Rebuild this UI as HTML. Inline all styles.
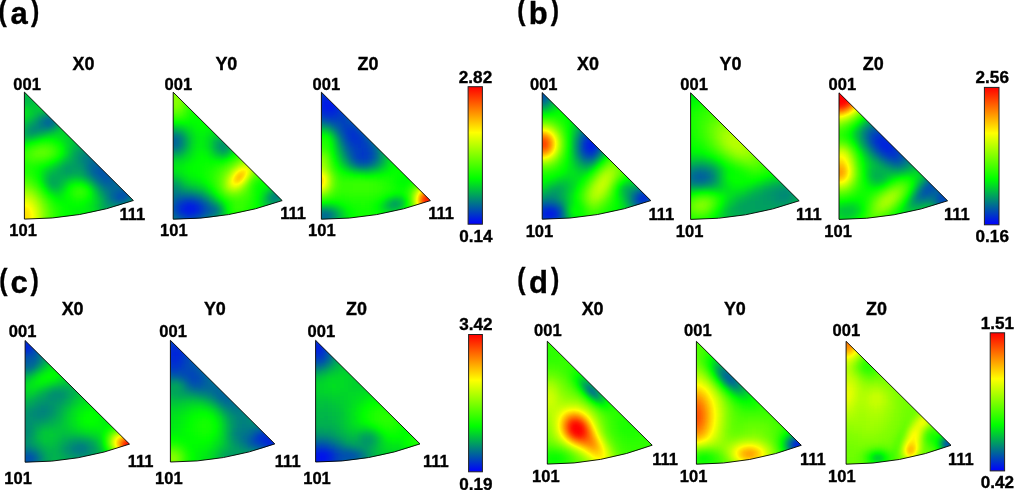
<!DOCTYPE html><html><head><meta charset="utf-8"><title>IPF</title><style>html,body{margin:0;padding:0;background:#fff;width:1015px;height:490px;overflow:hidden}svg{display:block}text{font-family:"Liberation Sans",Arial,sans-serif;font-weight:bold;fill:#000;stroke:#000;stroke-width:0.35px}</style></head><body>
<svg width="1015" height="490" viewBox="0 0 1015 490" shape-rendering="crispEdges">
<defs>
<linearGradient id="cb" x1="0" y1="1" x2="0" y2="0"><stop offset="0" stop-color="#0000ff"/><stop offset="0.3333" stop-color="#00ff00"/><stop offset="0.6667" stop-color="#ffff00"/><stop offset="1" stop-color="#ff0000"/></linearGradient>
<filter id="fm" x="-15%" y="-15%" width="130%" height="130%" color-interpolation-filters="sRGB"><feGaussianBlur stdDeviation="2.2"/><feComponentTransfer><feFuncR type="table" tableValues="0 0 1 1"/><feFuncG type="table" tableValues="0 1 1 0"/><feFuncB type="table" tableValues="1 0 0 0"/></feComponentTransfer></filter>
<clipPath id="caX"><path d="M24.40,92.10 L133.40,200.50 A325,325 0 0 1 24.40,219.10 Z"/></clipPath>
<clipPath id="caY"><path d="M173.20,92.20 L282.20,200.60 A325,325 0 0 1 173.20,219.20 Z"/></clipPath>
<clipPath id="caZ"><path d="M321.40,92.20 L430.40,200.60 A325,325 0 0 1 321.40,219.20 Z"/></clipPath>
<clipPath id="cbX"><path d="M542.20,92.60 L650.80,200.60 A325,325 0 0 1 542.20,219.20 Z"/></clipPath>
<clipPath id="cbY"><path d="M690.60,92.80 L799.20,200.80 A325,325 0 0 1 690.60,219.40 Z"/></clipPath>
<clipPath id="cbZ"><path d="M839.00,92.80 L947.60,200.80 A325,325 0 0 1 839.00,219.40 Z"/></clipPath>
<clipPath id="ccX"><path d="M25.10,340.50 L129.50,444.10 A305,305 0 0 1 25.10,462.20 Z"/></clipPath>
<clipPath id="ccY"><path d="M170.40,340.30 L274.80,443.90 A305,305 0 0 1 170.40,462.00 Z"/></clipPath>
<clipPath id="ccZ"><path d="M315.60,340.30 L420.00,443.90 A305,305 0 0 1 315.60,462.00 Z"/></clipPath>
<clipPath id="cdX"><path d="M547.30,341.20 L652.20,445.20 A300,300 0 0 1 547.30,464.10 Z"/></clipPath>
<clipPath id="cdY"><path d="M696.40,341.30 L801.30,445.30 A300,300 0 0 1 696.40,464.20 Z"/></clipPath>
<clipPath id="cdZ"><path d="M846.10,341.30 L951.00,445.30 A300,300 0 0 1 846.10,464.20 Z"/></clipPath>
</defs>
<g clip-path="url(#caX)"><g filter="url(#fm)">
<path fill="#1b1b1b" d="M120.4 192.1h4v4h-4zM120.4 196.1h4v4h-4z"/>
<path fill="#1c1c1c" d="M100.4 172.1h4v4h-4zM124.4 192.1h4v4h-4zM116.4 196.1h4v4h-4z"/>
<path fill="#1d1d1d" d="M96.4 168.1h4v4h-4zM100.4 168.1h4v4h-4zM104.4 172.1h4v4h-4zM104.4 176.1h4v4h-4zM116.4 192.1h4v4h-4z"/>
<path fill="#1e1e1e" d="M96.4 172.1h4v4h-4zM100.4 176.1h4v4h-4zM124.4 196.1h4v4h-4z"/>
<path fill="#1f1f1f" d="M96.4 164.1h4v4h-4zM108.4 176.1h4v4h-4zM104.4 180.1h4v4h-4zM108.4 180.1h4v4h-4z"/>
<path fill="#202020" d="M92.4 168.1h4v4h-4zM104.4 168.1h4v4h-4zM120.4 188.1h4v4h-4z"/>
<path fill="#212121" d="M48.4 120.1h4v4h-4zM92.4 164.1h4v4h-4zM100.4 164.1h4v4h-4zM108.4 172.1h4v4h-4zM116.4 188.1h4v4h-4zM124.4 188.1h4v4h-4zM112.4 192.1h4v4h-4zM112.4 196.1h4v4h-4z"/>
<path fill="#222222" d="M92.4 172.1h4v4h-4zM96.4 176.1h4v4h-4zM100.4 180.1h4v4h-4zM112.4 180.1h4v4h-4zM108.4 184.1h4v4h-4zM112.4 184.1h4v4h-4zM112.4 188.1h4v4h-4zM128.4 192.1h4v4h-4z"/>
<path fill="#232323" d="M44.4 120.1h4v4h-4zM92.4 160.1h4v4h-4zM112.4 176.1h4v4h-4z"/>
<path fill="#242424" d="M96.4 160.1h4v4h-4zM88.4 164.1h4v4h-4zM104.4 184.1h4v4h-4zM116.4 184.1h4v4h-4zM116.4 200.1h4v4h-4zM120.4 200.1h4v4h-4z"/>
<path fill="#252525" d="M88.4 160.1h4v4h-4zM104.4 164.1h4v4h-4zM88.4 168.1h4v4h-4zM108.4 168.1h4v4h-4zM108.4 188.1h4v4h-4zM128.4 196.1h4v4h-4z"/>
<path fill="#262626" d="M44.4 124.1h4v4h-4zM48.4 124.1h4v4h-4zM116.4 180.1h4v4h-4zM120.4 184.1h4v4h-4zM128.4 188.1h4v4h-4zM108.4 192.1h4v4h-4z"/>
<path fill="#272727" d="M48.4 116.1h4v4h-4zM52.4 120.1h4v4h-4zM88.4 156.1h4v4h-4zM92.4 156.1h4v4h-4zM100.4 160.1h4v4h-4zM112.4 172.1h4v4h-4zM112.4 200.1h4v4h-4z"/>
<path fill="#282828" d="M44.4 116.1h4v4h-4zM40.4 120.1h4v4h-4zM92.4 176.1h4v4h-4zM96.4 180.1h4v4h-4zM108.4 196.1h4v4h-4zM124.4 200.1h4v4h-4z"/>
<path fill="#292929" d="M40.4 124.1h4v4h-4zM96.4 156.1h4v4h-4zM84.4 160.1h4v4h-4zM88.4 172.1h4v4h-4zM116.4 176.1h4v4h-4zM100.4 184.1h4v4h-4zM104.4 188.1h4v4h-4z"/>
<path fill="#2a2a2a" d="M84.4 156.1h4v4h-4zM84.4 164.1h4v4h-4zM124.4 184.1h4v4h-4z"/>
<path fill="#2b2b2b" d="M108.4 164.1h4v4h-4zM120.4 180.1h4v4h-4zM132.4 192.1h4v4h-4z"/>
<path fill="#2c2c2c" d="M36.4 124.1h4v4h-4zM84.4 152.1h4v4h-4zM88.4 152.1h4v4h-4zM104.4 160.1h4v4h-4zM84.4 168.1h4v4h-4zM112.4 168.1h4v4h-4zM108.4 200.1h4v4h-4z"/>
<path fill="#2d2d2d" d="M52.4 116.1h4v4h-4zM52.4 124.1h4v4h-4zM92.4 152.1h4v4h-4zM80.4 156.1h4v4h-4zM100.4 156.1h4v4h-4zM116.4 172.1h4v4h-4zM104.4 192.1h4v4h-4z"/>
<path fill="#2e2e2e" d="M40.4 116.1h4v4h-4zM32.4 128.1h4v4h-4zM36.4 128.1h4v4h-4zM80.4 160.1h4v4h-4zM132.4 188.1h4v4h-4z"/>
<path fill="#2f2f2f" d="M36.4 120.1h4v4h-4zM40.4 128.1h4v4h-4zM80.4 152.1h4v4h-4zM128.4 184.1h4v4h-4zM100.4 188.1h4v4h-4zM132.4 196.1h4v4h-4zM128.4 200.1h4v4h-4z"/>
<path fill="#303030" d="M32.4 124.1h4v4h-4zM44.4 128.1h4v4h-4zM96.4 152.1h4v4h-4zM80.4 164.1h4v4h-4zM84.4 172.1h4v4h-4zM88.4 176.1h4v4h-4zM120.4 176.1h4v4h-4zM104.4 196.1h4v4h-4zM112.4 204.1h4v4h-4zM116.4 204.1h4v4h-4z"/>
<path fill="#313131" d="M28.4 128.1h4v4h-4zM84.4 148.1h4v4h-4zM92.4 180.1h4v4h-4zM124.4 180.1h4v4h-4zM96.4 184.1h4v4h-4zM108.4 204.1h4v4h-4zM120.4 204.1h4v4h-4z"/>
<path fill="#323232" d="M88.4 148.1h4v4h-4zM76.4 156.1h4v4h-4zM76.4 160.1h4v4h-4zM80.4 168.1h4v4h-4z"/>
<path fill="#333333" d="M48.4 128.1h4v4h-4zM80.4 148.1h4v4h-4zM76.4 152.1h4v4h-4zM76.4 164.1h4v4h-4zM104.4 200.1h4v4h-4z"/>
<path fill="#343434" d="M48.4 112.1h4v4h-4zM56.4 120.1h4v4h-4zM28.4 132.1h4v4h-4zM32.4 132.1h4v4h-4zM92.4 148.1h4v4h-4zM72.4 164.1h4v4h-4zM64.4 168.1h4v4h-4zM68.4 168.1h4v4h-4zM104.4 204.1h4v4h-4zM124.4 204.1h4v4h-4z"/>
<path fill="#353535" d="M44.4 112.1h4v4h-4zM36.4 116.1h4v4h-4zM32.4 120.1h4v4h-4zM28.4 124.1h4v4h-4zM68.4 164.1h4v4h-4zM72.4 168.1h4v4h-4zM76.4 168.1h4v4h-4zM100.4 192.1h4v4h-4z"/>
<path fill="#363636" d="M76.4 148.1h4v4h-4zM72.4 160.1h4v4h-4zM64.4 172.1h4v4h-4zM80.4 172.1h4v4h-4zM136.4 192.1h4v4h-4zM132.4 200.1h4v4h-4z"/>
<path fill="#373737" d="M56.4 116.1h4v4h-4zM56.4 124.1h4v4h-4zM24.4 128.1h4v4h-4zM24.4 132.1h4v4h-4zM36.4 132.1h4v4h-4zM84.4 144.1h4v4h-4zM72.4 156.1h4v4h-4zM64.4 164.1h4v4h-4zM68.4 172.1h4v4h-4zM52.4 180.1h4v4h-4z"/>
<path fill="#383838" d="M80.4 144.1h4v4h-4zM88.4 144.1h4v4h-4zM60.4 168.1h4v4h-4zM60.4 172.1h4v4h-4zM72.4 172.1h4v4h-4zM52.4 176.1h4v4h-4zM84.4 176.1h4v4h-4zM128.4 204.1h4v4h-4z"/>
<path fill="#393939" d="M40.4 112.1h4v4h-4zM52.4 112.1h4v4h-4zM52.4 128.1h4v4h-4zM72.4 152.1h4v4h-4zM68.4 160.1h4v4h-4zM56.4 172.1h4v4h-4zM76.4 172.1h4v4h-4zM56.4 176.1h4v4h-4zM56.4 180.1h4v4h-4zM96.4 188.1h4v4h-4zM100.4 196.1h4v4h-4zM136.4 196.1h4v4h-4z"/>
<path fill="#3a3a3a" d="M76.4 144.1h4v4h-4zM60.4 176.1h4v4h-4zM48.4 180.1h4v4h-4zM52.4 184.1h4v4h-4zM100.4 204.1h4v4h-4z"/>
<path fill="#3b3b3b" d="M28.4 120.1h4v4h-4zM24.4 124.1h4v4h-4zM40.4 132.1h4v4h-4zM52.4 172.1h4v4h-4zM48.4 176.1h4v4h-4zM100.4 200.1h4v4h-4zM104.4 208.1h4v4h-4zM108.4 208.1h4v4h-4z"/>
<path fill="#3c3c3c" d="M32.4 116.1h4v4h-4zM20.4 132.1h4v4h-4zM72.4 148.1h4v4h-4zM60.4 164.1h4v4h-4zM56.4 168.1h4v4h-4zM64.4 176.1h4v4h-4zM88.4 180.1h4v4h-4zM56.4 184.1h4v4h-4zM92.4 184.1h4v4h-4zM132.4 204.1h4v4h-4zM112.4 208.1h4v4h-4zM116.4 208.1h4v4h-4zM120.4 208.1h4v4h-4z"/>
<path fill="#3d3d3d" d="M24.4 96.1h4v4h-4zM36.4 112.1h4v4h-4zM20.4 128.1h4v4h-4zM80.4 140.1h4v4h-4zM84.4 140.1h4v4h-4zM68.4 156.1h4v4h-4zM64.4 160.1h4v4h-4zM60.4 180.1h4v4h-4zM136.4 200.1h4v4h-4zM124.4 208.1h4v4h-4z"/>
<path fill="#3e3e3e" d="M28.4 96.1h4v4h-4zM24.4 100.1h4v4h-4zM28.4 100.1h4v4h-4zM24.4 136.1h4v4h-4zM76.4 140.1h4v4h-4zM72.4 144.1h4v4h-4zM48.4 172.1h4v4h-4zM80.4 176.1h4v4h-4zM96.4 192.1h4v4h-4zM100.4 208.1h4v4h-4zM128.4 208.1h4v4h-4z"/>
<path fill="#3f3f3f" d="M24.4 92.1h4v4h-4zM28.4 92.1h4v4h-4zM20.4 96.1h4v4h-4zM60.4 120.1h4v4h-4zM56.4 128.1h4v4h-4zM44.4 132.1h4v4h-4zM28.4 136.1h4v4h-4zM68.4 176.1h4v4h-4zM48.4 184.1h4v4h-4z"/>
<path fill="#404040" d="M20.4 92.1h4v4h-4zM32.4 96.1h4v4h-4zM20.4 100.1h4v4h-4zM32.4 100.1h4v4h-4zM56.4 112.1h4v4h-4zM20.4 136.1h4v4h-4zM72.4 140.1h4v4h-4zM52.4 168.1h4v4h-4zM136.4 204.1h4v4h-4z"/>
<path fill="#414141" d="M32.4 104.1h4v4h-4zM44.4 108.1h4v4h-4zM32.4 112.1h4v4h-4zM24.4 120.1h4v4h-4zM60.4 124.1h4v4h-4zM76.4 136.1h4v4h-4zM80.4 136.1h4v4h-4zM68.4 152.1h4v4h-4zM72.4 176.1h4v4h-4zM76.4 176.1h4v4h-4zM140.4 196.1h4v4h-4z"/>
<path fill="#424242" d="M24.4 88.1h4v4h-4zM28.4 88.1h4v4h-4zM32.4 92.1h4v4h-4zM16.4 96.1h4v4h-4zM16.4 100.1h4v4h-4zM28.4 104.1h4v4h-4zM32.4 108.1h4v4h-4zM36.4 108.1h4v4h-4zM40.4 108.1h4v4h-4zM48.4 108.1h4v4h-4zM28.4 116.1h4v4h-4zM60.4 116.1h4v4h-4zM20.4 124.1h4v4h-4zM16.4 132.1h4v4h-4zM48.4 132.1h4v4h-4zM32.4 136.1h4v4h-4zM72.4 136.1h4v4h-4zM56.4 164.1h4v4h-4zM44.4 176.1h4v4h-4zM60.4 184.1h4v4h-4zM52.4 188.1h4v4h-4zM56.4 188.1h4v4h-4zM96.4 196.1h4v4h-4zM140.4 200.1h4v4h-4zM96.4 204.1h4v4h-4z"/>
<path fill="#434343" d="M20.4 88.1h4v4h-4zM16.4 92.1h4v4h-4zM20.4 104.1h4v4h-4zM24.4 104.1h4v4h-4zM16.4 136.1h4v4h-4zM68.4 148.1h4v4h-4zM44.4 180.1h4v4h-4zM64.4 180.1h4v4h-4zM96.4 200.1h4v4h-4zM140.4 204.1h4v4h-4zM96.4 208.1h4v4h-4z"/>
<path fill="#444444" d="M32.4 88.1h4v4h-4zM36.4 96.1h4v4h-4zM36.4 100.1h4v4h-4zM16.4 104.1h4v4h-4zM36.4 104.1h4v4h-4zM52.4 108.1h4v4h-4zM16.4 128.1h4v4h-4zM60.4 128.1h4v4h-4zM68.4 140.1h4v4h-4zM68.4 144.1h4v4h-4zM64.4 156.1h4v4h-4zM60.4 160.1h4v4h-4zM48.4 168.1h4v4h-4zM116.4 212.1h4v4h-4z"/>
<path fill="#454545" d="M24.4 84.1h4v4h-4zM36.4 92.1h4v4h-4zM20.4 120.1h4v4h-4zM52.4 132.1h4v4h-4zM68.4 132.1h4v4h-4zM72.4 132.1h4v4h-4zM76.4 132.1h4v4h-4zM68.4 136.1h4v4h-4zM44.4 172.1h4v4h-4zM84.4 180.1h4v4h-4zM92.4 188.1h4v4h-4z"/>
<path fill="#464646" d="M20.4 84.1h4v4h-4zM28.4 84.1h4v4h-4zM16.4 88.1h4v4h-4zM40.4 104.1h4v4h-4zM16.4 108.1h4v4h-4zM28.4 108.1h4v4h-4zM28.4 112.1h4v4h-4zM64.4 124.1h4v4h-4zM64.4 128.1h4v4h-4zM64.4 132.1h4v4h-4zM36.4 136.1h4v4h-4zM108.4 212.1h4v4h-4zM112.4 212.1h4v4h-4z"/>
<path fill="#474747" d="M40.4 100.1h4v4h-4zM24.4 116.1h4v4h-4zM64.4 120.1h4v4h-4zM16.4 124.1h4v4h-4zM68.4 128.1h4v4h-4zM72.4 128.1h4v4h-4zM56.4 132.1h4v4h-4zM60.4 132.1h4v4h-4zM64.4 136.1h4v4h-4zM52.4 164.1h4v4h-4zM48.4 188.1h4v4h-4zM104.4 212.1h4v4h-4z"/>
<path fill="#484848" d="M16.4 84.1h4v4h-4zM40.4 96.1h4v4h-4zM44.4 104.1h4v4h-4zM20.4 108.1h4v4h-4zM16.4 112.1h4v4h-4zM20.4 116.1h4v4h-4zM68.4 124.1h4v4h-4zM20.4 140.1h4v4h-4zM60.4 188.1h4v4h-4zM100.4 212.1h4v4h-4z"/>
<path fill="#494949" d="M48.4 104.1h4v4h-4zM16.4 116.1h4v4h-4zM16.4 120.1h4v4h-4zM16.4 140.1h4v4h-4zM64.4 140.1h4v4h-4zM68.4 180.1h4v4h-4zM44.4 184.1h4v4h-4zM88.4 184.1h4v4h-4zM92.4 204.1h4v4h-4z"/>
<path fill="#4a4a4a" d="M44.4 100.1h4v4h-4zM24.4 108.1h4v4h-4zM20.4 112.1h4v4h-4zM60.4 136.1h4v4h-4zM24.4 140.1h4v4h-4zM64.4 152.1h4v4h-4zM44.4 168.1h4v4h-4zM64.4 184.1h4v4h-4zM56.4 192.1h4v4h-4zM92.4 192.1h4v4h-4zM92.4 196.1h4v4h-4zM92.4 200.1h4v4h-4zM92.4 208.1h4v4h-4zM96.4 212.1h4v4h-4z"/>
<path fill="#4b4b4b" d="M40.4 136.1h4v4h-4zM64.4 144.1h4v4h-4zM56.4 160.1h4v4h-4z"/>
<path fill="#4c4c4c" d="M24.4 112.1h4v4h-4zM64.4 148.1h4v4h-4zM80.4 180.1h4v4h-4zM52.4 192.1h4v4h-4z"/>
<path fill="#4d4d4d" d="M56.4 136.1h4v4h-4zM60.4 156.1h4v4h-4zM48.4 164.1h4v4h-4zM40.4 172.1h4v4h-4zM40.4 176.1h4v4h-4zM72.4 180.1h4v4h-4zM92.4 212.1h4v4h-4z"/>
<path fill="#4e4e4e" d="M44.4 136.1h4v4h-4zM28.4 140.1h4v4h-4zM76.4 180.1h4v4h-4zM60.4 192.1h4v4h-4zM88.4 204.1h4v4h-4zM88.4 208.1h4v4h-4zM100.4 216.1h4v4h-4z"/>
<path fill="#4f4f4f" d="M48.4 136.1h4v4h-4zM52.4 136.1h4v4h-4zM60.4 140.1h4v4h-4zM88.4 212.1h4v4h-4zM96.4 216.1h4v4h-4z"/>
<path fill="#505050" d="M16.4 144.1h4v4h-4zM40.4 168.1h4v4h-4zM40.4 180.1h4v4h-4zM64.4 188.1h4v4h-4zM88.4 200.1h4v4h-4zM84.4 208.1h4v4h-4zM92.4 216.1h4v4h-4z"/>
<path fill="#515151" d="M56.4 196.1h4v4h-4zM60.4 196.1h4v4h-4zM84.4 204.1h4v4h-4zM80.4 212.1h4v4h-4zM84.4 212.1h4v4h-4zM80.4 216.1h4v4h-4zM84.4 216.1h4v4h-4zM88.4 216.1h4v4h-4zM84.4 220.1h4v4h-4z"/>
<path fill="#525252" d="M52.4 160.1h4v4h-4zM44.4 164.1h4v4h-4zM68.4 184.1h4v4h-4zM44.4 188.1h4v4h-4zM48.4 192.1h4v4h-4zM76.4 208.1h4v4h-4zM80.4 208.1h4v4h-4zM76.4 212.1h4v4h-4zM72.4 216.1h4v4h-4zM76.4 216.1h4v4h-4zM72.4 220.1h4v4h-4zM76.4 220.1h4v4h-4zM80.4 220.1h4v4h-4z"/>
<path fill="#535353" d="M32.4 140.1h4v4h-4zM20.4 144.1h4v4h-4zM60.4 144.1h4v4h-4zM88.4 188.1h4v4h-4zM88.4 196.1h4v4h-4zM80.4 204.1h4v4h-4zM72.4 208.1h4v4h-4zM72.4 212.1h4v4h-4zM68.4 216.1h4v4h-4zM68.4 220.1h4v4h-4z"/>
<path fill="#545454" d="M56.4 140.1h4v4h-4zM60.4 152.1h4v4h-4zM84.4 184.1h4v4h-4zM64.4 192.1h4v4h-4zM52.4 196.1h4v4h-4zM64.4 196.1h4v4h-4zM60.4 200.1h4v4h-4zM64.4 200.1h4v4h-4zM84.4 200.1h4v4h-4zM68.4 204.1h4v4h-4zM72.4 204.1h4v4h-4zM76.4 204.1h4v4h-4zM68.4 208.1h4v4h-4zM68.4 212.1h4v4h-4z"/>
<path fill="#555555" d="M36.4 172.1h4v4h-4zM88.4 192.1h4v4h-4zM64.4 204.1h4v4h-4zM64.4 216.1h4v4h-4zM64.4 220.1h4v4h-4z"/>
<path fill="#565656" d="M60.4 148.1h4v4h-4zM56.4 156.1h4v4h-4zM56.4 200.1h4v4h-4zM68.4 200.1h4v4h-4zM64.4 208.1h4v4h-4zM64.4 212.1h4v4h-4z"/>
<path fill="#575757" d="M36.4 140.1h4v4h-4zM24.4 144.1h4v4h-4zM40.4 164.1h4v4h-4zM36.4 168.1h4v4h-4zM36.4 176.1h4v4h-4zM40.4 184.1h4v4h-4zM72.4 200.1h4v4h-4zM80.4 200.1h4v4h-4zM60.4 204.1h4v4h-4z"/>
<path fill="#585858" d="M52.4 140.1h4v4h-4zM16.4 148.1h4v4h-4zM48.4 160.1h4v4h-4zM68.4 196.1h4v4h-4zM76.4 200.1h4v4h-4zM60.4 216.1h4v4h-4zM60.4 220.1h4v4h-4z"/>
<path fill="#595959" d="M72.4 184.1h4v4h-4zM68.4 188.1h4v4h-4zM60.4 208.1h4v4h-4zM60.4 212.1h4v4h-4z"/>
<path fill="#5a5a5a" d="M68.4 192.1h4v4h-4zM84.4 196.1h4v4h-4z"/>
<path fill="#5b5b5b" d="M40.4 140.1h4v4h-4zM48.4 140.1h4v4h-4zM56.4 144.1h4v4h-4zM36.4 164.1h4v4h-4zM32.4 168.1h4v4h-4zM80.4 184.1h4v4h-4zM52.4 200.1h4v4h-4zM56.4 204.1h4v4h-4zM56.4 224.1h4v4h-4z"/>
<path fill="#5c5c5c" d="M44.4 140.1h4v4h-4zM20.4 148.1h4v4h-4zM32.4 172.1h4v4h-4zM36.4 180.1h4v4h-4zM76.4 184.1h4v4h-4zM48.4 196.1h4v4h-4zM72.4 196.1h4v4h-4zM56.4 220.1h4v4h-4z"/>
<path fill="#5d5d5d" d="M28.4 144.1h4v4h-4zM16.4 152.1h4v4h-4zM16.4 164.1h4v4h-4zM44.4 192.1h4v4h-4zM56.4 216.1h4v4h-4z"/>
<path fill="#5e5e5e" d="M56.4 152.1h4v4h-4zM16.4 156.1h4v4h-4zM52.4 156.1h4v4h-4zM16.4 160.1h4v4h-4zM44.4 160.1h4v4h-4zM20.4 164.1h4v4h-4zM32.4 164.1h4v4h-4zM16.4 168.1h4v4h-4zM28.4 168.1h4v4h-4zM84.4 188.1h4v4h-4zM80.4 196.1h4v4h-4zM56.4 208.1h4v4h-4zM56.4 212.1h4v4h-4z"/>
<path fill="#5f5f5f" d="M56.4 148.1h4v4h-4zM24.4 164.1h4v4h-4zM28.4 164.1h4v4h-4zM20.4 168.1h4v4h-4zM24.4 168.1h4v4h-4zM32.4 176.1h4v4h-4zM84.4 192.1h4v4h-4zM76.4 196.1h4v4h-4z"/>
<path fill="#606060" d="M20.4 160.1h4v4h-4zM28.4 172.1h4v4h-4zM40.4 188.1h4v4h-4zM72.4 188.1h4v4h-4z"/>
<path fill="#616161" d="M20.4 152.1h4v4h-4zM40.4 160.1h4v4h-4zM72.4 192.1h4v4h-4zM52.4 204.1h4v4h-4zM52.4 224.1h4v4h-4z"/>
<path fill="#626262" d="M32.4 144.1h4v4h-4zM52.4 144.1h4v4h-4zM24.4 148.1h4v4h-4zM20.4 156.1h4v4h-4zM16.4 172.1h4v4h-4zM20.4 172.1h4v4h-4zM24.4 172.1h4v4h-4z"/>
<path fill="#636363" d="M24.4 160.1h4v4h-4zM52.4 220.1h4v4h-4z"/>
<path fill="#646464" d="M28.4 160.1h4v4h-4zM36.4 160.1h4v4h-4zM36.4 184.1h4v4h-4zM76.4 188.1h4v4h-4zM80.4 188.1h4v4h-4zM80.4 192.1h4v4h-4zM48.4 200.1h4v4h-4zM52.4 208.1h4v4h-4zM52.4 216.1h4v4h-4z"/>
<path fill="#656565" d="M48.4 156.1h4v4h-4zM32.4 160.1h4v4h-4zM28.4 176.1h4v4h-4zM76.4 192.1h4v4h-4zM52.4 212.1h4v4h-4z"/>
<path fill="#666666" d="M36.4 144.1h4v4h-4zM24.4 156.1h4v4h-4zM32.4 180.1h4v4h-4z"/>
<path fill="#676767" d="M48.4 144.1h4v4h-4zM28.4 148.1h4v4h-4zM24.4 152.1h4v4h-4zM52.4 152.1h4v4h-4zM16.4 176.1h4v4h-4zM44.4 196.1h4v4h-4z"/>
<path fill="#686868" d="M52.4 148.1h4v4h-4zM20.4 176.1h4v4h-4zM24.4 176.1h4v4h-4z"/>
<path fill="#696969" d="M40.4 144.1h4v4h-4zM44.4 144.1h4v4h-4zM48.4 204.1h4v4h-4z"/>
<path fill="#6a6a6a" d="M28.4 156.1h4v4h-4zM44.4 156.1h4v4h-4zM40.4 192.1h4v4h-4zM48.4 224.1h4v4h-4z"/>
<path fill="#6c6c6c" d="M28.4 152.1h4v4h-4zM32.4 156.1h4v4h-4zM28.4 180.1h4v4h-4zM48.4 220.1h4v4h-4z"/>
<path fill="#6d6d6d" d="M32.4 148.1h4v4h-4zM40.4 156.1h4v4h-4zM36.4 188.1h4v4h-4zM48.4 208.1h4v4h-4zM48.4 216.1h4v4h-4z"/>
<path fill="#6e6e6e" d="M48.4 148.1h4v4h-4zM48.4 152.1h4v4h-4zM36.4 156.1h4v4h-4zM16.4 180.1h4v4h-4zM32.4 184.1h4v4h-4zM48.4 212.1h4v4h-4z"/>
<path fill="#6f6f6f" d="M24.4 180.1h4v4h-4zM44.4 200.1h4v4h-4z"/>
<path fill="#707070" d="M32.4 152.1h4v4h-4zM20.4 180.1h4v4h-4z"/>
<path fill="#717171" d="M36.4 148.1h4v4h-4z"/>
<path fill="#727272" d="M40.4 148.1h4v4h-4zM44.4 148.1h4v4h-4zM44.4 152.1h4v4h-4z"/>
<path fill="#737373" d="M36.4 152.1h4v4h-4z"/>
<path fill="#747474" d="M40.4 152.1h4v4h-4zM40.4 196.1h4v4h-4z"/>
<path fill="#757575" d="M28.4 184.1h4v4h-4zM44.4 204.1h4v4h-4zM44.4 224.1h4v4h-4z"/>
<path fill="#777777" d="M16.4 184.1h4v4h-4zM36.4 192.1h4v4h-4z"/>
<path fill="#787878" d="M32.4 188.1h4v4h-4zM44.4 220.1h4v4h-4z"/>
<path fill="#797979" d="M20.4 184.1h4v4h-4zM24.4 184.1h4v4h-4zM44.4 208.1h4v4h-4zM44.4 216.1h4v4h-4z"/>
<path fill="#7a7a7a" d="M44.4 212.1h4v4h-4z"/>
<path fill="#7c7c7c" d="M40.4 200.1h4v4h-4z"/>
<path fill="#808080" d="M28.4 188.1h4v4h-4z"/>
<path fill="#818181" d="M16.4 188.1h4v4h-4zM36.4 196.1h4v4h-4z"/>
<path fill="#828282" d="M40.4 204.1h4v4h-4zM40.4 224.1h4v4h-4z"/>
<path fill="#838383" d="M24.4 188.1h4v4h-4zM32.4 192.1h4v4h-4z"/>
<path fill="#848484" d="M20.4 188.1h4v4h-4z"/>
<path fill="#868686" d="M40.4 208.1h4v4h-4zM40.4 220.1h4v4h-4z"/>
<path fill="#888888" d="M40.4 212.1h4v4h-4zM40.4 216.1h4v4h-4z"/>
<path fill="#898989" d="M36.4 200.1h4v4h-4z"/>
<path fill="#8b8b8b" d="M16.4 192.1h4v4h-4zM28.4 192.1h4v4h-4z"/>
<path fill="#8d8d8d" d="M32.4 196.1h4v4h-4z"/>
<path fill="#8f8f8f" d="M20.4 192.1h4v4h-4zM24.4 192.1h4v4h-4z"/>
<path fill="#909090" d="M36.4 204.1h4v4h-4zM36.4 224.1h4v4h-4z"/>
<path fill="#959595" d="M28.4 196.1h4v4h-4zM36.4 208.1h4v4h-4zM36.4 220.1h4v4h-4z"/>
<path fill="#969696" d="M16.4 196.1h4v4h-4zM32.4 200.1h4v4h-4z"/>
<path fill="#979797" d="M36.4 212.1h4v4h-4zM36.4 216.1h4v4h-4z"/>
<path fill="#9a9a9a" d="M20.4 196.1h4v4h-4zM24.4 196.1h4v4h-4z"/>
<path fill="#9d9d9d" d="M32.4 204.1h4v4h-4zM32.4 224.1h4v4h-4z"/>
<path fill="#9f9f9f" d="M16.4 200.1h4v4h-4zM28.4 200.1h4v4h-4z"/>
<path fill="#a2a2a2" d="M32.4 208.1h4v4h-4zM32.4 220.1h4v4h-4z"/>
<path fill="#a4a4a4" d="M20.4 200.1h4v4h-4zM24.4 200.1h4v4h-4z"/>
<path fill="#a5a5a5" d="M32.4 212.1h4v4h-4zM32.4 216.1h4v4h-4z"/>
<path fill="#a7a7a7" d="M16.4 204.1h4v4h-4zM28.4 204.1h4v4h-4zM16.4 224.1h4v4h-4zM28.4 224.1h4v4h-4z"/>
<path fill="#adadad" d="M20.4 204.1h4v4h-4zM24.4 204.1h4v4h-4zM16.4 208.1h4v4h-4zM28.4 208.1h4v4h-4zM16.4 220.1h4v4h-4zM28.4 220.1h4v4h-4zM20.4 224.1h4v4h-4zM24.4 224.1h4v4h-4z"/>
<path fill="#b0b0b0" d="M16.4 212.1h4v4h-4zM28.4 212.1h4v4h-4zM16.4 216.1h4v4h-4zM28.4 216.1h4v4h-4z"/>
<path fill="#b3b3b3" d="M20.4 208.1h4v4h-4zM24.4 208.1h4v4h-4zM20.4 220.1h4v4h-4zM24.4 220.1h4v4h-4z"/>
<path fill="#b6b6b6" d="M20.4 212.1h4v4h-4zM24.4 212.1h4v4h-4zM20.4 216.1h4v4h-4zM24.4 216.1h4v4h-4z"/>
</g></g>
<path d="M24.40,92.10 L133.40,200.50 A325,325 0 0 1 24.40,219.10 Z" fill="none" stroke="#000" stroke-width="0.9" shape-rendering="geometricPrecision"/>
<g clip-path="url(#caY)"><g filter="url(#fm)">
<path fill="#080808" d="M189.2 208.2h4v4h-4z"/>
<path fill="#090909" d="M185.2 208.2h4v4h-4z"/>
<path fill="#0a0a0a" d="M185.2 204.2h4v4h-4zM189.2 204.2h4v4h-4zM193.2 208.2h4v4h-4z"/>
<path fill="#0c0c0c" d="M193.2 204.2h4v4h-4zM181.2 208.2h4v4h-4z"/>
<path fill="#0d0d0d" d="M185.2 212.2h4v4h-4zM189.2 212.2h4v4h-4z"/>
<path fill="#0e0e0e" d="M181.2 204.2h4v4h-4z"/>
<path fill="#0f0f0f" d="M197.2 208.2h4v4h-4zM193.2 212.2h4v4h-4z"/>
<path fill="#111111" d="M189.2 200.2h4v4h-4zM197.2 204.2h4v4h-4zM181.2 212.2h4v4h-4z"/>
<path fill="#121212" d="M185.2 200.2h4v4h-4zM177.2 208.2h4v4h-4z"/>
<path fill="#131313" d="M193.2 200.2h4v4h-4zM177.2 204.2h4v4h-4zM197.2 212.2h4v4h-4z"/>
<path fill="#141414" d="M181.2 200.2h4v4h-4z"/>
<path fill="#151515" d="M201.2 208.2h4v4h-4z"/>
<path fill="#161616" d="M177.2 212.2h4v4h-4z"/>
<path fill="#171717" d="M201.2 204.2h4v4h-4zM185.2 216.2h4v4h-4zM189.2 216.2h4v4h-4z"/>
<path fill="#181818" d="M177.2 200.2h4v4h-4zM197.2 200.2h4v4h-4zM193.2 216.2h4v4h-4z"/>
<path fill="#191919" d="M173.2 208.2h4v4h-4zM201.2 212.2h4v4h-4z"/>
<path fill="#1a1a1a" d="M173.2 204.2h4v4h-4zM181.2 216.2h4v4h-4z"/>
<path fill="#1c1c1c" d="M205.2 208.2h4v4h-4zM197.2 216.2h4v4h-4z"/>
<path fill="#1d1d1d" d="M185.2 196.2h4v4h-4zM189.2 196.2h4v4h-4zM173.2 212.2h4v4h-4z"/>
<path fill="#1e1e1e" d="M181.2 196.2h4v4h-4zM173.2 200.2h4v4h-4zM205.2 204.2h4v4h-4z"/>
<path fill="#1f1f1f" d="M193.2 196.2h4v4h-4zM201.2 200.2h4v4h-4zM205.2 212.2h4v4h-4zM177.2 216.2h4v4h-4z"/>
<path fill="#202020" d="M177.2 196.2h4v4h-4zM209.2 208.2h4v4h-4z"/>
<path fill="#212121" d="M173.2 140.2h4v4h-4z"/>
<path fill="#222222" d="M169.2 204.2h4v4h-4zM169.2 208.2h4v4h-4zM201.2 216.2h4v4h-4z"/>
<path fill="#232323" d="M173.2 196.2h4v4h-4zM197.2 196.2h4v4h-4zM209.2 212.2h4v4h-4z"/>
<path fill="#242424" d="M173.2 136.2h4v4h-4zM173.2 144.2h4v4h-4zM213.2 208.2h4v4h-4zM185.2 220.2h4v4h-4zM189.2 220.2h4v4h-4z"/>
<path fill="#252525" d="M169.2 140.2h4v4h-4zM177.2 140.2h4v4h-4zM169.2 200.2h4v4h-4zM209.2 204.2h4v4h-4zM169.2 212.2h4v4h-4zM173.2 216.2h4v4h-4zM193.2 220.2h4v4h-4z"/>
<path fill="#262626" d="M205.2 200.2h4v4h-4zM181.2 220.2h4v4h-4z"/>
<path fill="#272727" d="M169.2 144.2h4v4h-4zM177.2 144.2h4v4h-4zM177.2 192.2h4v4h-4zM205.2 216.2h4v4h-4z"/>
<path fill="#282828" d="M169.2 136.2h4v4h-4zM177.2 136.2h4v4h-4zM173.2 192.2h4v4h-4zM181.2 192.2h4v4h-4zM213.2 212.2h4v4h-4zM197.2 220.2h4v4h-4z"/>
<path fill="#292929" d="M185.2 192.2h4v4h-4zM169.2 196.2h4v4h-4zM273.2 196.2h4v4h-4z"/>
<path fill="#2a2a2a" d="M189.2 192.2h4v4h-4zM201.2 196.2h4v4h-4zM177.2 220.2h4v4h-4z"/>
<path fill="#2b2b2b" d="M165.2 204.2h4v4h-4zM213.2 204.2h4v4h-4zM165.2 208.2h4v4h-4z"/>
<path fill="#2c2c2c" d="M173.2 148.2h4v4h-4zM173.2 188.2h4v4h-4zM277.2 196.2h4v4h-4zM169.2 216.2h4v4h-4z"/>
<path fill="#2d2d2d" d="M173.2 132.2h4v4h-4zM169.2 192.2h4v4h-4zM193.2 192.2h4v4h-4zM273.2 192.2h4v4h-4zM277.2 192.2h4v4h-4zM209.2 216.2h4v4h-4zM201.2 220.2h4v4h-4z"/>
<path fill="#2e2e2e" d="M165.2 140.2h4v4h-4zM181.2 140.2h4v4h-4zM177.2 188.2h4v4h-4zM165.2 200.2h4v4h-4zM217.2 208.2h4v4h-4zM165.2 212.2h4v4h-4z"/>
<path fill="#2f2f2f" d="M169.2 148.2h4v4h-4zM177.2 148.2h4v4h-4zM269.2 196.2h4v4h-4zM209.2 200.2h4v4h-4zM173.2 220.2h4v4h-4z"/>
<path fill="#303030" d="M169.2 132.2h4v4h-4zM177.2 132.2h4v4h-4zM165.2 136.2h4v4h-4zM181.2 136.2h4v4h-4zM165.2 144.2h4v4h-4zM181.2 144.2h4v4h-4zM221.2 144.2h4v4h-4zM169.2 188.2h4v4h-4zM197.2 192.2h4v4h-4z"/>
<path fill="#313131" d="M173.2 184.2h4v4h-4zM165.2 196.2h4v4h-4zM273.2 200.2h4v4h-4zM217.2 212.2h4v4h-4zM185.2 224.2h4v4h-4zM189.2 224.2h4v4h-4z"/>
<path fill="#323232" d="M221.2 148.2h4v4h-4zM181.2 188.2h4v4h-4zM205.2 196.2h4v4h-4zM205.2 220.2h4v4h-4zM193.2 224.2h4v4h-4z"/>
<path fill="#333333" d="M217.2 144.2h4v4h-4zM225.2 144.2h4v4h-4zM165.2 216.2h4v4h-4zM213.2 216.2h4v4h-4zM181.2 224.2h4v4h-4z"/>
<path fill="#343434" d="M221.2 140.2h4v4h-4zM169.2 184.2h4v4h-4zM177.2 184.2h4v4h-4zM269.2 200.2h4v4h-4z"/>
<path fill="#353535" d="M185.2 188.2h4v4h-4zM165.2 192.2h4v4h-4zM269.2 192.2h4v4h-4zM281.2 192.2h4v4h-4zM169.2 220.2h4v4h-4zM197.2 224.2h4v4h-4z"/>
<path fill="#363636" d="M217.2 140.2h4v4h-4zM165.2 148.2h4v4h-4zM181.2 148.2h4v4h-4zM217.2 148.2h4v4h-4zM225.2 148.2h4v4h-4zM173.2 152.2h4v4h-4zM201.2 192.2h4v4h-4zM281.2 196.2h4v4h-4zM277.2 200.2h4v4h-4zM217.2 204.2h4v4h-4zM177.2 224.2h4v4h-4z"/>
<path fill="#373737" d="M165.2 132.2h4v4h-4zM181.2 132.2h4v4h-4zM189.2 188.2h4v4h-4zM209.2 220.2h4v4h-4z"/>
<path fill="#383838" d="M225.2 140.2h4v4h-4zM169.2 152.2h4v4h-4zM177.2 152.2h4v4h-4zM173.2 180.2h4v4h-4zM277.2 188.2h4v4h-4zM213.2 200.2h4v4h-4zM201.2 224.2h4v4h-4z"/>
<path fill="#393939" d="M173.2 128.2h4v4h-4zM185.2 140.2h4v4h-4zM165.2 188.2h4v4h-4zM173.2 224.2h4v4h-4z"/>
<path fill="#3a3a3a" d="M169.2 180.2h4v4h-4zM181.2 184.2h4v4h-4zM193.2 188.2h4v4h-4zM165.2 220.2h4v4h-4z"/>
<path fill="#3b3b3b" d="M169.2 128.2h4v4h-4zM185.2 136.2h4v4h-4zM185.2 144.2h4v4h-4zM213.2 144.2h4v4h-4zM177.2 180.2h4v4h-4zM273.2 188.2h4v4h-4zM209.2 196.2h4v4h-4zM265.2 196.2h4v4h-4zM217.2 216.2h4v4h-4z"/>
<path fill="#3c3c3c" d="M177.2 128.2h4v4h-4zM213.2 140.2h4v4h-4zM221.2 152.2h4v4h-4zM281.2 188.2h4v4h-4zM265.2 200.2h4v4h-4zM205.2 224.2h4v4h-4z"/>
<path fill="#3d3d3d" d="M221.2 136.2h4v4h-4zM229.2 144.2h4v4h-4zM165.2 184.2h4v4h-4zM197.2 188.2h4v4h-4zM213.2 220.2h4v4h-4z"/>
<path fill="#3e3e3e" d="M217.2 136.2h4v4h-4zM213.2 148.2h4v4h-4zM165.2 152.2h4v4h-4zM181.2 152.2h4v4h-4zM205.2 192.2h4v4h-4zM221.2 208.2h4v4h-4zM169.2 224.2h4v4h-4z"/>
<path fill="#3f3f3f" d="M185.2 148.2h4v4h-4zM229.2 148.2h4v4h-4zM217.2 152.2h4v4h-4zM225.2 152.2h4v4h-4zM185.2 184.2h4v4h-4zM221.2 212.2h4v4h-4z"/>
<path fill="#404040" d="M165.2 128.2h4v4h-4zM185.2 132.2h4v4h-4zM173.2 176.2h4v4h-4zM285.2 192.2h4v4h-4zM281.2 200.2h4v4h-4zM269.2 204.2h4v4h-4zM273.2 204.2h4v4h-4z"/>
<path fill="#414141" d="M181.2 128.2h4v4h-4zM225.2 136.2h4v4h-4zM229.2 140.2h4v4h-4zM173.2 156.2h4v4h-4zM265.2 192.2h4v4h-4z"/>
<path fill="#424242" d="M213.2 136.2h4v4h-4zM169.2 156.2h4v4h-4zM177.2 156.2h4v4h-4zM169.2 176.2h4v4h-4zM165.2 180.2h4v4h-4zM181.2 180.2h4v4h-4zM189.2 184.2h4v4h-4zM201.2 188.2h4v4h-4zM269.2 188.2h4v4h-4zM165.2 224.2h4v4h-4z"/>
<path fill="#434343" d="M177.2 176.2h4v4h-4zM285.2 196.2h4v4h-4zM217.2 200.2h4v4h-4zM217.2 220.2h4v4h-4z"/>
<path fill="#444444" d="M189.2 140.2h4v4h-4zM209.2 144.2h4v4h-4zM193.2 184.2h4v4h-4zM265.2 204.2h4v4h-4zM277.2 204.2h4v4h-4z"/>
<path fill="#454545" d="M189.2 136.2h4v4h-4zM209.2 140.2h4v4h-4zM189.2 144.2h4v4h-4zM185.2 152.2h4v4h-4zM213.2 152.2h4v4h-4zM213.2 196.2h4v4h-4zM221.2 204.2h4v4h-4zM221.2 216.2h4v4h-4z"/>
<path fill="#464646" d="M217.2 132.2h4v4h-4zM165.2 156.2h4v4h-4zM181.2 156.2h4v4h-4zM277.2 184.2h4v4h-4z"/>
<path fill="#474747" d="M185.2 128.2h4v4h-4zM221.2 132.2h4v4h-4zM229.2 136.2h4v4h-4zM209.2 148.2h4v4h-4zM185.2 180.2h4v4h-4zM197.2 184.2h4v4h-4zM209.2 192.2h4v4h-4zM261.2 200.2h4v4h-4z"/>
<path fill="#484848" d="M169.2 124.2h4v4h-4zM173.2 124.2h4v4h-4zM189.2 132.2h4v4h-4zM213.2 132.2h4v4h-4zM209.2 136.2h4v4h-4zM189.2 148.2h4v4h-4zM229.2 152.2h4v4h-4zM173.2 172.2h4v4h-4zM165.2 176.2h4v4h-4zM205.2 188.2h4v4h-4zM261.2 196.2h4v4h-4z"/>
<path fill="#494949" d="M177.2 124.2h4v4h-4zM233.2 144.2h4v4h-4zM173.2 160.2h4v4h-4zM169.2 172.2h4v4h-4zM181.2 176.2h4v4h-4zM273.2 184.2h4v4h-4zM285.2 200.2h4v4h-4zM221.2 220.2h4v4h-4z"/>
<path fill="#4a4a4a" d="M225.2 132.2h4v4h-4zM233.2 140.2h4v4h-4zM185.2 156.2h4v4h-4zM217.2 156.2h4v4h-4zM221.2 156.2h4v4h-4zM169.2 160.2h4v4h-4zM177.2 160.2h4v4h-4zM177.2 172.2h4v4h-4zM189.2 180.2h4v4h-4zM265.2 188.2h4v4h-4zM281.2 204.2h4v4h-4z"/>
<path fill="#4b4b4b" d="M165.2 124.2h4v4h-4zM189.2 152.2h4v4h-4zM201.2 184.2h4v4h-4zM261.2 204.2h4v4h-4zM269.2 208.2h4v4h-4z"/>
<path fill="#4c4c4c" d="M181.2 124.2h4v4h-4zM209.2 132.2h4v4h-4zM193.2 140.2h4v4h-4zM205.2 140.2h4v4h-4zM205.2 144.2h4v4h-4zM233.2 148.2h4v4h-4zM209.2 152.2h4v4h-4zM165.2 160.2h4v4h-4zM181.2 160.2h4v4h-4zM193.2 180.2h4v4h-4zM261.2 192.2h4v4h-4zM289.2 196.2h4v4h-4zM273.2 208.2h4v4h-4z"/>
<path fill="#4d4d4d" d="M189.2 128.2h4v4h-4zM193.2 136.2h4v4h-4zM205.2 136.2h4v4h-4zM193.2 144.2h4v4h-4zM173.2 164.2h4v4h-4zM169.2 168.2h4v4h-4zM173.2 168.2h4v4h-4zM165.2 172.2h4v4h-4zM185.2 176.2h4v4h-4zM265.2 208.2h4v4h-4z"/>
<path fill="#4e4e4e" d="M213.2 128.2h4v4h-4zM217.2 128.2h4v4h-4zM221.2 128.2h4v4h-4zM193.2 132.2h4v4h-4zM193.2 148.2h4v4h-4zM205.2 148.2h4v4h-4zM213.2 156.2h4v4h-4zM225.2 156.2h4v4h-4zM169.2 164.2h4v4h-4zM177.2 164.2h4v4h-4zM177.2 168.2h4v4h-4zM181.2 172.2h4v4h-4zM269.2 184.2h4v4h-4zM225.2 212.2h4v4h-4zM225.2 216.2h4v4h-4z"/>
<path fill="#4f4f4f" d="M185.2 124.2h4v4h-4zM205.2 132.2h4v4h-4zM189.2 156.2h4v4h-4zM185.2 160.2h4v4h-4zM165.2 164.2h4v4h-4zM197.2 180.2h4v4h-4zM221.2 200.2h4v4h-4zM277.2 208.2h4v4h-4zM225.2 220.2h4v4h-4z"/>
<path fill="#505050" d="M209.2 128.2h4v4h-4zM197.2 136.2h4v4h-4zM201.2 136.2h4v4h-4zM197.2 140.2h4v4h-4zM201.2 140.2h4v4h-4zM197.2 144.2h4v4h-4zM201.2 144.2h4v4h-4zM193.2 152.2h4v4h-4zM181.2 164.2h4v4h-4zM165.2 168.2h4v4h-4zM181.2 168.2h4v4h-4zM189.2 176.2h4v4h-4zM289.2 200.2h4v4h-4zM285.2 204.2h4v4h-4zM225.2 208.2h4v4h-4zM261.2 208.2h4v4h-4z"/>
<path fill="#515151" d="M189.2 124.2h4v4h-4zM193.2 128.2h4v4h-4zM197.2 132.2h4v4h-4zM197.2 148.2h4v4h-4zM201.2 148.2h4v4h-4zM205.2 152.2h4v4h-4zM209.2 156.2h4v4h-4zM185.2 172.2h4v4h-4zM193.2 176.2h4v4h-4zM205.2 184.2h4v4h-4zM209.2 188.2h4v4h-4zM261.2 188.2h4v4h-4zM213.2 192.2h4v4h-4zM217.2 196.2h4v4h-4zM257.2 200.2h4v4h-4z"/>
<path fill="#525252" d="M217.2 124.2h4v4h-4zM205.2 128.2h4v4h-4zM201.2 132.2h4v4h-4zM193.2 156.2h4v4h-4zM189.2 160.2h4v4h-4zM185.2 164.2h4v4h-4zM185.2 168.2h4v4h-4zM201.2 180.2h4v4h-4zM265.2 184.2h4v4h-4zM257.2 196.2h4v4h-4zM257.2 204.2h4v4h-4zM229.2 220.2h4v4h-4z"/>
<path fill="#535353" d="M193.2 124.2h4v4h-4zM209.2 124.2h4v4h-4zM213.2 124.2h4v4h-4zM197.2 128.2h4v4h-4zM201.2 128.2h4v4h-4zM237.2 144.2h4v4h-4zM197.2 152.2h4v4h-4zM201.2 152.2h4v4h-4zM189.2 172.2h4v4h-4zM197.2 176.2h4v4h-4zM265.2 212.2h4v4h-4z"/>
<path fill="#545454" d="M197.2 124.2h4v4h-4zM205.2 124.2h4v4h-4zM233.2 152.2h4v4h-4zM197.2 156.2h4v4h-4zM205.2 156.2h4v4h-4zM193.2 160.2h4v4h-4zM189.2 164.2h4v4h-4zM189.2 168.2h4v4h-4zM193.2 172.2h4v4h-4zM273.2 180.2h4v4h-4zM261.2 184.2h4v4h-4zM257.2 192.2h4v4h-4zM225.2 204.2h4v4h-4zM289.2 204.2h4v4h-4zM257.2 208.2h4v4h-4zM261.2 212.2h4v4h-4zM229.2 216.2h4v4h-4z"/>
<path fill="#555555" d="M165.2 120.2h4v4h-4zM189.2 120.2h4v4h-4zM193.2 120.2h4v4h-4zM205.2 120.2h4v4h-4zM209.2 120.2h4v4h-4zM213.2 120.2h4v4h-4zM201.2 124.2h4v4h-4zM201.2 156.2h4v4h-4zM193.2 164.2h4v4h-4zM193.2 168.2h4v4h-4zM257.2 188.2h4v4h-4zM233.2 220.2h4v4h-4z"/>
<path fill="#565656" d="M197.2 116.2h4v4h-4zM201.2 116.2h4v4h-4zM205.2 116.2h4v4h-4zM209.2 116.2h4v4h-4zM169.2 120.2h4v4h-4zM185.2 120.2h4v4h-4zM197.2 120.2h4v4h-4zM201.2 120.2h4v4h-4zM197.2 160.2h4v4h-4zM201.2 160.2h4v4h-4zM209.2 160.2h4v4h-4zM213.2 160.2h4v4h-4zM217.2 160.2h4v4h-4zM197.2 164.2h4v4h-4zM197.2 168.2h4v4h-4zM197.2 172.2h4v4h-4zM201.2 176.2h4v4h-4zM257.2 184.2h4v4h-4zM257.2 212.2h4v4h-4z"/>
<path fill="#575757" d="M197.2 108.2h4v4h-4zM201.2 108.2h4v4h-4zM197.2 112.2h4v4h-4zM201.2 112.2h4v4h-4zM205.2 112.2h4v4h-4zM193.2 116.2h4v4h-4zM173.2 120.2h4v4h-4zM177.2 120.2h4v4h-4zM181.2 120.2h4v4h-4zM237.2 148.2h4v4h-4zM229.2 156.2h4v4h-4zM205.2 160.2h4v4h-4zM205.2 180.2h4v4h-4zM269.2 180.2h4v4h-4z"/>
<path fill="#585858" d="M197.2 104.2h4v4h-4zM193.2 112.2h4v4h-4zM221.2 160.2h4v4h-4zM201.2 164.2h4v4h-4zM201.2 168.2h4v4h-4zM201.2 172.2h4v4h-4zM265.2 180.2h4v4h-4zM209.2 184.2h4v4h-4zM253.2 204.2h4v4h-4zM253.2 208.2h4v4h-4zM253.2 212.2h4v4h-4zM233.2 216.2h4v4h-4zM249.2 216.2h4v4h-4z"/>
<path fill="#595959" d="M193.2 108.2h4v4h-4zM189.2 116.2h4v4h-4zM205.2 164.2h4v4h-4zM261.2 180.2h4v4h-4zM253.2 200.2h4v4h-4zM229.2 212.2h4v4h-4zM237.2 216.2h4v4h-4zM241.2 216.2h4v4h-4zM245.2 216.2h4v4h-4z"/>
<path fill="#5a5a5a" d="M193.2 100.2h4v4h-4zM193.2 104.2h4v4h-4zM209.2 164.2h4v4h-4zM205.2 168.2h4v4h-4zM205.2 176.2h4v4h-4zM213.2 188.2h4v4h-4zM253.2 196.2h4v4h-4zM225.2 200.2h4v4h-4zM249.2 212.2h4v4h-4z"/>
<path fill="#5b5b5b" d="M205.2 172.2h4v4h-4zM257.2 180.2h4v4h-4zM253.2 188.2h4v4h-4zM253.2 192.2h4v4h-4z"/>
<path fill="#5c5c5c" d="M189.2 112.2h4v4h-4zM185.2 116.2h4v4h-4zM213.2 164.2h4v4h-4zM269.2 176.2h4v4h-4zM253.2 184.2h4v4h-4zM217.2 192.2h4v4h-4zM221.2 196.2h4v4h-4zM249.2 208.2h4v4h-4zM245.2 212.2h4v4h-4z"/>
<path fill="#5d5d5d" d="M165.2 116.2h4v4h-4zM209.2 168.2h4v4h-4zM209.2 180.2h4v4h-4zM229.2 208.2h4v4h-4z"/>
<path fill="#5e5e5e" d="M189.2 108.2h4v4h-4zM225.2 160.2h4v4h-4zM265.2 176.2h4v4h-4zM229.2 204.2h4v4h-4zM249.2 204.2h4v4h-4zM233.2 212.2h4v4h-4z"/>
<path fill="#5f5f5f" d="M189.2 104.2h4v4h-4zM237.2 152.2h4v4h-4zM209.2 172.2h4v4h-4zM209.2 176.2h4v4h-4zM261.2 176.2h4v4h-4zM249.2 200.2h4v4h-4zM241.2 212.2h4v4h-4z"/>
<path fill="#606060" d="M189.2 96.2h4v4h-4zM189.2 100.2h4v4h-4zM241.2 148.2h4v4h-4zM217.2 164.2h4v4h-4zM245.2 208.2h4v4h-4zM237.2 212.2h4v4h-4z"/>
<path fill="#616161" d="M181.2 116.2h4v4h-4zM233.2 156.2h4v4h-4zM213.2 168.2h4v4h-4zM213.2 184.2h4v4h-4zM249.2 196.2h4v4h-4zM229.2 200.2h4v4h-4z"/>
<path fill="#626262" d="M185.2 112.2h4v4h-4zM169.2 116.2h4v4h-4zM265.2 172.2h4v4h-4zM253.2 180.2h4v4h-4zM245.2 204.2h4v4h-4z"/>
<path fill="#636363" d="M257.2 176.2h4v4h-4zM249.2 192.2h4v4h-4z"/>
<path fill="#646464" d="M173.2 116.2h4v4h-4zM177.2 116.2h4v4h-4zM221.2 164.2h4v4h-4zM213.2 172.2h4v4h-4zM245.2 200.2h4v4h-4zM233.2 208.2h4v4h-4zM241.2 208.2h4v4h-4z"/>
<path fill="#656565" d="M165.2 112.2h4v4h-4zM213.2 180.2h4v4h-4zM249.2 188.2h4v4h-4zM225.2 196.2h4v4h-4zM233.2 204.2h4v4h-4z"/>
<path fill="#666666" d="M185.2 108.2h4v4h-4zM229.2 160.2h4v4h-4zM261.2 172.2h4v4h-4zM213.2 176.2h4v4h-4zM217.2 188.2h4v4h-4zM233.2 200.2h4v4h-4zM241.2 204.2h4v4h-4zM237.2 208.2h4v4h-4z"/>
<path fill="#676767" d="M217.2 168.2h4v4h-4zM245.2 196.2h4v4h-4zM241.2 200.2h4v4h-4zM237.2 204.2h4v4h-4z"/>
<path fill="#686868" d="M165.2 84.2h4v4h-4zM185.2 104.2h4v4h-4zM241.2 152.2h4v4h-4zM249.2 184.2h4v4h-4zM221.2 192.2h4v4h-4zM237.2 200.2h4v4h-4z"/>
<path fill="#696969" d="M185.2 92.2h4v4h-4zM181.2 112.2h4v4h-4z"/>
<path fill="#6a6a6a" d="M185.2 96.2h4v4h-4zM185.2 100.2h4v4h-4zM165.2 108.2h4v4h-4z"/>
<path fill="#6b6b6b" d="M237.2 156.2h4v4h-4zM225.2 164.2h4v4h-4zM261.2 168.2h4v4h-4zM217.2 172.2h4v4h-4zM245.2 192.2h4v4h-4zM229.2 196.2h4v4h-4zM241.2 196.2h4v4h-4z"/>
<path fill="#6c6c6c" d="M165.2 88.2h4v4h-4zM169.2 112.2h4v4h-4zM253.2 176.2h4v4h-4zM217.2 184.2h4v4h-4z"/>
<path fill="#6d6d6d" d="M245.2 152.2h4v4h-4zM221.2 168.2h4v4h-4zM257.2 172.2h4v4h-4zM233.2 196.2h4v4h-4zM237.2 196.2h4v4h-4z"/>
<path fill="#6e6e6e" d="M165.2 104.2h4v4h-4zM217.2 176.2h4v4h-4zM217.2 180.2h4v4h-4z"/>
<path fill="#6f6f6f" d="M165.2 92.2h4v4h-4zM177.2 112.2h4v4h-4z"/>
<path fill="#707070" d="M165.2 96.2h4v4h-4zM165.2 100.2h4v4h-4zM181.2 108.2h4v4h-4zM173.2 112.2h4v4h-4zM233.2 160.2h4v4h-4zM249.2 180.2h4v4h-4zM245.2 188.2h4v4h-4z"/>
<path fill="#717171" d="M169.2 84.2h4v4h-4zM181.2 88.2h4v4h-4z"/>
<path fill="#727272" d="M241.2 192.2h4v4h-4z"/>
<path fill="#737373" d="M241.2 156.2h4v4h-4zM221.2 188.2h4v4h-4zM225.2 192.2h4v4h-4z"/>
<path fill="#747474" d="M177.2 84.2h4v4h-4zM181.2 104.2h4v4h-4zM169.2 108.2h4v4h-4zM257.2 168.2h4v4h-4zM221.2 172.2h4v4h-4z"/>
<path fill="#757575" d="M181.2 92.2h4v4h-4zM229.2 164.2h4v4h-4z"/>
<path fill="#767676" d="M173.2 84.2h4v4h-4zM169.2 88.2h4v4h-4zM225.2 168.2h4v4h-4z"/>
<path fill="#777777" d="M181.2 96.2h4v4h-4zM181.2 100.2h4v4h-4zM257.2 164.2h4v4h-4z"/>
<path fill="#787878" d="M177.2 108.2h4v4h-4zM245.2 156.2h4v4h-4zM237.2 192.2h4v4h-4z"/>
<path fill="#797979" d="M253.2 172.2h4v4h-4zM221.2 176.2h4v4h-4zM245.2 184.2h4v4h-4z"/>
<path fill="#7a7a7a" d="M177.2 88.2h4v4h-4zM169.2 104.2h4v4h-4zM173.2 108.2h4v4h-4zM249.2 156.2h4v4h-4zM237.2 160.2h4v4h-4zM221.2 184.2h4v4h-4zM229.2 192.2h4v4h-4z"/>
<path fill="#7b7b7b" d="M169.2 92.2h4v4h-4zM221.2 180.2h4v4h-4zM233.2 192.2h4v4h-4z"/>
<path fill="#7c7c7c" d="M173.2 88.2h4v4h-4z"/>
<path fill="#7d7d7d" d="M169.2 96.2h4v4h-4zM169.2 100.2h4v4h-4zM241.2 188.2h4v4h-4z"/>
<path fill="#7e7e7e" d="M177.2 104.2h4v4h-4zM249.2 176.2h4v4h-4z"/>
<path fill="#7f7f7f" d="M177.2 92.2h4v4h-4zM253.2 160.2h4v4h-4z"/>
<path fill="#808080" d="M173.2 104.2h4v4h-4zM233.2 164.2h4v4h-4zM225.2 172.2h4v4h-4z"/>
<path fill="#818181" d="M173.2 92.2h4v4h-4zM177.2 96.2h4v4h-4zM177.2 100.2h4v4h-4z"/>
<path fill="#828282" d="M253.2 168.2h4v4h-4zM225.2 188.2h4v4h-4z"/>
<path fill="#838383" d="M229.2 168.2h4v4h-4z"/>
<path fill="#848484" d="M173.2 96.2h4v4h-4zM173.2 100.2h4v4h-4zM241.2 160.2h4v4h-4z"/>
<path fill="#858585" d="M253.2 164.2h4v4h-4z"/>
<path fill="#878787" d="M249.2 160.2h4v4h-4zM245.2 180.2h4v4h-4z"/>
<path fill="#888888" d="M225.2 176.2h4v4h-4zM237.2 188.2h4v4h-4z"/>
<path fill="#898989" d="M245.2 160.2h4v4h-4z"/>
<path fill="#8c8c8c" d="M225.2 184.2h4v4h-4zM241.2 184.2h4v4h-4z"/>
<path fill="#8d8d8d" d="M229.2 188.2h4v4h-4z"/>
<path fill="#8e8e8e" d="M237.2 164.2h4v4h-4zM249.2 172.2h4v4h-4zM225.2 180.2h4v4h-4z"/>
<path fill="#8f8f8f" d="M233.2 188.2h4v4h-4z"/>
<path fill="#919191" d="M229.2 172.2h4v4h-4z"/>
<path fill="#949494" d="M249.2 164.2h4v4h-4zM233.2 168.2h4v4h-4z"/>
<path fill="#979797" d="M249.2 168.2h4v4h-4z"/>
<path fill="#9a9a9a" d="M241.2 164.2h4v4h-4zM245.2 176.2h4v4h-4z"/>
<path fill="#9d9d9d" d="M245.2 164.2h4v4h-4z"/>
<path fill="#9e9e9e" d="M229.2 184.2h4v4h-4zM237.2 184.2h4v4h-4z"/>
<path fill="#9f9f9f" d="M229.2 176.2h4v4h-4z"/>
<path fill="#a2a2a2" d="M241.2 180.2h4v4h-4z"/>
<path fill="#a5a5a5" d="M229.2 180.2h4v4h-4z"/>
<path fill="#a6a6a6" d="M233.2 184.2h4v4h-4z"/>
<path fill="#a7a7a7" d="M237.2 168.2h4v4h-4z"/>
<path fill="#a9a9a9" d="M233.2 172.2h4v4h-4z"/>
<path fill="#aaaaaa" d="M245.2 172.2h4v4h-4z"/>
<path fill="#ababab" d="M245.2 168.2h4v4h-4z"/>
<path fill="#b2b2b2" d="M241.2 168.2h4v4h-4z"/>
<path fill="#b6b6b6" d="M237.2 180.2h4v4h-4z"/>
<path fill="#b7b7b7" d="M241.2 176.2h4v4h-4zM233.2 180.2h4v4h-4z"/>
<path fill="#b8b8b8" d="M233.2 176.2h4v4h-4z"/>
<path fill="#bdbdbd" d="M237.2 172.2h4v4h-4z"/>
<path fill="#bebebe" d="M241.2 172.2h4v4h-4z"/>
<path fill="#c3c3c3" d="M237.2 176.2h4v4h-4z"/>
</g></g>
<path d="M173.20,92.20 L282.20,200.60 A325,325 0 0 1 173.20,219.20 Z" fill="none" stroke="#000" stroke-width="0.9" shape-rendering="geometricPrecision"/>
<g clip-path="url(#caZ)"><g filter="url(#fm)">
<path fill="#080808" d="M325.4 100.2h4v4h-4zM325.4 104.2h4v4h-4zM329.4 104.2h4v4h-4z"/>
<path fill="#090909" d="M329.4 100.2h4v4h-4z"/>
<path fill="#0a0a0a" d="M321.4 104.2h4v4h-4zM325.4 108.2h4v4h-4zM329.4 108.2h4v4h-4z"/>
<path fill="#0b0b0b" d="M321.4 100.2h4v4h-4zM333.4 100.2h4v4h-4zM333.4 104.2h4v4h-4z"/>
<path fill="#0c0c0c" d="M325.4 96.2h4v4h-4zM329.4 96.2h4v4h-4zM321.4 108.2h4v4h-4zM333.4 108.2h4v4h-4z"/>
<path fill="#0e0e0e" d="M321.4 96.2h4v4h-4zM333.4 96.2h4v4h-4zM325.4 112.2h4v4h-4zM329.4 112.2h4v4h-4z"/>
<path fill="#0f0f0f" d="M317.4 104.2h4v4h-4zM337.4 104.2h4v4h-4zM333.4 112.2h4v4h-4z"/>
<path fill="#101010" d="M317.4 100.2h4v4h-4zM337.4 100.2h4v4h-4zM337.4 108.2h4v4h-4zM321.4 112.2h4v4h-4zM353.4 136.2h4v4h-4z"/>
<path fill="#111111" d="M325.4 92.2h4v4h-4zM329.4 92.2h4v4h-4zM317.4 108.2h4v4h-4zM349.4 132.2h4v4h-4zM353.4 132.2h4v4h-4z"/>
<path fill="#121212" d="M337.4 112.2h4v4h-4zM349.4 128.2h4v4h-4zM349.4 136.2h4v4h-4zM357.4 136.2h4v4h-4zM353.4 140.2h4v4h-4zM357.4 140.2h4v4h-4z"/>
<path fill="#131313" d="M337.4 96.2h4v4h-4zM329.4 116.2h4v4h-4zM333.4 116.2h4v4h-4zM357.4 144.2h4v4h-4zM361.4 148.2h4v4h-4zM361.4 152.2h4v4h-4z"/>
<path fill="#141414" d="M321.4 92.2h4v4h-4zM333.4 92.2h4v4h-4zM317.4 96.2h4v4h-4zM317.4 112.2h4v4h-4zM325.4 116.2h4v4h-4zM337.4 116.2h4v4h-4zM345.4 128.2h4v4h-4zM353.4 128.2h4v4h-4zM345.4 132.2h4v4h-4zM357.4 132.2h4v4h-4zM349.4 140.2h4v4h-4zM361.4 140.2h4v4h-4zM353.4 144.2h4v4h-4zM361.4 144.2h4v4h-4zM357.4 148.2h4v4h-4zM357.4 152.2h4v4h-4zM365.4 152.2h4v4h-4zM361.4 156.2h4v4h-4z"/>
<path fill="#151515" d="M341.4 104.2h4v4h-4zM341.4 108.2h4v4h-4zM345.4 124.2h4v4h-4zM365.4 148.2h4v4h-4zM357.4 156.2h4v4h-4zM365.4 156.2h4v4h-4z"/>
<path fill="#161616" d="M341.4 112.2h4v4h-4zM341.4 116.2h4v4h-4zM341.4 120.2h4v4h-4zM349.4 124.2h4v4h-4zM361.4 136.2h4v4h-4zM365.4 144.2h4v4h-4zM353.4 148.2h4v4h-4z"/>
<path fill="#171717" d="M341.4 100.2h4v4h-4zM313.4 104.2h4v4h-4zM321.4 116.2h4v4h-4zM337.4 120.2h4v4h-4zM345.4 120.2h4v4h-4zM341.4 124.2h4v4h-4zM345.4 136.2h4v4h-4zM353.4 152.2h4v4h-4z"/>
<path fill="#181818" d="M313.4 100.2h4v4h-4zM313.4 108.2h4v4h-4zM341.4 128.2h4v4h-4zM365.4 140.2h4v4h-4zM349.4 144.2h4v4h-4zM369.4 152.2h4v4h-4z"/>
<path fill="#191919" d="M325.4 88.2h4v4h-4zM329.4 88.2h4v4h-4zM317.4 92.2h4v4h-4zM345.4 116.2h4v4h-4zM333.4 120.2h4v4h-4zM357.4 128.2h4v4h-4zM369.4 148.2h4v4h-4zM369.4 156.2h4v4h-4zM361.4 160.2h4v4h-4z"/>
<path fill="#1a1a1a" d="M345.4 112.2h4v4h-4zM349.4 120.2h4v4h-4zM353.4 124.2h4v4h-4zM345.4 140.2h4v4h-4zM353.4 156.2h4v4h-4zM365.4 160.2h4v4h-4z"/>
<path fill="#1b1b1b" d="M321.4 88.2h4v4h-4zM313.4 96.2h4v4h-4zM317.4 116.2h4v4h-4zM329.4 120.2h4v4h-4zM337.4 124.2h4v4h-4zM341.4 132.2h4v4h-4zM361.4 132.2h4v4h-4zM369.4 144.2h4v4h-4zM349.4 148.2h4v4h-4zM357.4 160.2h4v4h-4z"/>
<path fill="#1c1c1c" d="M345.4 108.2h4v4h-4zM313.4 112.2h4v4h-4z"/>
<path fill="#1d1d1d" d="M345.4 104.2h4v4h-4zM365.4 136.2h4v4h-4z"/>
<path fill="#1e1e1e" d="M349.4 116.2h4v4h-4zM349.4 152.2h4v4h-4z"/>
<path fill="#1f1f1f" d="M325.4 120.2h4v4h-4zM353.4 120.2h4v4h-4zM369.4 140.2h4v4h-4zM345.4 144.2h4v4h-4zM373.4 152.2h4v4h-4zM369.4 160.2h4v4h-4z"/>
<path fill="#202020" d="M317.4 88.2h4v4h-4zM313.4 92.2h4v4h-4zM333.4 124.2h4v4h-4zM357.4 124.2h4v4h-4zM337.4 128.2h4v4h-4zM341.4 136.2h4v4h-4zM373.4 148.2h4v4h-4zM353.4 160.2h4v4h-4z"/>
<path fill="#212121" d="M349.4 112.2h4v4h-4zM313.4 116.2h4v4h-4zM361.4 128.2h4v4h-4zM373.4 156.2h4v4h-4z"/>
<path fill="#222222" d="M325.4 84.2h4v4h-4zM321.4 120.2h4v4h-4zM349.4 156.2h4v4h-4z"/>
<path fill="#232323" d="M349.4 108.2h4v4h-4zM365.4 132.2h4v4h-4zM345.4 148.2h4v4h-4z"/>
<path fill="#242424" d="M321.4 84.2h4v4h-4zM373.4 144.2h4v4h-4zM321.4 212.2h4v4h-4zM325.4 212.2h4v4h-4zM321.4 216.2h4v4h-4zM325.4 216.2h4v4h-4z"/>
<path fill="#252525" d="M353.4 116.2h4v4h-4zM317.4 120.2h4v4h-4zM341.4 140.2h4v4h-4zM361.4 164.2h4v4h-4z"/>
<path fill="#262626" d="M337.4 132.2h4v4h-4zM369.4 136.2h4v4h-4zM373.4 160.2h4v4h-4zM365.4 164.2h4v4h-4z"/>
<path fill="#272727" d="M313.4 88.2h4v4h-4zM357.4 120.2h4v4h-4zM329.4 124.2h4v4h-4zM345.4 152.2h4v4h-4zM357.4 164.2h4v4h-4z"/>
<path fill="#282828" d="M317.4 84.2h4v4h-4z"/>
<path fill="#292929" d="M353.4 112.2h4v4h-4zM313.4 120.2h4v4h-4zM361.4 124.2h4v4h-4zM373.4 140.2h4v4h-4zM349.4 160.2h4v4h-4zM317.4 212.2h4v4h-4zM329.4 212.2h4v4h-4zM317.4 216.2h4v4h-4zM329.4 216.2h4v4h-4z"/>
<path fill="#2a2a2a" d="M333.4 128.2h4v4h-4zM341.4 144.2h4v4h-4zM377.4 152.2h4v4h-4zM369.4 164.2h4v4h-4z"/>
<path fill="#2b2b2b" d="M365.4 128.2h4v4h-4zM377.4 148.2h4v4h-4zM377.4 156.2h4v4h-4z"/>
<path fill="#2d2d2d" d="M357.4 116.2h4v4h-4zM325.4 124.2h4v4h-4zM369.4 132.2h4v4h-4zM337.4 136.2h4v4h-4zM345.4 156.2h4v4h-4zM353.4 164.2h4v4h-4z"/>
<path fill="#2e2e2e" d="M313.4 84.2h4v4h-4z"/>
<path fill="#2f2f2f" d="M377.4 144.2h4v4h-4zM341.4 148.2h4v4h-4z"/>
<path fill="#303030" d="M361.4 120.2h4v4h-4zM373.4 136.2h4v4h-4zM377.4 160.2h4v4h-4zM373.4 164.2h4v4h-4zM321.4 208.2h4v4h-4zM325.4 208.2h4v4h-4zM321.4 220.2h4v4h-4zM325.4 220.2h4v4h-4z"/>
<path fill="#313131" d="M321.4 124.2h4v4h-4z"/>
<path fill="#323232" d="M317.4 124.2h4v4h-4zM313.4 212.2h4v4h-4zM333.4 212.2h4v4h-4zM313.4 216.2h4v4h-4zM333.4 216.2h4v4h-4z"/>
<path fill="#333333" d="M365.4 124.2h4v4h-4zM337.4 140.2h4v4h-4z"/>
<path fill="#343434" d="M313.4 124.2h4v4h-4zM333.4 132.2h4v4h-4zM341.4 152.2h4v4h-4zM345.4 160.2h4v4h-4zM329.4 208.2h4v4h-4zM317.4 220.2h4v4h-4zM329.4 220.2h4v4h-4z"/>
<path fill="#353535" d="M329.4 128.2h4v4h-4zM369.4 128.2h4v4h-4zM377.4 140.2h4v4h-4zM349.4 164.2h4v4h-4zM317.4 208.2h4v4h-4z"/>
<path fill="#363636" d="M381.4 152.2h4v4h-4zM393.4 204.2h4v4h-4z"/>
<path fill="#373737" d="M381.4 156.2h4v4h-4zM393.4 200.2h4v4h-4z"/>
<path fill="#383838" d="M373.4 132.2h4v4h-4zM337.4 144.2h4v4h-4zM381.4 148.2h4v4h-4zM377.4 164.2h4v4h-4zM361.4 168.2h4v4h-4zM365.4 168.2h4v4h-4zM389.4 204.2h4v4h-4z"/>
<path fill="#393939" d="M341.4 156.2h4v4h-4zM397.4 200.2h4v4h-4z"/>
<path fill="#3a3a3a" d="M381.4 160.2h4v4h-4zM357.4 168.2h4v4h-4zM397.4 204.2h4v4h-4z"/>
<path fill="#3b3b3b" d="M369.4 168.2h4v4h-4zM313.4 208.2h4v4h-4zM333.4 208.2h4v4h-4zM313.4 220.2h4v4h-4zM333.4 220.2h4v4h-4z"/>
<path fill="#3c3c3c" d="M377.4 136.2h4v4h-4zM381.4 144.2h4v4h-4zM337.4 148.2h4v4h-4zM389.4 200.2h4v4h-4zM337.4 212.2h4v4h-4zM337.4 216.2h4v4h-4z"/>
<path fill="#3e3e3e" d="M325.4 128.2h4v4h-4zM333.4 136.2h4v4h-4zM345.4 164.2h4v4h-4zM353.4 168.2h4v4h-4z"/>
<path fill="#3f3f3f" d="M313.4 128.2h4v4h-4zM373.4 168.2h4v4h-4zM385.4 204.2h4v4h-4z"/>
<path fill="#404040" d="M341.4 160.2h4v4h-4z"/>
<path fill="#414141" d="M317.4 128.2h4v4h-4zM381.4 140.2h4v4h-4zM337.4 152.2h4v4h-4zM381.4 164.2h4v4h-4zM321.4 224.2h4v4h-4zM325.4 224.2h4v4h-4z"/>
<path fill="#424242" d="M321.4 128.2h4v4h-4zM385.4 152.2h4v4h-4zM385.4 156.2h4v4h-4zM401.4 200.2h4v4h-4zM389.4 208.2h4v4h-4zM393.4 208.2h4v4h-4z"/>
<path fill="#434343" d="M329.4 132.2h4v4h-4zM325.4 204.2h4v4h-4zM337.4 208.2h4v4h-4zM337.4 220.2h4v4h-4z"/>
<path fill="#444444" d="M333.4 140.2h4v4h-4zM385.4 148.2h4v4h-4zM349.4 168.2h4v4h-4zM377.4 168.2h4v4h-4zM321.4 204.2h4v4h-4zM317.4 224.2h4v4h-4zM329.4 224.2h4v4h-4z"/>
<path fill="#454545" d="M337.4 156.2h4v4h-4zM385.4 160.2h4v4h-4zM385.4 200.2h4v4h-4zM329.4 204.2h4v4h-4zM401.4 204.2h4v4h-4z"/>
<path fill="#464646" d="M393.4 196.2h4v4h-4zM397.4 196.2h4v4h-4zM317.4 204.2h4v4h-4zM385.4 208.2h4v4h-4zM341.4 212.2h4v4h-4zM341.4 216.2h4v4h-4z"/>
<path fill="#474747" d="M385.4 144.2h4v4h-4zM397.4 208.2h4v4h-4z"/>
<path fill="#484848" d="M333.4 144.2h4v4h-4zM341.4 164.2h4v4h-4zM313.4 224.2h4v4h-4zM333.4 224.2h4v4h-4z"/>
<path fill="#494949" d="M385.4 164.2h4v4h-4zM333.4 204.2h4v4h-4zM381.4 204.2h4v4h-4z"/>
<path fill="#4a4a4a" d="M313.4 132.2h4v4h-4zM345.4 168.2h4v4h-4zM381.4 168.2h4v4h-4zM389.4 196.2h4v4h-4zM313.4 204.2h4v4h-4z"/>
<path fill="#4b4b4b" d="M333.4 148.2h4v4h-4zM337.4 160.2h4v4h-4zM341.4 208.2h4v4h-4zM341.4 220.2h4v4h-4z"/>
<path fill="#4c4c4c" d="M389.4 152.2h4v4h-4zM389.4 156.2h4v4h-4zM365.4 172.2h4v4h-4zM401.4 196.2h4v4h-4zM381.4 208.2h4v4h-4z"/>
<path fill="#4d4d4d" d="M389.4 148.2h4v4h-4zM389.4 160.2h4v4h-4zM361.4 172.2h4v4h-4zM369.4 172.2h4v4h-4zM337.4 224.2h4v4h-4z"/>
<path fill="#4e4e4e" d="M317.4 132.2h4v4h-4zM325.4 132.2h4v4h-4zM329.4 136.2h4v4h-4zM333.4 152.2h4v4h-4zM357.4 172.2h4v4h-4zM381.4 200.2h4v4h-4zM337.4 204.2h4v4h-4zM345.4 212.2h4v4h-4zM345.4 216.2h4v4h-4z"/>
<path fill="#4f4f4f" d="M385.4 168.2h4v4h-4zM373.4 172.2h4v4h-4zM401.4 208.2h4v4h-4z"/>
<path fill="#505050" d="M389.4 164.2h4v4h-4zM353.4 172.2h4v4h-4zM385.4 212.2h4v4h-4zM389.4 212.2h4v4h-4z"/>
<path fill="#515151" d="M321.4 132.2h4v4h-4zM313.4 136.2h4v4h-4zM337.4 164.2h4v4h-4zM341.4 168.2h4v4h-4zM377.4 172.2h4v4h-4zM385.4 196.2h4v4h-4zM377.4 204.2h4v4h-4zM393.4 212.2h4v4h-4zM345.4 220.2h4v4h-4z"/>
<path fill="#525252" d="M333.4 156.2h4v4h-4zM345.4 208.2h4v4h-4zM377.4 208.2h4v4h-4zM341.4 224.2h4v4h-4z"/>
<path fill="#535353" d="M393.4 152.2h4v4h-4zM393.4 156.2h4v4h-4zM393.4 160.2h4v4h-4zM389.4 168.2h4v4h-4zM349.4 172.2h4v4h-4zM381.4 172.2h4v4h-4zM401.4 180.2h4v4h-4zM397.4 192.2h4v4h-4zM341.4 204.2h4v4h-4zM381.4 212.2h4v4h-4zM397.4 212.2h4v4h-4z"/>
<path fill="#545454" d="M329.4 140.2h4v4h-4zM393.4 164.2h4v4h-4zM401.4 176.2h4v4h-4zM405.4 176.2h4v4h-4zM405.4 180.2h4v4h-4zM393.4 192.2h4v4h-4zM349.4 212.2h4v4h-4zM349.4 216.2h4v4h-4z"/>
<path fill="#555555" d="M385.4 172.2h4v4h-4zM397.4 176.2h4v4h-4zM397.4 180.2h4v4h-4zM401.4 184.2h4v4h-4zM329.4 200.2h4v4h-4zM405.4 200.2h4v4h-4zM345.4 224.2h4v4h-4z"/>
<path fill="#565656" d="M329.4 144.2h4v4h-4zM393.4 168.2h4v4h-4zM345.4 172.2h4v4h-4zM397.4 172.2h4v4h-4zM401.4 172.2h4v4h-4zM405.4 172.2h4v4h-4zM409.4 176.2h4v4h-4zM397.4 184.2h4v4h-4zM401.4 192.2h4v4h-4zM325.4 200.2h4v4h-4zM333.4 200.2h4v4h-4zM377.4 200.2h4v4h-4zM405.4 204.2h4v4h-4zM349.4 208.2h4v4h-4zM377.4 212.2h4v4h-4zM349.4 220.2h4v4h-4z"/>
<path fill="#575757" d="M313.4 140.2h4v4h-4zM397.4 156.2h4v4h-4zM333.4 160.2h4v4h-4zM397.4 160.2h4v4h-4zM397.4 164.2h4v4h-4zM397.4 168.2h4v4h-4zM389.4 172.2h4v4h-4zM393.4 172.2h4v4h-4zM409.4 172.2h4v4h-4zM389.4 192.2h4v4h-4zM381.4 196.2h4v4h-4zM337.4 200.2h4v4h-4zM345.4 204.2h4v4h-4zM373.4 204.2h4v4h-4zM373.4 208.2h4v4h-4z"/>
<path fill="#585858" d="M317.4 136.2h4v4h-4zM401.4 168.2h4v4h-4zM405.4 168.2h4v4h-4zM393.4 176.2h4v4h-4zM393.4 180.2h4v4h-4zM405.4 184.2h4v4h-4zM397.4 188.2h4v4h-4zM401.4 188.2h4v4h-4zM321.4 200.2h4v4h-4zM353.4 212.2h4v4h-4zM373.4 212.2h4v4h-4zM401.4 212.2h4v4h-4zM353.4 216.2h4v4h-4zM385.4 216.2h4v4h-4zM389.4 216.2h4v4h-4zM349.4 224.2h4v4h-4z"/>
<path fill="#595959" d="M325.4 136.2h4v4h-4zM329.4 148.2h4v4h-4zM401.4 160.2h4v4h-4zM401.4 164.2h4v4h-4zM405.4 164.2h4v4h-4zM337.4 168.2h4v4h-4zM409.4 168.2h4v4h-4zM413.4 172.2h4v4h-4zM409.4 180.2h4v4h-4zM393.4 184.2h4v4h-4zM353.4 208.2h4v4h-4zM377.4 216.2h4v4h-4zM381.4 216.2h4v4h-4zM393.4 216.2h4v4h-4zM353.4 220.2h4v4h-4z"/>
<path fill="#5a5a5a" d="M341.4 172.2h4v4h-4zM389.4 176.2h4v4h-4zM393.4 188.2h4v4h-4zM405.4 196.2h4v4h-4zM313.4 200.2h4v4h-4zM317.4 200.2h4v4h-4zM341.4 200.2h4v4h-4zM373.4 200.2h4v4h-4zM349.4 204.2h4v4h-4zM369.4 208.2h4v4h-4zM405.4 208.2h4v4h-4zM357.4 212.2h4v4h-4zM369.4 212.2h4v4h-4zM357.4 216.2h4v4h-4zM373.4 216.2h4v4h-4zM397.4 216.2h4v4h-4zM357.4 220.2h4v4h-4zM353.4 224.2h4v4h-4z"/>
<path fill="#5b5b5b" d="M313.4 144.2h4v4h-4zM377.4 176.2h4v4h-4zM381.4 176.2h4v4h-4zM385.4 176.2h4v4h-4zM413.4 176.2h4v4h-4zM389.4 180.2h4v4h-4zM385.4 192.2h4v4h-4zM353.4 204.2h4v4h-4zM369.4 204.2h4v4h-4zM357.4 208.2h4v4h-4zM361.4 208.2h4v4h-4zM365.4 208.2h4v4h-4zM361.4 212.2h4v4h-4zM365.4 212.2h4v4h-4zM361.4 216.2h4v4h-4zM365.4 216.2h4v4h-4zM369.4 216.2h4v4h-4zM361.4 220.2h4v4h-4zM365.4 220.2h4v4h-4zM369.4 220.2h4v4h-4zM373.4 220.2h4v4h-4zM377.4 220.2h4v4h-4zM381.4 220.2h4v4h-4z"/>
<path fill="#5c5c5c" d="M321.4 136.2h4v4h-4zM365.4 176.2h4v4h-4zM369.4 176.2h4v4h-4zM373.4 176.2h4v4h-4zM377.4 196.2h4v4h-4zM345.4 200.2h4v4h-4zM357.4 204.2h4v4h-4zM365.4 204.2h4v4h-4z"/>
<path fill="#5d5d5d" d="M317.4 140.2h4v4h-4zM333.4 164.2h4v4h-4zM361.4 176.2h4v4h-4zM389.4 184.2h4v4h-4zM389.4 188.2h4v4h-4zM405.4 188.2h4v4h-4zM349.4 200.2h4v4h-4zM369.4 200.2h4v4h-4zM361.4 204.2h4v4h-4zM405.4 212.2h4v4h-4z"/>
<path fill="#5e5e5e" d="M325.4 140.2h4v4h-4zM329.4 152.2h4v4h-4zM353.4 176.2h4v4h-4zM357.4 176.2h4v4h-4zM385.4 180.2h4v4h-4zM381.4 192.2h4v4h-4zM353.4 200.2h4v4h-4zM357.4 200.2h4v4h-4zM365.4 200.2h4v4h-4z"/>
<path fill="#5f5f5f" d="M349.4 176.2h4v4h-4zM385.4 188.2h4v4h-4zM405.4 192.2h4v4h-4zM337.4 196.2h4v4h-4zM341.4 196.2h4v4h-4zM373.4 196.2h4v4h-4zM361.4 200.2h4v4h-4z"/>
<path fill="#606060" d="M325.4 144.2h4v4h-4zM337.4 172.2h4v4h-4zM345.4 176.2h4v4h-4zM417.4 176.2h4v4h-4zM381.4 180.2h4v4h-4zM385.4 184.2h4v4h-4zM409.4 184.2h4v4h-4zM333.4 196.2h4v4h-4zM345.4 196.2h4v4h-4zM369.4 196.2h4v4h-4z"/>
<path fill="#616161" d="M321.4 140.2h4v4h-4zM317.4 144.2h4v4h-4zM313.4 148.2h4v4h-4zM341.4 176.2h4v4h-4zM413.4 180.2h4v4h-4zM377.4 192.2h4v4h-4zM349.4 196.2h4v4h-4zM353.4 196.2h4v4h-4zM357.4 196.2h4v4h-4zM361.4 196.2h4v4h-4zM365.4 196.2h4v4h-4z"/>
<path fill="#626262" d="M377.4 180.2h4v4h-4zM381.4 184.2h4v4h-4zM381.4 188.2h4v4h-4zM373.4 192.2h4v4h-4z"/>
<path fill="#636363" d="M329.4 156.2h4v4h-4zM333.4 168.2h4v4h-4zM373.4 180.2h4v4h-4zM341.4 192.2h4v4h-4zM345.4 192.2h4v4h-4zM369.4 192.2h4v4h-4zM329.4 196.2h4v4h-4z"/>
<path fill="#646464" d="M321.4 144.2h4v4h-4zM369.4 180.2h4v4h-4zM377.4 184.2h4v4h-4zM377.4 188.2h4v4h-4zM337.4 192.2h4v4h-4zM349.4 192.2h4v4h-4zM353.4 192.2h4v4h-4zM357.4 192.2h4v4h-4zM361.4 192.2h4v4h-4zM365.4 192.2h4v4h-4z"/>
<path fill="#656565" d="M325.4 148.2h4v4h-4zM337.4 176.2h4v4h-4zM341.4 180.2h4v4h-4zM345.4 180.2h4v4h-4zM349.4 180.2h4v4h-4zM365.4 180.2h4v4h-4zM373.4 188.2h4v4h-4zM409.4 212.2h4v4h-4z"/>
<path fill="#666666" d="M353.4 180.2h4v4h-4zM357.4 180.2h4v4h-4zM361.4 180.2h4v4h-4zM373.4 184.2h4v4h-4zM341.4 188.2h4v4h-4zM345.4 188.2h4v4h-4zM349.4 188.2h4v4h-4zM369.4 188.2h4v4h-4z"/>
<path fill="#676767" d="M341.4 184.2h4v4h-4zM345.4 184.2h4v4h-4zM349.4 184.2h4v4h-4zM369.4 184.2h4v4h-4zM337.4 188.2h4v4h-4zM353.4 188.2h4v4h-4zM357.4 188.2h4v4h-4zM361.4 188.2h4v4h-4zM365.4 188.2h4v4h-4zM333.4 192.2h4v4h-4z"/>
<path fill="#686868" d="M329.4 160.2h4v4h-4zM353.4 184.2h4v4h-4zM357.4 184.2h4v4h-4zM361.4 184.2h4v4h-4zM365.4 184.2h4v4h-4zM325.4 196.2h4v4h-4z"/>
<path fill="#696969" d="M317.4 148.2h4v4h-4zM313.4 152.2h4v4h-4zM337.4 180.2h4v4h-4zM337.4 184.2h4v4h-4zM409.4 188.2h4v4h-4z"/>
<path fill="#6a6a6a" d="M333.4 172.2h4v4h-4zM417.4 180.2h4v4h-4zM409.4 208.2h4v4h-4z"/>
<path fill="#6b6b6b" d="M321.4 148.2h4v4h-4zM313.4 196.2h4v4h-4z"/>
<path fill="#6d6d6d" d="M329.4 164.2h4v4h-4zM413.4 184.2h4v4h-4zM333.4 188.2h4v4h-4zM321.4 196.2h4v4h-4zM409.4 204.2h4v4h-4z"/>
<path fill="#6e6e6e" d="M325.4 152.2h4v4h-4zM317.4 196.2h4v4h-4z"/>
<path fill="#6f6f6f" d="M329.4 192.2h4v4h-4z"/>
<path fill="#707070" d="M313.4 156.2h4v4h-4zM333.4 176.2h4v4h-4zM409.4 192.2h4v4h-4zM409.4 200.2h4v4h-4z"/>
<path fill="#717171" d="M333.4 184.2h4v4h-4zM413.4 212.2h4v4h-4z"/>
<path fill="#727272" d="M333.4 180.2h4v4h-4zM421.4 180.2h4v4h-4zM409.4 196.2h4v4h-4z"/>
<path fill="#737373" d="M329.4 168.2h4v4h-4z"/>
<path fill="#747474" d="M317.4 152.2h4v4h-4z"/>
<path fill="#767676" d="M325.4 156.2h4v4h-4z"/>
<path fill="#777777" d="M321.4 152.2h4v4h-4zM313.4 160.2h4v4h-4z"/>
<path fill="#797979" d="M329.4 188.2h4v4h-4zM325.4 192.2h4v4h-4z"/>
<path fill="#7b7b7b" d="M325.4 160.2h4v4h-4z"/>
<path fill="#7c7c7c" d="M329.4 172.2h4v4h-4z"/>
<path fill="#7d7d7d" d="M417.4 184.2h4v4h-4zM413.4 188.2h4v4h-4z"/>
<path fill="#7e7e7e" d="M313.4 192.2h4v4h-4z"/>
<path fill="#7f7f7f" d="M317.4 156.2h4v4h-4zM313.4 164.2h4v4h-4zM325.4 164.2h4v4h-4zM413.4 208.2h4v4h-4z"/>
<path fill="#828282" d="M321.4 156.2h4v4h-4zM329.4 184.2h4v4h-4z"/>
<path fill="#838383" d="M329.4 176.2h4v4h-4zM321.4 192.2h4v4h-4z"/>
<path fill="#858585" d="M317.4 160.2h4v4h-4zM329.4 180.2h4v4h-4zM317.4 192.2h4v4h-4z"/>
<path fill="#878787" d="M321.4 160.2h4v4h-4zM325.4 168.2h4v4h-4z"/>
<path fill="#8a8a8a" d="M325.4 188.2h4v4h-4z"/>
<path fill="#8b8b8b" d="M317.4 164.2h4v4h-4zM321.4 164.2h4v4h-4zM421.4 184.2h4v4h-4z"/>
<path fill="#8c8c8c" d="M313.4 168.2h4v4h-4zM413.4 204.2h4v4h-4z"/>
<path fill="#8d8d8d" d="M413.4 192.2h4v4h-4z"/>
<path fill="#929292" d="M425.4 184.2h4v4h-4zM313.4 188.2h4v4h-4z"/>
<path fill="#939393" d="M325.4 172.2h4v4h-4z"/>
<path fill="#959595" d="M321.4 168.2h4v4h-4zM413.4 200.2h4v4h-4z"/>
<path fill="#969696" d="M417.4 188.2h4v4h-4zM413.4 196.2h4v4h-4z"/>
<path fill="#979797" d="M317.4 168.2h4v4h-4zM417.4 208.2h4v4h-4z"/>
<path fill="#989898" d="M325.4 184.2h4v4h-4z"/>
<path fill="#999999" d="M321.4 188.2h4v4h-4z"/>
<path fill="#9c9c9c" d="M313.4 172.2h4v4h-4z"/>
<path fill="#9d9d9d" d="M325.4 176.2h4v4h-4zM317.4 188.2h4v4h-4z"/>
<path fill="#9f9f9f" d="M325.4 180.2h4v4h-4z"/>
<path fill="#a0a0a0" d="M437.4 204.2h4v4h-4z"/>
<path fill="#a3a3a3" d="M313.4 184.2h4v4h-4z"/>
<path fill="#a5a5a5" d="M321.4 172.2h4v4h-4z"/>
<path fill="#a9a9a9" d="M317.4 172.2h4v4h-4zM313.4 176.2h4v4h-4z"/>
<path fill="#acacac" d="M313.4 180.2h4v4h-4zM321.4 184.2h4v4h-4z"/>
<path fill="#adadad" d="M421.4 188.2h4v4h-4zM437.4 200.2h4v4h-4zM421.4 208.2h4v4h-4z"/>
<path fill="#aeaeae" d="M437.4 196.2h4v4h-4z"/>
<path fill="#b0b0b0" d="M417.4 192.2h4v4h-4zM417.4 204.2h4v4h-4z"/>
<path fill="#b1b1b1" d="M317.4 184.2h4v4h-4z"/>
<path fill="#b3b3b3" d="M321.4 176.2h4v4h-4z"/>
<path fill="#b5b5b5" d="M429.4 188.2h4v4h-4z"/>
<path fill="#b6b6b6" d="M321.4 180.2h4v4h-4z"/>
<path fill="#b8b8b8" d="M317.4 176.2h4v4h-4z"/>
<path fill="#b9b9b9" d="M425.4 188.2h4v4h-4zM425.4 208.2h4v4h-4z"/>
<path fill="#bcbcbc" d="M317.4 180.2h4v4h-4z"/>
<path fill="#c0c0c0" d="M417.4 196.2h4v4h-4zM417.4 200.2h4v4h-4z"/>
<path fill="#c2c2c2" d="M433.4 192.2h4v4h-4zM433.4 204.2h4v4h-4z"/>
<path fill="#d0d0d0" d="M421.4 192.2h4v4h-4zM421.4 204.2h4v4h-4z"/>
<path fill="#d5d5d5" d="M433.4 200.2h4v4h-4z"/>
<path fill="#d6d6d6" d="M433.4 196.2h4v4h-4z"/>
<path fill="#dbdbdb" d="M429.4 192.2h4v4h-4zM429.4 204.2h4v4h-4z"/>
<path fill="#e1e1e1" d="M425.4 192.2h4v4h-4zM425.4 204.2h4v4h-4z"/>
<path fill="#e7e7e7" d="M421.4 196.2h4v4h-4zM421.4 200.2h4v4h-4z"/>
<path fill="#f4f4f4" d="M429.4 196.2h4v4h-4zM429.4 200.2h4v4h-4z"/>
<path fill="#fbfbfb" d="M425.4 196.2h4v4h-4zM425.4 200.2h4v4h-4z"/>
</g></g>
<path d="M321.40,92.20 L430.40,200.60 A325,325 0 0 1 321.40,219.20 Z" fill="none" stroke="#000" stroke-width="0.9" shape-rendering="geometricPrecision"/>
<g clip-path="url(#cbX)"><g filter="url(#fm)">
<path fill="#080808" d="M546.2 212.6h4v4h-4z"/>
<path fill="#090909" d="M590.2 144.6h4v4h-4zM550.2 212.6h4v4h-4z"/>
<path fill="#0a0a0a" d="M590.2 140.6h4v4h-4zM586.2 144.6h4v4h-4z"/>
<path fill="#0b0b0b" d="M586.2 140.6h4v4h-4zM546.2 208.6h4v4h-4zM550.2 208.6h4v4h-4z"/>
<path fill="#0c0c0c" d="M542.2 212.6h4v4h-4z"/>
<path fill="#0d0d0d" d="M590.2 148.6h4v4h-4zM642.2 196.6h4v4h-4zM554.2 212.6h4v4h-4z"/>
<path fill="#0e0e0e" d="M590.2 136.6h4v4h-4zM586.2 148.6h4v4h-4zM542.2 208.6h4v4h-4z"/>
<path fill="#0f0f0f" d="M594.2 140.6h4v4h-4z"/>
<path fill="#101010" d="M586.2 136.6h4v4h-4zM594.2 144.6h4v4h-4zM642.2 192.6h4v4h-4zM554.2 208.6h4v4h-4zM546.2 216.6h4v4h-4zM550.2 216.6h4v4h-4z"/>
<path fill="#111111" d="M638.2 196.6h4v4h-4z"/>
<path fill="#121212" d="M646.2 196.6h4v4h-4z"/>
<path fill="#131313" d="M582.2 144.6h4v4h-4zM646.2 192.6h4v4h-4zM538.2 212.6h4v4h-4zM542.2 216.6h4v4h-4z"/>
<path fill="#141414" d="M594.2 136.6h4v4h-4zM582.2 140.6h4v4h-4zM554.2 216.6h4v4h-4z"/>
<path fill="#151515" d="M594.2 148.6h4v4h-4zM546.2 204.6h4v4h-4zM550.2 204.6h4v4h-4zM538.2 208.6h4v4h-4z"/>
<path fill="#161616" d="M582.2 148.6h4v4h-4zM586.2 152.6h4v4h-4zM590.2 152.6h4v4h-4zM638.2 192.6h4v4h-4zM642.2 200.6h4v4h-4z"/>
<path fill="#171717" d="M590.2 132.6h4v4h-4zM638.2 200.6h4v4h-4z"/>
<path fill="#181818" d="M586.2 132.6h4v4h-4zM582.2 136.6h4v4h-4zM542.2 204.6h4v4h-4zM558.2 212.6h4v4h-4z"/>
<path fill="#191919" d="M554.2 204.6h4v4h-4zM538.2 216.6h4v4h-4z"/>
<path fill="#1a1a1a" d="M542.2 92.6h4v4h-4zM558.2 208.6h4v4h-4z"/>
<path fill="#1b1b1b" d="M594.2 132.6h4v4h-4zM598.2 140.6h4v4h-4z"/>
<path fill="#1c1c1c" d="M582.2 152.6h4v4h-4zM634.2 196.6h4v4h-4zM534.2 212.6h4v4h-4zM558.2 216.6h4v4h-4z"/>
<path fill="#1d1d1d" d="M542.2 88.6h4v4h-4zM538.2 92.6h4v4h-4zM598.2 144.6h4v4h-4zM642.2 188.6h4v4h-4zM646.2 200.6h4v4h-4zM538.2 204.6h4v4h-4zM534.2 208.6h4v4h-4z"/>
<path fill="#1e1e1e" d="M542.2 96.6h4v4h-4zM598.2 136.6h4v4h-4zM646.2 188.6h4v4h-4zM650.2 192.6h4v4h-4z"/>
<path fill="#1f1f1f" d="M594.2 152.6h4v4h-4zM650.2 196.6h4v4h-4zM546.2 220.6h4v4h-4zM550.2 220.6h4v4h-4z"/>
<path fill="#202020" d="M538.2 88.6h4v4h-4zM538.2 96.6h4v4h-4zM582.2 132.6h4v4h-4zM634.2 192.6h4v4h-4zM634.2 200.6h4v4h-4z"/>
<path fill="#212121" d="M590.2 128.6h4v4h-4zM578.2 144.6h4v4h-4zM586.2 156.6h4v4h-4zM546.2 200.6h4v4h-4zM542.2 220.6h4v4h-4z"/>
<path fill="#222222" d="M546.2 92.6h4v4h-4zM578.2 140.6h4v4h-4zM550.2 200.6h4v4h-4zM558.2 204.6h4v4h-4zM534.2 216.6h4v4h-4zM554.2 220.6h4v4h-4z"/>
<path fill="#232323" d="M586.2 128.6h4v4h-4zM578.2 148.6h4v4h-4zM598.2 148.6h4v4h-4zM590.2 156.6h4v4h-4zM638.2 188.6h4v4h-4zM542.2 200.6h4v4h-4z"/>
<path fill="#242424" d="M534.2 204.6h4v4h-4z"/>
<path fill="#252525" d="M546.2 88.6h4v4h-4zM582.2 156.6h4v4h-4zM650.2 188.6h4v4h-4zM554.2 200.6h4v4h-4z"/>
<path fill="#262626" d="M542.2 84.6h4v4h-4zM546.2 96.6h4v4h-4zM578.2 136.6h4v4h-4zM638.2 204.6h4v4h-4zM538.2 220.6h4v4h-4z"/>
<path fill="#272727" d="M542.2 100.6h4v4h-4zM642.2 204.6h4v4h-4z"/>
<path fill="#282828" d="M538.2 84.6h4v4h-4zM578.2 152.6h4v4h-4zM538.2 200.6h4v4h-4zM558.2 220.6h4v4h-4z"/>
<path fill="#292929" d="M582.2 128.6h4v4h-4zM630.2 196.6h4v4h-4zM562.2 212.6h4v4h-4z"/>
<path fill="#2a2a2a" d="M534.2 92.6h4v4h-4zM538.2 100.6h4v4h-4zM634.2 188.6h4v4h-4zM650.2 200.6h4v4h-4zM562.2 216.6h4v4h-4z"/>
<path fill="#2b2b2b" d="M578.2 132.6h4v4h-4zM602.2 140.6h4v4h-4zM630.2 192.6h4v4h-4zM546.2 196.6h4v4h-4zM550.2 196.6h4v4h-4zM634.2 204.6h4v4h-4z"/>
<path fill="#2c2c2c" d="M534.2 88.6h4v4h-4zM534.2 96.6h4v4h-4zM558.2 200.6h4v4h-4zM630.2 200.6h4v4h-4zM562.2 208.6h4v4h-4z"/>
<path fill="#2d2d2d" d="M546.2 84.6h4v4h-4zM594.2 156.6h4v4h-4zM654.2 192.6h4v4h-4zM534.2 220.6h4v4h-4z"/>
<path fill="#2e2e2e" d="M546.2 100.6h4v4h-4zM586.2 124.6h4v4h-4zM602.2 144.6h4v4h-4zM598.2 152.6h4v4h-4zM586.2 160.6h4v4h-4zM542.2 196.6h4v4h-4zM554.2 196.6h4v4h-4zM534.2 200.6h4v4h-4zM646.2 204.6h4v4h-4z"/>
<path fill="#2f2f2f" d="M578.2 156.6h4v4h-4zM642.2 184.6h4v4h-4zM646.2 184.6h4v4h-4zM654.2 196.6h4v4h-4z"/>
<path fill="#303030" d="M582.2 160.6h4v4h-4zM630.2 188.6h4v4h-4zM562.2 204.6h4v4h-4zM546.2 224.6h4v4h-4zM550.2 224.6h4v4h-4z"/>
<path fill="#313131" d="M550.2 192.6h4v4h-4zM562.2 220.6h4v4h-4z"/>
<path fill="#323232" d="M534.2 84.6h4v4h-4zM550.2 92.6h4v4h-4zM582.2 124.6h4v4h-4zM578.2 128.6h4v4h-4zM574.2 144.6h4v4h-4zM590.2 160.6h4v4h-4zM638.2 184.6h4v4h-4zM554.2 192.6h4v4h-4zM538.2 196.6h4v4h-4zM542.2 224.6h4v4h-4zM554.2 224.6h4v4h-4z"/>
<path fill="#333333" d="M574.2 140.6h4v4h-4zM546.2 192.6h4v4h-4zM558.2 196.6h4v4h-4z"/>
<path fill="#343434" d="M550.2 88.6h4v4h-4zM550.2 96.6h4v4h-4zM534.2 100.6h4v4h-4zM574.2 148.6h4v4h-4z"/>
<path fill="#353535" d="M542.2 104.6h4v4h-4zM574.2 136.6h4v4h-4zM602.2 148.6h4v4h-4zM554.2 188.6h4v4h-4zM626.2 192.6h4v4h-4zM630.2 204.6h4v4h-4zM538.2 224.6h4v4h-4z"/>
<path fill="#363636" d="M574.2 152.6h4v4h-4zM634.2 184.6h4v4h-4zM550.2 188.6h4v4h-4zM626.2 188.6h4v4h-4zM542.2 192.6h4v4h-4zM558.2 192.6h4v4h-4zM626.2 196.6h4v4h-4zM562.2 200.6h4v4h-4z"/>
<path fill="#373737" d="M538.2 104.6h4v4h-4zM578.2 160.6h4v4h-4zM558.2 188.6h4v4h-4zM558.2 224.6h4v4h-4z"/>
<path fill="#383838" d="M534.2 196.6h4v4h-4zM654.2 200.6h4v4h-4zM650.2 204.6h4v4h-4zM638.2 208.6h4v4h-4z"/>
<path fill="#393939" d="M574.2 132.6h4v4h-4zM630.2 184.6h4v4h-4zM626.2 200.6h4v4h-4zM642.2 208.6h4v4h-4z"/>
<path fill="#3a3a3a" d="M550.2 100.6h4v4h-4zM546.2 104.6h4v4h-4zM578.2 124.6h4v4h-4zM546.2 188.6h4v4h-4zM562.2 196.6h4v4h-4zM634.2 208.6h4v4h-4zM566.2 216.6h4v4h-4zM534.2 224.6h4v4h-4z"/>
<path fill="#3b3b3b" d="M582.2 120.6h4v4h-4zM574.2 156.6h4v4h-4zM582.2 164.6h4v4h-4zM586.2 164.6h4v4h-4zM554.2 184.6h4v4h-4zM558.2 184.6h4v4h-4z"/>
<path fill="#3c3c3c" d="M626.2 184.6h4v4h-4zM562.2 188.6h4v4h-4zM538.2 192.6h4v4h-4zM562.2 192.6h4v4h-4zM566.2 220.6h4v4h-4z"/>
<path fill="#3d3d3d" d="M598.2 156.6h4v4h-4zM562.2 184.6h4v4h-4zM622.2 188.6h4v4h-4zM562.2 224.6h4v4h-4z"/>
<path fill="#3e3e3e" d="M534.2 104.6h4v4h-4zM574.2 128.6h4v4h-4zM594.2 160.6h4v4h-4zM578.2 164.6h4v4h-4zM550.2 184.6h4v4h-4zM646.2 208.6h4v4h-4zM566.2 212.6h4v4h-4z"/>
<path fill="#3f3f3f" d="M606.2 144.6h4v4h-4zM542.2 188.6h4v4h-4zM622.2 192.6h4v4h-4zM626.2 204.6h4v4h-4zM630.2 208.6h4v4h-4z"/>
<path fill="#404040" d="M602.2 152.6h4v4h-4zM574.2 160.6h4v4h-4zM642.2 180.6h4v4h-4z"/>
<path fill="#414141" d="M554.2 92.6h4v4h-4zM578.2 120.6h4v4h-4zM562.2 180.6h4v4h-4zM566.2 184.6h4v4h-4z"/>
<path fill="#424242" d="M550.2 104.6h4v4h-4zM590.2 164.6h4v4h-4zM558.2 180.6h4v4h-4zM638.2 180.6h4v4h-4zM622.2 184.6h4v4h-4zM566.2 188.6h4v4h-4zM534.2 192.6h4v4h-4zM622.2 196.6h4v4h-4zM566.2 200.6h4v4h-4zM566.2 204.6h4v4h-4zM654.2 204.6h4v4h-4zM566.2 208.6h4v4h-4z"/>
<path fill="#434343" d="M554.2 96.6h4v4h-4zM574.2 124.6h4v4h-4zM566.2 180.6h4v4h-4zM634.2 180.6h4v4h-4zM546.2 184.6h4v4h-4zM566.2 192.6h4v4h-4zM566.2 196.6h4v4h-4z"/>
<path fill="#444444" d="M574.2 164.6h4v4h-4zM554.2 180.6h4v4h-4zM566.2 224.6h4v4h-4z"/>
<path fill="#454545" d="M542.2 108.6h4v4h-4zM570.2 140.6h4v4h-4zM570.2 144.6h4v4h-4zM570.2 148.6h4v4h-4zM578.2 168.6h4v4h-4zM582.2 168.6h4v4h-4zM630.2 180.6h4v4h-4zM538.2 188.6h4v4h-4zM622.2 200.6h4v4h-4z"/>
<path fill="#464646" d="M554.2 100.6h4v4h-4zM538.2 108.6h4v4h-4zM570.2 152.6h4v4h-4zM626.2 208.6h4v4h-4zM570.2 220.6h4v4h-4z"/>
<path fill="#474747" d="M546.2 108.6h4v4h-4zM578.2 116.6h4v4h-4zM574.2 120.6h4v4h-4zM570.2 136.6h4v4h-4zM606.2 148.6h4v4h-4zM570.2 156.6h4v4h-4zM570.2 180.6h4v4h-4zM570.2 184.6h4v4h-4zM634.2 212.6h4v4h-4zM570.2 216.6h4v4h-4z"/>
<path fill="#484848" d="M570.2 132.6h4v4h-4zM574.2 168.6h4v4h-4zM586.2 168.6h4v4h-4zM562.2 176.6h4v4h-4zM566.2 176.6h4v4h-4zM550.2 180.6h4v4h-4zM626.2 180.6h4v4h-4zM542.2 184.6h4v4h-4zM622.2 204.6h4v4h-4z"/>
<path fill="#494949" d="M570.2 160.6h4v4h-4zM570.2 176.6h4v4h-4zM570.2 188.6h4v4h-4zM618.2 188.6h4v4h-4zM630.2 212.6h4v4h-4z"/>
<path fill="#4a4a4a" d="M534.2 108.6h4v4h-4zM570.2 128.6h4v4h-4zM574.2 172.6h4v4h-4zM578.2 172.6h4v4h-4zM558.2 176.6h4v4h-4zM534.2 188.6h4v4h-4zM618.2 192.6h4v4h-4z"/>
<path fill="#4b4b4b" d="M554.2 104.6h4v4h-4zM570.2 164.6h4v4h-4zM570.2 172.6h4v4h-4zM574.2 176.6h4v4h-4zM570.2 224.6h4v4h-4z"/>
<path fill="#4c4c4c" d="M550.2 108.6h4v4h-4zM574.2 116.6h4v4h-4zM570.2 124.6h4v4h-4zM570.2 168.6h4v4h-4zM566.2 172.6h4v4h-4zM546.2 180.6h4v4h-4zM574.2 180.6h4v4h-4zM570.2 192.6h4v4h-4zM570.2 196.6h4v4h-4zM622.2 208.6h4v4h-4z"/>
<path fill="#4d4d4d" d="M558.2 96.6h4v4h-4zM582.2 172.6h4v4h-4zM554.2 176.6h4v4h-4zM638.2 176.6h4v4h-4zM538.2 184.6h4v4h-4zM618.2 196.6h4v4h-4zM570.2 200.6h4v4h-4zM626.2 212.6h4v4h-4z"/>
<path fill="#4e4e4e" d="M570.2 120.6h4v4h-4zM578.2 176.6h4v4h-4zM622.2 180.6h4v4h-4zM574.2 184.6h4v4h-4zM618.2 184.6h4v4h-4zM570.2 212.6h4v4h-4z"/>
<path fill="#4f4f4f" d="M558.2 100.6h4v4h-4zM574.2 112.6h4v4h-4zM598.2 160.6h4v4h-4zM562.2 172.6h4v4h-4zM634.2 176.6h4v4h-4zM618.2 200.6h4v4h-4zM574.2 220.6h4v4h-4z"/>
<path fill="#505050" d="M570.2 116.6h4v4h-4zM602.2 156.6h4v4h-4zM594.2 164.6h4v4h-4zM566.2 168.6h4v4h-4zM542.2 180.6h4v4h-4zM534.2 184.6h4v4h-4zM570.2 204.6h4v4h-4zM618.2 204.6h4v4h-4zM622.2 212.6h4v4h-4zM574.2 216.6h4v4h-4z"/>
<path fill="#515151" d="M558.2 104.6h4v4h-4zM554.2 108.6h4v4h-4zM566.2 164.6h4v4h-4zM550.2 176.6h4v4h-4zM630.2 176.6h4v4h-4z"/>
<path fill="#525252" d="M570.2 112.6h4v4h-4zM606.2 152.6h4v4h-4zM590.2 168.6h4v4h-4zM558.2 172.6h4v4h-4zM574.2 188.6h4v4h-4zM570.2 208.6h4v4h-4zM618.2 208.6h4v4h-4z"/>
<path fill="#535353" d="M562.2 100.6h4v4h-4zM566.2 160.6h4v4h-4zM538.2 180.6h4v4h-4zM578.2 180.6h4v4h-4zM618.2 212.6h4v4h-4z"/>
<path fill="#545454" d="M562.2 104.6h4v4h-4zM558.2 108.6h4v4h-4zM570.2 108.6h4v4h-4zM566.2 156.6h4v4h-4zM562.2 168.6h4v4h-4zM546.2 176.6h4v4h-4zM626.2 176.6h4v4h-4zM574.2 200.6h4v4h-4zM574.2 212.6h4v4h-4z"/>
<path fill="#555555" d="M566.2 104.6h4v4h-4zM562.2 108.6h4v4h-4zM566.2 108.6h4v4h-4zM542.2 112.6h4v4h-4zM566.2 112.6h4v4h-4zM566.2 116.6h4v4h-4zM566.2 120.6h4v4h-4zM566.2 152.6h4v4h-4zM586.2 172.6h4v4h-4zM582.2 176.6h4v4h-4zM534.2 180.6h4v4h-4zM574.2 192.6h4v4h-4zM574.2 204.6h4v4h-4zM614.2 208.6h4v4h-4zM578.2 216.6h4v4h-4zM618.2 216.6h4v4h-4zM578.2 220.6h4v4h-4z"/>
<path fill="#565656" d="M538.2 112.6h4v4h-4zM546.2 112.6h4v4h-4zM566.2 124.6h4v4h-4zM610.2 148.6h4v4h-4zM554.2 172.6h4v4h-4zM634.2 172.6h4v4h-4zM574.2 196.6h4v4h-4zM614.2 204.6h4v4h-4zM578.2 212.6h4v4h-4zM614.2 212.6h4v4h-4zM614.2 216.6h4v4h-4z"/>
<path fill="#575757" d="M534.2 112.6h4v4h-4zM550.2 112.6h4v4h-4zM562.2 112.6h4v4h-4zM566.2 128.6h4v4h-4zM566.2 148.6h4v4h-4zM542.2 176.6h4v4h-4zM614.2 196.6h4v4h-4zM614.2 200.6h4v4h-4zM574.2 208.6h4v4h-4zM578.2 208.6h4v4h-4zM610.2 216.6h4v4h-4z"/>
<path fill="#585858" d="M554.2 112.6h4v4h-4zM558.2 112.6h4v4h-4zM566.2 132.6h4v4h-4zM562.2 164.6h4v4h-4zM538.2 176.6h4v4h-4zM578.2 184.6h4v4h-4zM614.2 192.6h4v4h-4zM578.2 204.6h4v4h-4zM610.2 212.6h4v4h-4zM606.2 216.6h4v4h-4z"/>
<path fill="#595959" d="M562.2 116.6h4v4h-4zM566.2 136.6h4v4h-4zM566.2 140.6h4v4h-4zM566.2 144.6h4v4h-4zM558.2 168.6h4v4h-4zM550.2 172.6h4v4h-4zM630.2 172.6h4v4h-4zM534.2 176.6h4v4h-4zM610.2 208.6h4v4h-4zM582.2 220.6h4v4h-4zM598.2 220.6h4v4h-4z"/>
<path fill="#5a5a5a" d="M618.2 180.6h4v4h-4zM614.2 188.6h4v4h-4zM606.2 212.6h4v4h-4zM582.2 216.6h4v4h-4zM602.2 216.6h4v4h-4z"/>
<path fill="#5b5b5b" d="M610.2 204.6h4v4h-4zM582.2 212.6h4v4h-4zM586.2 220.6h4v4h-4zM594.2 220.6h4v4h-4z"/>
<path fill="#5c5c5c" d="M562.2 120.6h4v4h-4zM562.2 160.6h4v4h-4zM546.2 172.6h4v4h-4zM622.2 176.6h4v4h-4zM582.2 180.6h4v4h-4zM578.2 200.6h4v4h-4zM598.2 216.6h4v4h-4zM590.2 220.6h4v4h-4z"/>
<path fill="#5d5d5d" d="M558.2 116.6h4v4h-4zM630.2 168.6h4v4h-4zM578.2 188.6h4v4h-4zM582.2 208.6h4v4h-4zM606.2 208.6h4v4h-4zM602.2 212.6h4v4h-4z"/>
<path fill="#5e5e5e" d="M554.2 168.6h4v4h-4zM534.2 172.6h4v4h-4zM538.2 172.6h4v4h-4zM542.2 172.6h4v4h-4zM626.2 172.6h4v4h-4zM586.2 216.6h4v4h-4zM594.2 216.6h4v4h-4z"/>
<path fill="#5f5f5f" d="M558.2 164.6h4v4h-4zM610.2 200.6h4v4h-4z"/>
<path fill="#606060" d="M562.2 124.6h4v4h-4zM610.2 152.6h4v4h-4zM606.2 156.6h4v4h-4zM586.2 176.6h4v4h-4zM578.2 196.6h4v4h-4zM590.2 216.6h4v4h-4z"/>
<path fill="#616161" d="M554.2 116.6h4v4h-4zM562.2 156.6h4v4h-4zM602.2 160.6h4v4h-4zM590.2 172.6h4v4h-4zM614.2 184.6h4v4h-4zM578.2 192.6h4v4h-4zM582.2 204.6h4v4h-4zM606.2 204.6h4v4h-4zM598.2 212.6h4v4h-4z"/>
<path fill="#626262" d="M598.2 164.6h4v4h-4zM550.2 168.6h4v4h-4zM594.2 168.6h4v4h-4zM602.2 208.6h4v4h-4zM586.2 212.6h4v4h-4z"/>
<path fill="#636363" d="M558.2 120.6h4v4h-4zM610.2 196.6h4v4h-4z"/>
<path fill="#646464" d="M550.2 116.6h4v4h-4zM626.2 168.6h4v4h-4zM582.2 184.6h4v4h-4zM594.2 212.6h4v4h-4z"/>
<path fill="#656565" d="M534.2 116.6h4v4h-4zM562.2 128.6h4v4h-4zM534.2 168.6h4v4h-4zM590.2 212.6h4v4h-4z"/>
<path fill="#666666" d="M546.2 116.6h4v4h-4zM546.2 168.6h4v4h-4z"/>
<path fill="#676767" d="M538.2 116.6h4v4h-4zM542.2 116.6h4v4h-4zM562.2 152.6h4v4h-4zM558.2 160.6h4v4h-4zM554.2 164.6h4v4h-4zM626.2 164.6h4v4h-4zM538.2 168.6h4v4h-4zM622.2 172.6h4v4h-4zM586.2 208.6h4v4h-4zM598.2 208.6h4v4h-4z"/>
<path fill="#686868" d="M542.2 168.6h4v4h-4zM618.2 176.6h4v4h-4zM610.2 192.6h4v4h-4zM582.2 200.6h4v4h-4zM606.2 200.6h4v4h-4z"/>
<path fill="#696969" d="M614.2 152.6h4v4h-4zM602.2 204.6h4v4h-4z"/>
<path fill="#6a6a6a" d="M562.2 132.6h4v4h-4zM586.2 180.6h4v4h-4z"/>
<path fill="#6b6b6b" d="M554.2 120.6h4v4h-4zM582.2 188.6h4v4h-4z"/>
<path fill="#6c6c6c" d="M558.2 124.6h4v4h-4zM562.2 148.6h4v4h-4zM610.2 156.6h4v4h-4zM614.2 180.6h4v4h-4zM590.2 208.6h4v4h-4zM594.2 208.6h4v4h-4z"/>
<path fill="#6d6d6d" d="M622.2 168.6h4v4h-4zM586.2 204.6h4v4h-4z"/>
<path fill="#6e6e6e" d="M562.2 136.6h4v4h-4zM550.2 164.6h4v4h-4zM610.2 188.6h4v4h-4zM582.2 196.6h4v4h-4z"/>
<path fill="#6f6f6f" d="M562.2 144.6h4v4h-4zM590.2 176.6h4v4h-4zM582.2 192.6h4v4h-4zM606.2 196.6h4v4h-4z"/>
<path fill="#707070" d="M562.2 140.6h4v4h-4zM558.2 156.6h4v4h-4zM606.2 160.6h4v4h-4zM622.2 160.6h4v4h-4zM622.2 164.6h4v4h-4zM598.2 204.6h4v4h-4z"/>
<path fill="#717171" d="M534.2 164.6h4v4h-4zM602.2 200.6h4v4h-4z"/>
<path fill="#727272" d="M614.2 156.6h4v4h-4zM618.2 156.6h4v4h-4zM554.2 160.6h4v4h-4zM602.2 164.6h4v4h-4zM594.2 172.6h4v4h-4z"/>
<path fill="#737373" d="M550.2 120.6h4v4h-4zM546.2 164.6h4v4h-4zM598.2 168.6h4v4h-4zM618.2 172.6h4v4h-4z"/>
<path fill="#747474" d="M586.2 184.6h4v4h-4z"/>
<path fill="#757575" d="M538.2 164.6h4v4h-4zM590.2 204.6h4v4h-4zM594.2 204.6h4v4h-4z"/>
<path fill="#767676" d="M558.2 128.6h4v4h-4zM542.2 164.6h4v4h-4zM610.2 184.6h4v4h-4zM586.2 200.6h4v4h-4z"/>
<path fill="#777777" d="M534.2 120.6h4v4h-4zM618.2 160.6h4v4h-4z"/>
<path fill="#787878" d="M610.2 160.6h4v4h-4zM618.2 168.6h4v4h-4zM614.2 176.6h4v4h-4zM606.2 192.6h4v4h-4z"/>
<path fill="#797979" d="M546.2 120.6h4v4h-4zM554.2 124.6h4v4h-4zM618.2 164.6h4v4h-4z"/>
<path fill="#7a7a7a" d="M558.2 152.6h4v4h-4zM614.2 160.6h4v4h-4zM598.2 200.6h4v4h-4z"/>
<path fill="#7b7b7b" d="M538.2 120.6h4v4h-4zM590.2 180.6h4v4h-4zM586.2 188.6h4v4h-4zM602.2 196.6h4v4h-4z"/>
<path fill="#7c7c7c" d="M542.2 120.6h4v4h-4zM586.2 196.6h4v4h-4z"/>
<path fill="#7d7d7d" d="M550.2 160.6h4v4h-4z"/>
<path fill="#7e7e7e" d="M606.2 164.6h4v4h-4zM586.2 192.6h4v4h-4z"/>
<path fill="#7f7f7f" d="M558.2 132.6h4v4h-4zM590.2 200.6h4v4h-4z"/>
<path fill="#808080" d="M614.2 164.6h4v4h-4zM614.2 172.6h4v4h-4zM594.2 176.6h4v4h-4zM610.2 180.6h4v4h-4zM606.2 188.6h4v4h-4zM594.2 200.6h4v4h-4z"/>
<path fill="#818181" d="M554.2 156.6h4v4h-4z"/>
<path fill="#828282" d="M534.2 160.6h4v4h-4zM602.2 168.6h4v4h-4zM614.2 168.6h4v4h-4z"/>
<path fill="#838383" d="M558.2 148.6h4v4h-4zM610.2 164.6h4v4h-4zM598.2 172.6h4v4h-4z"/>
<path fill="#848484" d="M590.2 184.6h4v4h-4z"/>
<path fill="#858585" d="M598.2 196.6h4v4h-4z"/>
<path fill="#868686" d="M550.2 124.6h4v4h-4zM546.2 160.6h4v4h-4zM602.2 192.6h4v4h-4z"/>
<path fill="#878787" d="M558.2 136.6h4v4h-4zM590.2 196.6h4v4h-4z"/>
<path fill="#888888" d="M554.2 128.6h4v4h-4zM610.2 176.6h4v4h-4z"/>
<path fill="#898989" d="M558.2 144.6h4v4h-4zM538.2 160.6h4v4h-4zM610.2 168.6h4v4h-4zM606.2 184.6h4v4h-4z"/>
<path fill="#8a8a8a" d="M542.2 160.6h4v4h-4zM606.2 168.6h4v4h-4zM590.2 188.6h4v4h-4zM594.2 196.6h4v4h-4z"/>
<path fill="#8b8b8b" d="M558.2 140.6h4v4h-4zM610.2 172.6h4v4h-4zM594.2 180.6h4v4h-4zM590.2 192.6h4v4h-4z"/>
<path fill="#8c8c8c" d="M534.2 124.6h4v4h-4z"/>
<path fill="#8e8e8e" d="M602.2 172.6h4v4h-4zM598.2 176.6h4v4h-4zM602.2 188.6h4v4h-4z"/>
<path fill="#8f8f8f" d="M598.2 192.6h4v4h-4z"/>
<path fill="#909090" d="M546.2 124.6h4v4h-4zM554.2 152.6h4v4h-4zM606.2 180.6h4v4h-4z"/>
<path fill="#919191" d="M550.2 156.6h4v4h-4zM606.2 172.6h4v4h-4zM594.2 184.6h4v4h-4zM594.2 192.6h4v4h-4z"/>
<path fill="#939393" d="M606.2 176.6h4v4h-4zM594.2 188.6h4v4h-4z"/>
<path fill="#949494" d="M538.2 124.6h4v4h-4z"/>
<path fill="#959595" d="M542.2 124.6h4v4h-4zM602.2 176.6h4v4h-4zM598.2 180.6h4v4h-4zM602.2 184.6h4v4h-4zM598.2 188.6h4v4h-4z"/>
<path fill="#979797" d="M602.2 180.6h4v4h-4z"/>
<path fill="#989898" d="M554.2 132.6h4v4h-4zM534.2 156.6h4v4h-4zM598.2 184.6h4v4h-4z"/>
<path fill="#9b9b9b" d="M550.2 128.6h4v4h-4z"/>
<path fill="#9d9d9d" d="M546.2 156.6h4v4h-4z"/>
<path fill="#9e9e9e" d="M554.2 148.6h4v4h-4z"/>
<path fill="#a2a2a2" d="M538.2 156.6h4v4h-4z"/>
<path fill="#a3a3a3" d="M534.2 128.6h4v4h-4zM554.2 136.6h4v4h-4z"/>
<path fill="#a4a4a4" d="M542.2 156.6h4v4h-4z"/>
<path fill="#a6a6a6" d="M550.2 152.6h4v4h-4z"/>
<path fill="#a7a7a7" d="M554.2 144.6h4v4h-4z"/>
<path fill="#a9a9a9" d="M554.2 140.6h4v4h-4z"/>
<path fill="#aaaaaa" d="M546.2 128.6h4v4h-4z"/>
<path fill="#afafaf" d="M538.2 128.6h4v4h-4zM534.2 152.6h4v4h-4z"/>
<path fill="#b0b0b0" d="M550.2 132.6h4v4h-4z"/>
<path fill="#b1b1b1" d="M542.2 128.6h4v4h-4z"/>
<path fill="#b7b7b7" d="M546.2 152.6h4v4h-4z"/>
<path fill="#b9b9b9" d="M550.2 148.6h4v4h-4z"/>
<path fill="#bbbbbb" d="M534.2 132.6h4v4h-4z"/>
<path fill="#bdbdbd" d="M538.2 152.6h4v4h-4z"/>
<path fill="#bfbfbf" d="M542.2 152.6h4v4h-4z"/>
<path fill="#c0c0c0" d="M550.2 136.6h4v4h-4z"/>
<path fill="#c3c3c3" d="M546.2 132.6h4v4h-4z"/>
<path fill="#c4c4c4" d="M534.2 148.6h4v4h-4z"/>
<path fill="#c5c5c5" d="M550.2 144.6h4v4h-4z"/>
<path fill="#c8c8c8" d="M550.2 140.6h4v4h-4z"/>
<path fill="#c9c9c9" d="M538.2 132.6h4v4h-4z"/>
<path fill="#cdcdcd" d="M542.2 132.6h4v4h-4zM534.2 136.6h4v4h-4z"/>
<path fill="#cecece" d="M546.2 148.6h4v4h-4z"/>
<path fill="#d2d2d2" d="M534.2 144.6h4v4h-4z"/>
<path fill="#d5d5d5" d="M534.2 140.6h4v4h-4zM538.2 148.6h4v4h-4z"/>
<path fill="#d7d7d7" d="M546.2 136.6h4v4h-4z"/>
<path fill="#d8d8d8" d="M542.2 148.6h4v4h-4z"/>
<path fill="#dddddd" d="M546.2 144.6h4v4h-4z"/>
<path fill="#dedede" d="M538.2 136.6h4v4h-4z"/>
<path fill="#e0e0e0" d="M546.2 140.6h4v4h-4z"/>
<path fill="#e2e2e2" d="M542.2 136.6h4v4h-4z"/>
<path fill="#e5e5e5" d="M538.2 144.6h4v4h-4z"/>
<path fill="#e8e8e8" d="M538.2 140.6h4v4h-4z"/>
<path fill="#e9e9e9" d="M542.2 144.6h4v4h-4z"/>
<path fill="#ececec" d="M542.2 140.6h4v4h-4z"/>
</g></g>
<path d="M542.20,92.60 L650.80,200.60 A325,325 0 0 1 542.20,219.20 Z" fill="none" stroke="#000" stroke-width="0.9" shape-rendering="geometricPrecision"/>
<g clip-path="url(#cbY)"><g filter="url(#fm)">
<path fill="#212121" d="M698.6 172.8h4v4h-4zM694.6 176.8h4v4h-4zM698.6 176.8h4v4h-4z"/>
<path fill="#222222" d="M694.6 172.8h4v4h-4zM702.6 172.8h4v4h-4zM702.6 176.8h4v4h-4z"/>
<path fill="#242424" d="M690.6 176.8h4v4h-4z"/>
<path fill="#252525" d="M690.6 172.8h4v4h-4z"/>
<path fill="#262626" d="M698.6 168.8h4v4h-4zM706.6 172.8h4v4h-4zM706.6 176.8h4v4h-4z"/>
<path fill="#272727" d="M694.6 168.8h4v4h-4z"/>
<path fill="#282828" d="M702.6 168.8h4v4h-4zM694.6 180.8h4v4h-4zM698.6 180.8h4v4h-4z"/>
<path fill="#292929" d="M686.6 172.8h4v4h-4zM686.6 176.8h4v4h-4zM702.6 180.8h4v4h-4z"/>
<path fill="#2a2a2a" d="M690.6 168.8h4v4h-4zM690.6 180.8h4v4h-4z"/>
<path fill="#2b2b2b" d="M706.6 168.8h4v4h-4z"/>
<path fill="#2d2d2d" d="M710.6 172.8h4v4h-4zM710.6 176.8h4v4h-4zM706.6 180.8h4v4h-4z"/>
<path fill="#2e2e2e" d="M686.6 168.8h4v4h-4zM686.6 180.8h4v4h-4zM778.6 192.8h4v4h-4zM782.6 192.8h4v4h-4z"/>
<path fill="#2f2f2f" d="M682.6 172.8h4v4h-4zM682.6 176.8h4v4h-4zM782.6 188.8h4v4h-4zM786.6 192.8h4v4h-4zM778.6 196.8h4v4h-4zM782.6 196.8h4v4h-4z"/>
<path fill="#303030" d="M698.6 164.8h4v4h-4zM778.6 188.8h4v4h-4zM786.6 188.8h4v4h-4zM774.6 192.8h4v4h-4zM774.6 196.8h4v4h-4zM786.6 196.8h4v4h-4z"/>
<path fill="#313131" d="M694.6 164.8h4v4h-4zM702.6 164.8h4v4h-4zM710.6 168.8h4v4h-4zM774.6 188.8h4v4h-4zM770.6 192.8h4v4h-4z"/>
<path fill="#323232" d="M710.6 180.8h4v4h-4zM790.6 192.8h4v4h-4zM770.6 196.8h4v4h-4zM774.6 200.8h4v4h-4zM778.6 200.8h4v4h-4zM782.6 200.8h4v4h-4z"/>
<path fill="#333333" d="M690.6 164.8h4v4h-4zM682.6 180.8h4v4h-4zM770.6 188.8h4v4h-4zM790.6 188.8h4v4h-4zM766.6 192.8h4v4h-4zM766.6 196.8h4v4h-4zM790.6 196.8h4v4h-4zM770.6 200.8h4v4h-4z"/>
<path fill="#343434" d="M706.6 164.8h4v4h-4zM682.6 168.8h4v4h-4zM778.6 184.8h4v4h-4zM782.6 184.8h4v4h-4zM762.6 192.8h4v4h-4zM762.6 196.8h4v4h-4zM762.6 200.8h4v4h-4zM766.6 200.8h4v4h-4zM786.6 200.8h4v4h-4z"/>
<path fill="#353535" d="M786.6 184.8h4v4h-4zM766.6 188.8h4v4h-4zM758.6 196.8h4v4h-4zM754.6 200.8h4v4h-4zM758.6 200.8h4v4h-4zM754.6 204.8h4v4h-4zM758.6 204.8h4v4h-4zM762.6 204.8h4v4h-4zM766.6 204.8h4v4h-4zM770.6 204.8h4v4h-4zM774.6 204.8h4v4h-4z"/>
<path fill="#363636" d="M686.6 164.8h4v4h-4zM714.6 172.8h4v4h-4zM714.6 176.8h4v4h-4zM690.6 184.8h4v4h-4zM694.6 184.8h4v4h-4zM698.6 184.8h4v4h-4zM774.6 184.8h4v4h-4zM758.6 192.8h4v4h-4zM754.6 196.8h4v4h-4zM746.6 200.8h4v4h-4zM750.6 200.8h4v4h-4zM742.6 204.8h4v4h-4zM746.6 204.8h4v4h-4zM750.6 204.8h4v4h-4zM778.6 204.8h4v4h-4zM742.6 208.8h4v4h-4zM746.6 208.8h4v4h-4zM750.6 208.8h4v4h-4zM754.6 208.8h4v4h-4zM758.6 208.8h4v4h-4zM762.6 208.8h4v4h-4z"/>
<path fill="#373737" d="M762.6 188.8h4v4h-4zM794.6 192.8h4v4h-4zM750.6 196.8h4v4h-4zM742.6 200.8h4v4h-4zM738.6 204.8h4v4h-4zM738.6 208.8h4v4h-4zM766.6 208.8h4v4h-4z"/>
<path fill="#383838" d="M686.6 184.8h4v4h-4zM702.6 184.8h4v4h-4zM770.6 184.8h4v4h-4zM790.6 184.8h4v4h-4zM794.6 188.8h4v4h-4zM754.6 192.8h4v4h-4zM746.6 196.8h4v4h-4zM794.6 196.8h4v4h-4zM790.6 200.8h4v4h-4zM782.6 204.8h4v4h-4zM734.6 208.8h4v4h-4zM770.6 208.8h4v4h-4zM742.6 212.8h4v4h-4zM746.6 212.8h4v4h-4zM750.6 212.8h4v4h-4zM754.6 212.8h4v4h-4z"/>
<path fill="#393939" d="M710.6 164.8h4v4h-4zM714.6 168.8h4v4h-4zM714.6 180.8h4v4h-4zM738.6 200.8h4v4h-4zM734.6 204.8h4v4h-4zM738.6 212.8h4v4h-4zM758.6 212.8h4v4h-4z"/>
<path fill="#3a3a3a" d="M682.6 164.8h4v4h-4zM682.6 184.8h4v4h-4zM706.6 184.8h4v4h-4zM766.6 184.8h4v4h-4zM758.6 188.8h4v4h-4zM750.6 192.8h4v4h-4zM786.6 204.8h4v4h-4zM730.6 208.8h4v4h-4zM774.6 208.8h4v4h-4zM734.6 212.8h4v4h-4zM762.6 212.8h4v4h-4z"/>
<path fill="#3b3b3b" d="M694.6 160.8h4v4h-4zM698.6 160.8h4v4h-4zM742.6 196.8h4v4h-4zM730.6 212.8h4v4h-4z"/>
<path fill="#3c3c3c" d="M690.6 160.8h4v4h-4zM702.6 160.8h4v4h-4zM778.6 180.8h4v4h-4zM782.6 180.8h4v4h-4zM710.6 184.8h4v4h-4zM734.6 200.8h4v4h-4zM730.6 204.8h4v4h-4zM778.6 208.8h4v4h-4zM766.6 212.8h4v4h-4zM742.6 216.8h4v4h-4zM746.6 216.8h4v4h-4z"/>
<path fill="#3d3d3d" d="M786.6 180.8h4v4h-4zM794.6 184.8h4v4h-4zM754.6 188.8h4v4h-4zM746.6 192.8h4v4h-4zM798.6 192.8h4v4h-4zM738.6 196.8h4v4h-4zM794.6 200.8h4v4h-4zM734.6 216.8h4v4h-4zM738.6 216.8h4v4h-4zM750.6 216.8h4v4h-4z"/>
<path fill="#3e3e3e" d="M774.6 180.8h4v4h-4zM762.6 184.8h4v4h-4zM798.6 188.8h4v4h-4zM798.6 196.8h4v4h-4zM790.6 204.8h4v4h-4zM726.6 208.8h4v4h-4zM726.6 212.8h4v4h-4zM770.6 212.8h4v4h-4zM754.6 216.8h4v4h-4z"/>
<path fill="#3f3f3f" d="M686.6 160.8h4v4h-4zM706.6 160.8h4v4h-4zM782.6 208.8h4v4h-4zM730.6 216.8h4v4h-4zM758.6 216.8h4v4h-4z"/>
<path fill="#404040" d="M714.6 164.8h4v4h-4zM770.6 180.8h4v4h-4zM790.6 180.8h4v4h-4zM714.6 184.8h4v4h-4zM750.6 188.8h4v4h-4zM742.6 192.8h4v4h-4zM730.6 200.8h4v4h-4zM774.6 212.8h4v4h-4zM762.6 216.8h4v4h-4z"/>
<path fill="#414141" d="M718.6 172.8h4v4h-4zM718.6 176.8h4v4h-4zM758.6 184.8h4v4h-4zM734.6 196.8h4v4h-4zM726.6 204.8h4v4h-4zM726.6 216.8h4v4h-4z"/>
<path fill="#424242" d="M682.6 160.8h4v4h-4zM718.6 180.8h4v4h-4zM798.6 200.8h4v4h-4zM786.6 208.8h4v4h-4zM766.6 216.8h4v4h-4zM742.6 220.8h4v4h-4z"/>
<path fill="#434343" d="M718.6 168.8h4v4h-4zM766.6 180.8h4v4h-4zM802.6 192.8h4v4h-4zM794.6 204.8h4v4h-4zM722.6 212.8h4v4h-4zM778.6 212.8h4v4h-4zM734.6 220.8h4v4h-4zM738.6 220.8h4v4h-4zM746.6 220.8h4v4h-4z"/>
<path fill="#444444" d="M710.6 160.8h4v4h-4zM746.6 188.8h4v4h-4zM738.6 192.8h4v4h-4zM722.6 208.8h4v4h-4zM722.6 216.8h4v4h-4zM730.6 220.8h4v4h-4z"/>
<path fill="#454545" d="M694.6 156.8h4v4h-4zM782.6 176.8h4v4h-4zM718.6 184.8h4v4h-4zM754.6 184.8h4v4h-4zM682.6 188.8h4v4h-4zM730.6 196.8h4v4h-4zM802.6 196.8h4v4h-4zM790.6 208.8h4v4h-4z"/>
<path fill="#464646" d="M690.6 156.8h4v4h-4zM698.6 156.8h4v4h-4zM778.6 176.8h4v4h-4zM786.6 176.8h4v4h-4zM686.6 188.8h4v4h-4zM734.6 192.8h4v4h-4zM726.6 200.8h4v4h-4zM782.6 212.8h4v4h-4zM726.6 220.8h4v4h-4z"/>
<path fill="#474747" d="M686.6 156.8h4v4h-4zM702.6 156.8h4v4h-4zM762.6 180.8h4v4h-4zM690.6 188.8h4v4h-4z"/>
<path fill="#484848" d="M718.6 164.8h4v4h-4zM774.6 176.8h4v4h-4zM742.6 188.8h4v4h-4zM802.6 200.8h4v4h-4zM722.6 204.8h4v4h-4zM798.6 204.8h4v4h-4zM722.6 220.8h4v4h-4z"/>
<path fill="#494949" d="M682.6 156.8h4v4h-4zM722.6 184.8h4v4h-4zM750.6 184.8h4v4h-4zM694.6 188.8h4v4h-4zM730.6 192.8h4v4h-4zM794.6 208.8h4v4h-4zM718.6 212.8h4v4h-4zM718.6 216.8h4v4h-4z"/>
<path fill="#4a4a4a" d="M714.6 160.8h4v4h-4zM770.6 176.8h4v4h-4zM722.6 180.8h4v4h-4zM758.6 180.8h4v4h-4zM738.6 188.8h4v4h-4zM726.6 196.8h4v4h-4z"/>
<path fill="#4b4b4b" d="M706.6 156.8h4v4h-4zM722.6 176.8h4v4h-4zM698.6 188.8h4v4h-4zM714.6 188.8h4v4h-4zM718.6 188.8h4v4h-4zM718.6 220.8h4v4h-4z"/>
<path fill="#4c4c4c" d="M722.6 168.8h4v4h-4zM722.6 172.8h4v4h-4zM746.6 184.8h4v4h-4zM702.6 188.8h4v4h-4zM706.6 188.8h4v4h-4zM710.6 188.8h4v4h-4zM722.6 188.8h4v4h-4zM726.6 188.8h4v4h-4zM734.6 188.8h4v4h-4zM726.6 192.8h4v4h-4zM802.6 204.8h4v4h-4z"/>
<path fill="#4d4d4d" d="M690.6 92.8h4v4h-4zM690.6 152.8h4v4h-4zM782.6 172.8h4v4h-4zM766.6 176.8h4v4h-4zM730.6 188.8h4v4h-4zM722.6 200.8h4v4h-4zM718.6 208.8h4v4h-4z"/>
<path fill="#4e4e4e" d="M686.6 152.8h4v4h-4zM694.6 152.8h4v4h-4zM754.6 180.8h4v4h-4zM726.6 184.8h4v4h-4zM714.6 216.8h4v4h-4zM714.6 220.8h4v4h-4zM718.6 224.8h4v4h-4z"/>
<path fill="#4f4f4f" d="M690.6 88.8h4v4h-4zM686.6 92.8h4v4h-4zM690.6 96.8h4v4h-4zM682.6 152.8h4v4h-4zM698.6 152.8h4v4h-4zM710.6 156.8h4v4h-4zM778.6 172.8h4v4h-4zM742.6 184.8h4v4h-4zM722.6 192.8h4v4h-4zM714.6 224.8h4v4h-4z"/>
<path fill="#505050" d="M686.6 88.8h4v4h-4zM694.6 92.8h4v4h-4zM686.6 96.8h4v4h-4zM722.6 164.8h4v4h-4zM774.6 172.8h4v4h-4zM762.6 176.8h4v4h-4zM726.6 180.8h4v4h-4zM730.6 184.8h4v4h-4zM722.6 196.8h4v4h-4z"/>
<path fill="#515151" d="M694.6 88.8h4v4h-4zM702.6 152.8h4v4h-4zM718.6 160.8h4v4h-4zM750.6 180.8h4v4h-4zM734.6 184.8h4v4h-4zM738.6 184.8h4v4h-4zM682.6 192.8h4v4h-4zM714.6 212.8h4v4h-4zM710.6 224.8h4v4h-4z"/>
<path fill="#525252" d="M690.6 84.8h4v4h-4zM694.6 96.8h4v4h-4zM718.6 204.8h4v4h-4zM710.6 220.8h4v4h-4z"/>
<path fill="#535353" d="M686.6 84.8h4v4h-4zM682.6 148.8h4v4h-4zM686.6 148.8h4v4h-4zM690.6 148.8h4v4h-4zM726.6 168.8h4v4h-4zM726.6 172.8h4v4h-4zM770.6 172.8h4v4h-4zM726.6 176.8h4v4h-4zM746.6 180.8h4v4h-4zM718.6 192.8h4v4h-4zM706.6 224.8h4v4h-4z"/>
<path fill="#545454" d="M694.6 84.8h4v4h-4zM682.6 88.8h4v4h-4zM682.6 92.8h4v4h-4zM682.6 96.8h4v4h-4zM686.6 100.8h4v4h-4zM690.6 100.8h4v4h-4zM694.6 148.8h4v4h-4zM758.6 176.8h4v4h-4zM730.6 180.8h4v4h-4zM742.6 180.8h4v4h-4zM710.6 216.8h4v4h-4z"/>
<path fill="#555555" d="M682.6 84.8h4v4h-4zM682.6 144.8h4v4h-4zM706.6 152.8h4v4h-4zM714.6 156.8h4v4h-4zM778.6 168.8h4v4h-4zM734.6 180.8h4v4h-4zM738.6 180.8h4v4h-4zM686.6 192.8h4v4h-4zM706.6 220.8h4v4h-4zM702.6 224.8h4v4h-4z"/>
<path fill="#565656" d="M698.6 88.8h4v4h-4zM698.6 92.8h4v4h-4zM682.6 100.8h4v4h-4zM694.6 100.8h4v4h-4zM686.6 144.8h4v4h-4zM698.6 148.8h4v4h-4zM730.6 168.8h4v4h-4zM730.6 172.8h4v4h-4zM766.6 172.8h4v4h-4zM730.6 176.8h4v4h-4zM754.6 176.8h4v4h-4zM698.6 224.8h4v4h-4z"/>
<path fill="#575757" d="M682.6 140.8h4v4h-4zM690.6 144.8h4v4h-4zM726.6 164.8h4v4h-4zM774.6 168.8h4v4h-4zM734.6 172.8h4v4h-4zM734.6 176.8h4v4h-4zM738.6 176.8h4v4h-4zM742.6 176.8h4v4h-4zM718.6 200.8h4v4h-4zM714.6 208.8h4v4h-4zM682.6 224.8h4v4h-4zM686.6 224.8h4v4h-4zM690.6 224.8h4v4h-4zM694.6 224.8h4v4h-4z"/>
<path fill="#585858" d="M698.6 96.8h4v4h-4zM682.6 104.8h4v4h-4zM686.6 104.8h4v4h-4zM690.6 104.8h4v4h-4zM682.6 136.8h4v4h-4zM686.6 140.8h4v4h-4zM738.6 172.8h4v4h-4zM746.6 176.8h4v4h-4zM750.6 176.8h4v4h-4zM714.6 192.8h4v4h-4zM718.6 196.8h4v4h-4zM702.6 220.8h4v4h-4z"/>
<path fill="#595959" d="M702.6 92.8h4v4h-4zM682.6 108.8h4v4h-4zM682.6 128.8h4v4h-4zM682.6 132.8h4v4h-4zM686.6 136.8h4v4h-4zM690.6 140.8h4v4h-4zM694.6 144.8h4v4h-4zM702.6 148.8h4v4h-4zM722.6 160.8h4v4h-4zM734.6 168.8h4v4h-4zM762.6 172.8h4v4h-4zM690.6 192.8h4v4h-4zM682.6 220.8h4v4h-4z"/>
<path fill="#5a5a5a" d="M686.6 108.8h4v4h-4zM682.6 112.8h4v4h-4zM682.6 116.8h4v4h-4zM682.6 120.8h4v4h-4zM682.6 124.8h4v4h-4zM686.6 132.8h4v4h-4zM710.6 152.8h4v4h-4zM770.6 168.8h4v4h-4zM742.6 172.8h4v4h-4zM710.6 212.8h4v4h-4zM706.6 216.8h4v4h-4zM686.6 220.8h4v4h-4zM698.6 220.8h4v4h-4z"/>
<path fill="#5b5b5b" d="M702.6 96.8h4v4h-4zM698.6 100.8h4v4h-4zM694.6 104.8h4v4h-4zM690.6 108.8h4v4h-4zM686.6 112.8h4v4h-4zM686.6 116.8h4v4h-4zM686.6 124.8h4v4h-4zM686.6 128.8h4v4h-4zM690.6 136.8h4v4h-4zM698.6 144.8h4v4h-4zM774.6 164.8h4v4h-4zM690.6 220.8h4v4h-4zM694.6 220.8h4v4h-4z"/>
<path fill="#5c5c5c" d="M686.6 120.8h4v4h-4zM694.6 140.8h4v4h-4zM718.6 156.8h4v4h-4zM730.6 164.8h4v4h-4zM738.6 168.8h4v4h-4zM758.6 172.8h4v4h-4zM682.6 196.8h4v4h-4z"/>
<path fill="#5d5d5d" d="M706.6 96.8h4v4h-4zM690.6 112.8h4v4h-4zM690.6 128.8h4v4h-4zM690.6 132.8h4v4h-4zM766.6 168.8h4v4h-4zM746.6 172.8h4v4h-4zM710.6 192.8h4v4h-4zM682.6 216.8h4v4h-4z"/>
<path fill="#5e5e5e" d="M702.6 100.8h4v4h-4zM698.6 104.8h4v4h-4zM694.6 108.8h4v4h-4zM690.6 116.8h4v4h-4zM690.6 120.8h4v4h-4zM690.6 124.8h4v4h-4zM694.6 136.8h4v4h-4zM706.6 148.8h4v4h-4zM770.6 164.8h4v4h-4zM750.6 172.8h4v4h-4zM754.6 172.8h4v4h-4zM694.6 192.8h4v4h-4zM714.6 204.8h4v4h-4z"/>
<path fill="#5f5f5f" d="M706.6 100.8h4v4h-4zM698.6 140.8h4v4h-4zM702.6 144.8h4v4h-4zM742.6 168.8h4v4h-4zM686.6 216.8h4v4h-4zM702.6 216.8h4v4h-4z"/>
<path fill="#606060" d="M710.6 100.8h4v4h-4zM694.6 112.8h4v4h-4zM694.6 132.8h4v4h-4zM726.6 160.8h4v4h-4zM734.6 164.8h4v4h-4zM706.6 192.8h4v4h-4z"/>
<path fill="#616161" d="M702.6 104.8h4v4h-4zM698.6 108.8h4v4h-4zM694.6 116.8h4v4h-4zM694.6 120.8h4v4h-4zM694.6 124.8h4v4h-4zM694.6 128.8h4v4h-4zM714.6 152.8h4v4h-4zM770.6 160.8h4v4h-4zM762.6 168.8h4v4h-4zM698.6 192.8h4v4h-4zM714.6 196.8h4v4h-4z"/>
<path fill="#626262" d="M706.6 104.8h4v4h-4zM698.6 136.8h4v4h-4zM766.6 164.8h4v4h-4zM702.6 192.8h4v4h-4zM686.6 196.8h4v4h-4zM710.6 208.8h4v4h-4zM682.6 212.8h4v4h-4zM690.6 216.8h4v4h-4zM698.6 216.8h4v4h-4z"/>
<path fill="#636363" d="M702.6 108.8h4v4h-4zM698.6 112.8h4v4h-4zM746.6 168.8h4v4h-4zM714.6 200.8h4v4h-4zM706.6 212.8h4v4h-4zM694.6 216.8h4v4h-4z"/>
<path fill="#646464" d="M710.6 104.8h4v4h-4zM714.6 104.8h4v4h-4zM698.6 116.8h4v4h-4zM698.6 132.8h4v4h-4zM702.6 140.8h4v4h-4zM710.6 148.8h4v4h-4zM722.6 156.8h4v4h-4zM758.6 168.8h4v4h-4zM682.6 200.8h4v4h-4z"/>
<path fill="#656565" d="M698.6 120.8h4v4h-4zM698.6 128.8h4v4h-4zM706.6 144.8h4v4h-4zM766.6 160.8h4v4h-4zM738.6 164.8h4v4h-4z"/>
<path fill="#666666" d="M706.6 108.8h4v4h-4zM702.6 112.8h4v4h-4zM698.6 124.8h4v4h-4zM730.6 160.8h4v4h-4zM762.6 164.8h4v4h-4zM750.6 168.8h4v4h-4zM754.6 168.8h4v4h-4zM682.6 208.8h4v4h-4zM686.6 212.8h4v4h-4z"/>
<path fill="#676767" d="M702.6 136.8h4v4h-4zM766.6 156.8h4v4h-4zM682.6 204.8h4v4h-4z"/>
<path fill="#686868" d="M710.6 108.8h4v4h-4zM702.6 116.8h4v4h-4zM718.6 152.8h4v4h-4z"/>
<path fill="#696969" d="M714.6 108.8h4v4h-4zM706.6 112.8h4v4h-4zM742.6 164.8h4v4h-4zM690.6 196.8h4v4h-4zM702.6 212.8h4v4h-4z"/>
<path fill="#6a6a6a" d="M718.6 108.8h4v4h-4zM702.6 120.8h4v4h-4zM702.6 132.8h4v4h-4zM706.6 140.8h4v4h-4zM762.6 160.8h4v4h-4zM758.6 164.8h4v4h-4zM710.6 196.8h4v4h-4zM690.6 212.8h4v4h-4z"/>
<path fill="#6b6b6b" d="M702.6 124.8h4v4h-4zM702.6 128.8h4v4h-4zM710.6 144.8h4v4h-4zM714.6 148.8h4v4h-4zM686.6 200.8h4v4h-4zM710.6 204.8h4v4h-4z"/>
<path fill="#6c6c6c" d="M710.6 112.8h4v4h-4zM706.6 116.8h4v4h-4zM726.6 156.8h4v4h-4zM734.6 160.8h4v4h-4zM686.6 208.8h4v4h-4z"/>
<path fill="#6d6d6d" d="M762.6 152.8h4v4h-4zM762.6 156.8h4v4h-4zM746.6 164.8h4v4h-4zM754.6 164.8h4v4h-4zM706.6 208.8h4v4h-4zM694.6 212.8h4v4h-4zM698.6 212.8h4v4h-4z"/>
<path fill="#6e6e6e" d="M714.6 112.8h4v4h-4zM706.6 136.8h4v4h-4zM750.6 164.8h4v4h-4zM710.6 200.8h4v4h-4z"/>
<path fill="#6f6f6f" d="M718.6 112.8h4v4h-4zM722.6 112.8h4v4h-4zM706.6 120.8h4v4h-4zM758.6 160.8h4v4h-4zM686.6 204.8h4v4h-4z"/>
<path fill="#707070" d="M710.6 116.8h4v4h-4zM706.6 132.8h4v4h-4zM722.6 152.8h4v4h-4zM694.6 196.8h4v4h-4z"/>
<path fill="#717171" d="M706.6 124.8h4v4h-4zM706.6 128.8h4v4h-4zM710.6 140.8h4v4h-4zM738.6 160.8h4v4h-4zM706.6 196.8h4v4h-4z"/>
<path fill="#727272" d="M758.6 156.8h4v4h-4z"/>
<path fill="#737373" d="M714.6 116.8h4v4h-4zM714.6 144.8h4v4h-4zM718.6 148.8h4v4h-4zM730.6 156.8h4v4h-4zM754.6 160.8h4v4h-4zM690.6 208.8h4v4h-4z"/>
<path fill="#747474" d="M710.6 120.8h4v4h-4zM758.6 148.8h4v4h-4zM758.6 152.8h4v4h-4zM698.6 196.8h4v4h-4zM702.6 196.8h4v4h-4zM690.6 200.8h4v4h-4z"/>
<path fill="#757575" d="M710.6 136.8h4v4h-4zM742.6 160.8h4v4h-4zM702.6 208.8h4v4h-4z"/>
<path fill="#767676" d="M718.6 116.8h4v4h-4zM722.6 116.8h4v4h-4zM726.6 116.8h4v4h-4zM746.6 160.8h4v4h-4zM750.6 160.8h4v4h-4zM706.6 204.8h4v4h-4z"/>
<path fill="#777777" d="M710.6 124.8h4v4h-4zM710.6 132.8h4v4h-4zM690.6 204.8h4v4h-4zM694.6 208.8h4v4h-4z"/>
<path fill="#787878" d="M714.6 120.8h4v4h-4zM710.6 128.8h4v4h-4zM726.6 152.8h4v4h-4zM754.6 156.8h4v4h-4zM706.6 200.8h4v4h-4zM698.6 208.8h4v4h-4z"/>
<path fill="#797979" d="M714.6 140.8h4v4h-4zM734.6 156.8h4v4h-4z"/>
<path fill="#7a7a7a" d="M754.6 144.8h4v4h-4z"/>
<path fill="#7b7b7b" d="M718.6 120.8h4v4h-4zM730.6 120.8h4v4h-4zM718.6 144.8h4v4h-4zM722.6 148.8h4v4h-4zM754.6 148.8h4v4h-4zM754.6 152.8h4v4h-4zM694.6 200.8h4v4h-4z"/>
<path fill="#7c7c7c" d="M714.6 124.8h4v4h-4zM750.6 156.8h4v4h-4z"/>
<path fill="#7d7d7d" d="M722.6 120.8h4v4h-4zM726.6 120.8h4v4h-4zM714.6 136.8h4v4h-4zM738.6 156.8h4v4h-4zM694.6 204.8h4v4h-4zM702.6 204.8h4v4h-4z"/>
<path fill="#7e7e7e" d="M714.6 128.8h4v4h-4zM702.6 200.8h4v4h-4z"/>
<path fill="#7f7f7f" d="M714.6 132.8h4v4h-4zM750.6 140.8h4v4h-4zM730.6 152.8h4v4h-4zM742.6 156.8h4v4h-4zM746.6 156.8h4v4h-4zM698.6 200.8h4v4h-4z"/>
<path fill="#808080" d="M734.6 124.8h4v4h-4zM750.6 152.8h4v4h-4zM698.6 204.8h4v4h-4z"/>
<path fill="#818181" d="M718.6 124.8h4v4h-4zM718.6 140.8h4v4h-4z"/>
<path fill="#828282" d="M746.6 136.8h4v4h-4zM750.6 144.8h4v4h-4zM726.6 148.8h4v4h-4zM750.6 148.8h4v4h-4z"/>
<path fill="#838383" d="M722.6 124.8h4v4h-4zM730.6 124.8h4v4h-4zM738.6 128.8h4v4h-4zM722.6 144.8h4v4h-4z"/>
<path fill="#848484" d="M726.6 124.8h4v4h-4zM718.6 128.8h4v4h-4zM742.6 132.8h4v4h-4zM734.6 152.8h4v4h-4z"/>
<path fill="#858585" d="M718.6 136.8h4v4h-4zM746.6 152.8h4v4h-4z"/>
<path fill="#868686" d="M718.6 132.8h4v4h-4zM746.6 140.8h4v4h-4z"/>
<path fill="#878787" d="M738.6 152.8h4v4h-4zM742.6 152.8h4v4h-4z"/>
<path fill="#888888" d="M722.6 128.8h4v4h-4zM734.6 128.8h4v4h-4zM746.6 144.8h4v4h-4zM730.6 148.8h4v4h-4zM746.6 148.8h4v4h-4z"/>
<path fill="#898989" d="M742.6 136.8h4v4h-4zM722.6 140.8h4v4h-4z"/>
<path fill="#8a8a8a" d="M726.6 128.8h4v4h-4zM730.6 128.8h4v4h-4zM738.6 132.8h4v4h-4zM726.6 144.8h4v4h-4z"/>
<path fill="#8b8b8b" d="M722.6 132.8h4v4h-4zM722.6 136.8h4v4h-4z"/>
<path fill="#8c8c8c" d="M734.6 148.8h4v4h-4zM742.6 148.8h4v4h-4z"/>
<path fill="#8d8d8d" d="M742.6 140.8h4v4h-4zM738.6 148.8h4v4h-4z"/>
<path fill="#8e8e8e" d="M726.6 132.8h4v4h-4zM734.6 132.8h4v4h-4zM742.6 144.8h4v4h-4z"/>
<path fill="#8f8f8f" d="M730.6 132.8h4v4h-4zM738.6 136.8h4v4h-4zM726.6 140.8h4v4h-4zM730.6 144.8h4v4h-4z"/>
<path fill="#909090" d="M726.6 136.8h4v4h-4z"/>
<path fill="#919191" d="M738.6 140.8h4v4h-4zM734.6 144.8h4v4h-4zM738.6 144.8h4v4h-4z"/>
<path fill="#929292" d="M730.6 136.8h4v4h-4zM734.6 136.8h4v4h-4zM730.6 140.8h4v4h-4z"/>
<path fill="#939393" d="M734.6 140.8h4v4h-4z"/>
</g></g>
<path d="M690.60,92.80 L799.20,200.80 A325,325 0 0 1 690.60,219.40 Z" fill="none" stroke="#000" stroke-width="0.9" shape-rendering="geometricPrecision"/>
<g clip-path="url(#cbZ)"><g filter="url(#fm)">
<path fill="#0b0b0b" d="M883 140.8h4v4h-4zM883 144.8h4v4h-4zM887 144.8h4v4h-4z"/>
<path fill="#0c0c0c" d="M879 140.8h4v4h-4z"/>
<path fill="#0d0d0d" d="M879 136.8h4v4h-4zM887 148.8h4v4h-4z"/>
<path fill="#0e0e0e" d="M887 140.8h4v4h-4zM879 144.8h4v4h-4z"/>
<path fill="#0f0f0f" d="M883 136.8h4v4h-4zM883 148.8h4v4h-4zM891 148.8h4v4h-4z"/>
<path fill="#101010" d="M875 136.8h4v4h-4zM875 140.8h4v4h-4zM891 144.8h4v4h-4z"/>
<path fill="#111111" d="M891 152.8h4v4h-4z"/>
<path fill="#121212" d="M887 152.8h4v4h-4z"/>
<path fill="#131313" d="M875 132.8h4v4h-4zM879 132.8h4v4h-4z"/>
<path fill="#141414" d="M887 136.8h4v4h-4zM891 140.8h4v4h-4zM879 148.8h4v4h-4zM895 148.8h4v4h-4zM895 152.8h4v4h-4z"/>
<path fill="#151515" d="M875 144.8h4v4h-4z"/>
<path fill="#161616" d="M883 132.8h4v4h-4zM871 136.8h4v4h-4zM883 152.8h4v4h-4zM939 196.8h4v4h-4zM943 196.8h4v4h-4z"/>
<path fill="#171717" d="M871 132.8h4v4h-4zM895 144.8h4v4h-4z"/>
<path fill="#181818" d="M871 140.8h4v4h-4zM891 156.8h4v4h-4zM895 156.8h4v4h-4z"/>
<path fill="#1a1a1a" d="M875 128.8h4v4h-4zM899 152.8h4v4h-4zM887 156.8h4v4h-4zM939 192.8h4v4h-4z"/>
<path fill="#1b1b1b" d="M879 128.8h4v4h-4zM891 136.8h4v4h-4zM927 184.8h4v4h-4zM931 184.8h4v4h-4zM927 188.8h4v4h-4zM943 192.8h4v4h-4z"/>
<path fill="#1c1c1c" d="M887 132.8h4v4h-4zM875 148.8h4v4h-4zM899 148.8h4v4h-4zM899 156.8h4v4h-4zM923 188.8h4v4h-4zM939 200.8h4v4h-4z"/>
<path fill="#1d1d1d" d="M871 128.8h4v4h-4zM895 140.8h4v4h-4zM879 152.8h4v4h-4zM931 180.8h4v4h-4zM943 200.8h4v4h-4z"/>
<path fill="#1e1e1e" d="M871 144.8h4v4h-4zM931 188.8h4v4h-4zM923 192.8h4v4h-4z"/>
<path fill="#1f1f1f" d="M883 128.8h4v4h-4zM867 132.8h4v4h-4zM867 136.8h4v4h-4zM895 160.8h4v4h-4zM935 192.8h4v4h-4zM935 196.8h4v4h-4z"/>
<path fill="#202020" d="M899 144.8h4v4h-4zM883 156.8h4v4h-4zM935 180.8h4v4h-4zM935 184.8h4v4h-4zM927 192.8h4v4h-4z"/>
<path fill="#212121" d="M891 160.8h4v4h-4zM927 180.8h4v4h-4zM923 184.8h4v4h-4zM935 188.8h4v4h-4zM919 192.8h4v4h-4z"/>
<path fill="#222222" d="M867 140.8h4v4h-4zM899 160.8h4v4h-4zM939 188.8h4v4h-4zM931 192.8h4v4h-4zM947 196.8h4v4h-4z"/>
<path fill="#232323" d="M867 128.8h4v4h-4zM903 152.8h4v4h-4zM903 156.8h4v4h-4z"/>
<path fill="#242424" d="M875 124.8h4v4h-4zM891 132.8h4v4h-4z"/>
<path fill="#252525" d="M895 136.8h4v4h-4zM903 148.8h4v4h-4zM875 152.8h4v4h-4zM887 160.8h4v4h-4zM931 176.8h4v4h-4zM935 176.8h4v4h-4zM919 188.8h4v4h-4zM935 200.8h4v4h-4z"/>
<path fill="#262626" d="M871 124.8h4v4h-4zM879 124.8h4v4h-4zM887 128.8h4v4h-4zM871 148.8h4v4h-4zM939 184.8h4v4h-4zM943 188.8h4v4h-4zM919 196.8h4v4h-4z"/>
<path fill="#272727" d="M899 140.8h4v4h-4zM879 156.8h4v4h-4zM903 160.8h4v4h-4zM939 180.8h4v4h-4zM947 192.8h4v4h-4zM923 196.8h4v4h-4zM931 196.8h4v4h-4z"/>
<path fill="#282828" d="M947 200.8h4v4h-4z"/>
<path fill="#292929" d="M863 132.8h4v4h-4zM867 144.8h4v4h-4zM927 196.8h4v4h-4z"/>
<path fill="#2a2a2a" d="M883 124.8h4v4h-4zM863 136.8h4v4h-4zM903 144.8h4v4h-4zM895 164.8h4v4h-4zM923 180.8h4v4h-4zM915 196.8h4v4h-4z"/>
<path fill="#2b2b2b" d="M867 124.8h4v4h-4zM907 156.8h4v4h-4zM883 160.8h4v4h-4zM899 164.8h4v4h-4zM927 176.8h4v4h-4z"/>
<path fill="#2c2c2c" d="M863 128.8h4v4h-4zM907 152.8h4v4h-4zM891 164.8h4v4h-4zM915 192.8h4v4h-4zM939 204.8h4v4h-4z"/>
<path fill="#2d2d2d" d="M919 184.8h4v4h-4zM943 204.8h4v4h-4z"/>
<path fill="#2e2e2e" d="M863 140.8h4v4h-4zM907 160.8h4v4h-4zM943 184.8h4v4h-4z"/>
<path fill="#2f2f2f" d="M875 120.8h4v4h-4zM907 148.8h4v4h-4zM871 152.8h4v4h-4zM903 164.8h4v4h-4zM931 200.8h4v4h-4z"/>
<path fill="#303030" d="M875 156.8h4v4h-4zM887 164.8h4v4h-4zM931 172.8h4v4h-4zM947 188.8h4v4h-4zM915 200.8h4v4h-4zM919 200.8h4v4h-4z"/>
<path fill="#313131" d="M871 120.8h4v4h-4zM879 120.8h4v4h-4zM867 148.8h4v4h-4z"/>
<path fill="#323232" d="M879 160.8h4v4h-4zM923 200.8h4v4h-4z"/>
<path fill="#333333" d="M927 200.8h4v4h-4zM935 204.8h4v4h-4z"/>
<path fill="#343434" d="M863 124.8h4v4h-4zM859 132.8h4v4h-4zM911 156.8h4v4h-4zM907 164.8h4v4h-4zM915 188.8h4v4h-4z"/>
<path fill="#353535" d="M863 144.8h4v4h-4zM911 152.8h4v4h-4zM883 164.8h4v4h-4zM923 176.8h4v4h-4zM951 196.8h4v4h-4zM911 200.8h4v4h-4zM947 204.8h4v4h-4z"/>
<path fill="#363636" d="M867 120.8h4v4h-4zM859 136.8h4v4h-4zM911 160.8h4v4h-4zM927 172.8h4v4h-4zM911 196.8h4v4h-4z"/>
<path fill="#373737" d="M859 128.8h4v4h-4zM891 168.8h4v4h-4zM895 168.8h4v4h-4zM951 192.8h4v4h-4z"/>
<path fill="#383838" d="M871 156.8h4v4h-4zM875 160.8h4v4h-4zM899 168.8h4v4h-4zM919 180.8h4v4h-4z"/>
<path fill="#393939" d="M867 152.8h4v4h-4zM879 164.8h4v4h-4zM887 168.8h4v4h-4zM951 200.8h4v4h-4z"/>
<path fill="#3a3a3a" d="M875 172.8h4v4h-4zM915 204.8h4v4h-4z"/>
<path fill="#3b3b3b" d="M859 140.8h4v4h-4zM911 164.8h4v4h-4zM879 168.8h4v4h-4zM883 168.8h4v4h-4zM903 168.8h4v4h-4zM879 172.8h4v4h-4zM911 204.8h4v4h-4zM931 204.8h4v4h-4z"/>
<path fill="#3c3c3c" d="M875 116.8h4v4h-4zM875 164.8h4v4h-4zM875 168.8h4v4h-4zM875 176.8h4v4h-4zM919 204.8h4v4h-4z"/>
<path fill="#3d3d3d" d="M863 148.8h4v4h-4zM915 156.8h4v4h-4zM915 160.8h4v4h-4zM871 172.8h4v4h-4zM883 172.8h4v4h-4zM923 172.8h4v4h-4zM879 176.8h4v4h-4zM911 192.8h4v4h-4z"/>
<path fill="#3e3e3e" d="M871 116.8h4v4h-4zM871 160.8h4v4h-4zM871 168.8h4v4h-4zM915 184.8h4v4h-4zM939 208.8h4v4h-4z"/>
<path fill="#3f3f3f" d="M863 120.8h4v4h-4zM859 124.8h4v4h-4zM907 168.8h4v4h-4zM927 168.8h4v4h-4zM923 204.8h4v4h-4zM927 204.8h4v4h-4zM943 208.8h4v4h-4z"/>
<path fill="#404040" d="M855 132.8h4v4h-4zM871 164.8h4v4h-4zM915 164.8h4v4h-4zM887 172.8h4v4h-4zM871 176.8h4v4h-4zM919 176.8h4v4h-4zM907 204.8h4v4h-4z"/>
<path fill="#414141" d="M867 156.8h4v4h-4zM907 200.8h4v4h-4zM951 204.8h4v4h-4zM843 208.8h4v4h-4zM847 208.8h4v4h-4z"/>
<path fill="#424242" d="M855 136.8h4v4h-4zM859 144.8h4v4h-4zM883 176.8h4v4h-4zM935 208.8h4v4h-4z"/>
<path fill="#434343" d="M855 128.8h4v4h-4zM919 160.8h4v4h-4zM911 168.8h4v4h-4zM923 168.8h4v4h-4zM891 172.8h4v4h-4zM839 208.8h4v4h-4zM851 208.8h4v4h-4zM911 208.8h4v4h-4zM843 212.8h4v4h-4zM847 212.8h4v4h-4z"/>
<path fill="#444444" d="M867 116.8h4v4h-4zM919 164.8h4v4h-4zM919 172.8h4v4h-4zM875 180.8h4v4h-4zM907 208.8h4v4h-4zM915 208.8h4v4h-4z"/>
<path fill="#454545" d="M863 152.8h4v4h-4zM867 160.8h4v4h-4zM867 168.8h4v4h-4zM915 168.8h4v4h-4zM919 168.8h4v4h-4zM867 172.8h4v4h-4zM895 172.8h4v4h-4zM847 204.8h4v4h-4zM839 212.8h4v4h-4z"/>
<path fill="#464646" d="M867 164.8h4v4h-4zM923 164.8h4v4h-4zM879 180.8h4v4h-4zM843 204.8h4v4h-4zM851 204.8h4v4h-4zM835 208.8h4v4h-4zM851 212.8h4v4h-4z"/>
<path fill="#474747" d="M871 180.8h4v4h-4zM915 180.8h4v4h-4zM855 208.8h4v4h-4zM919 208.8h4v4h-4zM931 208.8h4v4h-4zM835 212.8h4v4h-4z"/>
<path fill="#484848" d="M899 172.8h4v4h-4zM867 176.8h4v4h-4zM887 176.8h4v4h-4zM911 188.8h4v4h-4zM907 196.8h4v4h-4zM839 204.8h4v4h-4z"/>
<path fill="#494949" d="M855 140.8h4v4h-4zM915 172.8h4v4h-4zM903 208.8h4v4h-4zM923 208.8h4v4h-4zM927 208.8h4v4h-4zM843 216.8h4v4h-4z"/>
<path fill="#4a4a4a" d="M903 172.8h4v4h-4zM915 176.8h4v4h-4zM835 204.8h4v4h-4zM855 204.8h4v4h-4zM903 204.8h4v4h-4zM831 208.8h4v4h-4zM907 212.8h4v4h-4zM839 216.8h4v4h-4zM847 216.8h4v4h-4z"/>
<path fill="#4b4b4b" d="M859 120.8h4v4h-4zM859 148.8h4v4h-4zM863 156.8h4v4h-4zM911 172.8h4v4h-4zM831 212.8h4v4h-4zM855 212.8h4v4h-4zM911 212.8h4v4h-4z"/>
<path fill="#4c4c4c" d="M871 112.8h4v4h-4zM855 124.8h4v4h-4zM851 132.8h4v4h-4zM907 172.8h4v4h-4zM883 180.8h4v4h-4zM903 212.8h4v4h-4zM915 212.8h4v4h-4zM835 216.8h4v4h-4z"/>
<path fill="#4d4d4d" d="M867 180.8h4v4h-4zM831 204.8h4v4h-4zM851 216.8h4v4h-4z"/>
<path fill="#4e4e4e" d="M863 116.8h4v4h-4zM847 200.8h4v4h-4zM851 200.8h4v4h-4zM919 212.8h4v4h-4zM831 216.8h4v4h-4z"/>
<path fill="#4f4f4f" d="M851 128.8h4v4h-4zM851 136.8h4v4h-4zM863 160.8h4v4h-4zM891 176.8h4v4h-4zM843 200.8h4v4h-4zM855 200.8h4v4h-4zM859 208.8h4v4h-4zM931 212.8h4v4h-4zM907 216.8h4v4h-4z"/>
<path fill="#505050" d="M863 164.8h4v4h-4zM871 184.8h4v4h-4zM875 184.8h4v4h-4zM859 204.8h4v4h-4zM899 212.8h4v4h-4zM923 212.8h4v4h-4zM927 212.8h4v4h-4zM903 216.8h4v4h-4zM911 216.8h4v4h-4zM839 220.8h4v4h-4z"/>
<path fill="#515151" d="M863 168.8h4v4h-4zM863 172.8h4v4h-4zM911 184.8h4v4h-4zM839 200.8h4v4h-4zM903 200.8h4v4h-4zM899 208.8h4v4h-4zM899 216.8h4v4h-4zM835 220.8h4v4h-4zM843 220.8h4v4h-4z"/>
<path fill="#525252" d="M855 144.8h4v4h-4zM911 176.8h4v4h-4zM855 216.8h4v4h-4zM915 216.8h4v4h-4zM831 220.8h4v4h-4zM847 220.8h4v4h-4z"/>
<path fill="#535353" d="M867 112.8h4v4h-4zM859 152.8h4v4h-4zM863 176.8h4v4h-4zM867 184.8h4v4h-4zM907 192.8h4v4h-4zM835 200.8h4v4h-4zM859 200.8h4v4h-4zM859 212.8h4v4h-4z"/>
<path fill="#545454" d="M831 200.8h4v4h-4zM895 216.8h4v4h-4zM895 220.8h4v4h-4z"/>
<path fill="#555555" d="M895 176.8h4v4h-4zM911 180.8h4v4h-4zM879 184.8h4v4h-4zM851 220.8h4v4h-4zM831 224.8h4v4h-4zM835 224.8h4v4h-4zM839 224.8h4v4h-4z"/>
<path fill="#565656" d="M847 132.8h4v4h-4zM863 180.8h4v4h-4zM887 180.8h4v4h-4zM855 196.8h4v4h-4zM895 212.8h4v4h-4zM891 220.8h4v4h-4zM843 224.8h4v4h-4z"/>
<path fill="#575757" d="M851 140.8h4v4h-4zM851 196.8h4v4h-4zM859 196.8h4v4h-4z"/>
<path fill="#585858" d="M851 124.8h4v4h-4zM907 176.8h4v4h-4zM863 184.8h4v4h-4zM867 188.8h4v4h-4zM899 204.8h4v4h-4zM891 216.8h4v4h-4zM847 224.8h4v4h-4z"/>
<path fill="#595959" d="M855 120.8h4v4h-4zM859 156.8h4v4h-4zM899 176.8h4v4h-4zM863 188.8h4v4h-4zM847 196.8h4v4h-4zM887 220.8h4v4h-4z"/>
<path fill="#5a5a5a" d="M847 128.8h4v4h-4zM847 136.8h4v4h-4zM903 176.8h4v4h-4zM871 188.8h4v4h-4zM859 192.8h4v4h-4zM863 192.8h4v4h-4zM863 196.8h4v4h-4zM863 200.8h4v4h-4zM863 204.8h4v4h-4zM863 208.8h4v4h-4zM859 216.8h4v4h-4zM855 220.8h4v4h-4z"/>
<path fill="#5b5b5b" d="M851 224.8h4v4h-4z"/>
<path fill="#5c5c5c" d="M859 116.8h4v4h-4zM855 148.8h4v4h-4zM859 188.8h4v4h-4zM855 192.8h4v4h-4zM843 196.8h4v4h-4zM903 196.8h4v4h-4zM895 208.8h4v4h-4z"/>
<path fill="#5d5d5d" d="M859 160.8h4v4h-4zM883 184.8h4v4h-4zM907 188.8h4v4h-4zM867 192.8h4v4h-4zM831 196.8h4v4h-4zM883 220.8h4v4h-4z"/>
<path fill="#5e5e5e" d="M843 132.8h4v4h-4zM875 188.8h4v4h-4zM835 196.8h4v4h-4zM839 196.8h4v4h-4zM863 212.8h4v4h-4zM891 212.8h4v4h-4zM887 216.8h4v4h-4zM855 224.8h4v4h-4z"/>
<path fill="#5f5f5f" d="M863 112.8h4v4h-4zM891 180.8h4v4h-4zM859 184.8h4v4h-4zM859 220.8h4v4h-4z"/>
<path fill="#606060" d="M859 164.8h4v4h-4zM859 180.8h4v4h-4zM907 180.8h4v4h-4zM851 192.8h4v4h-4z"/>
<path fill="#616161" d="M859 168.8h4v4h-4zM859 176.8h4v4h-4zM867 196.8h4v4h-4zM879 220.8h4v4h-4zM859 224.8h4v4h-4z"/>
<path fill="#626262" d="M867 108.8h4v4h-4zM843 128.8h4v4h-4zM843 136.8h4v4h-4zM859 172.8h4v4h-4zM907 184.8h4v4h-4zM855 188.8h4v4h-4zM863 216.8h4v4h-4zM863 224.8h4v4h-4zM867 224.8h4v4h-4z"/>
<path fill="#636363" d="M847 124.8h4v4h-4zM839 132.8h4v4h-4zM851 144.8h4v4h-4zM871 192.8h4v4h-4zM899 200.8h4v4h-4z"/>
<path fill="#646464" d="M847 140.8h4v4h-4zM867 200.8h4v4h-4zM883 216.8h4v4h-4zM863 220.8h4v4h-4z"/>
<path fill="#656565" d="M831 132.8h4v4h-4zM835 132.8h4v4h-4zM855 152.8h4v4h-4zM847 192.8h4v4h-4zM875 220.8h4v4h-4z"/>
<path fill="#666666" d="M831 136.8h4v4h-4zM895 180.8h4v4h-4zM879 188.8h4v4h-4zM867 204.8h4v4h-4z"/>
<path fill="#676767" d="M851 120.8h4v4h-4zM839 128.8h4v4h-4zM839 136.8h4v4h-4zM903 180.8h4v4h-4zM895 204.8h4v4h-4zM887 212.8h4v4h-4zM867 220.8h4v4h-4zM871 220.8h4v4h-4z"/>
<path fill="#686868" d="M835 136.8h4v4h-4zM855 184.8h4v4h-4zM887 184.8h4v4h-4zM903 192.8h4v4h-4zM867 208.8h4v4h-4zM891 208.8h4v4h-4z"/>
<path fill="#696969" d="M899 180.8h4v4h-4zM831 192.8h4v4h-4zM867 212.8h4v4h-4z"/>
<path fill="#6a6a6a" d="M835 128.8h4v4h-4zM851 188.8h4v4h-4zM843 192.8h4v4h-4zM867 216.8h4v4h-4zM879 216.8h4v4h-4z"/>
<path fill="#6b6b6b" d="M855 116.8h4v4h-4zM831 128.8h4v4h-4zM875 192.8h4v4h-4zM871 196.8h4v4h-4z"/>
<path fill="#6c6c6c" d="M843 124.8h4v4h-4zM855 156.8h4v4h-4zM835 192.8h4v4h-4zM839 192.8h4v4h-4z"/>
<path fill="#6d6d6d" d="M831 140.8h4v4h-4z"/>
<path fill="#6e6e6e" d="M855 180.8h4v4h-4zM871 216.8h4v4h-4zM875 216.8h4v4h-4z"/>
<path fill="#6f6f6f" d="M859 112.8h4v4h-4zM843 140.8h4v4h-4zM903 184.8h4v4h-4zM903 188.8h4v4h-4zM883 212.8h4v4h-4z"/>
<path fill="#707070" d="M851 148.8h4v4h-4zM883 188.8h4v4h-4zM899 196.8h4v4h-4z"/>
<path fill="#717171" d="M863 108.8h4v4h-4zM855 160.8h4v4h-4zM891 184.8h4v4h-4zM871 200.8h4v4h-4z"/>
<path fill="#727272" d="M835 140.8h4v4h-4zM871 212.8h4v4h-4z"/>
<path fill="#737373" d="M847 120.8h4v4h-4zM839 124.8h4v4h-4zM855 176.8h4v4h-4zM847 188.8h4v4h-4zM887 208.8h4v4h-4z"/>
<path fill="#747474" d="M839 140.8h4v4h-4zM847 144.8h4v4h-4zM851 184.8h4v4h-4zM895 200.8h4v4h-4zM871 204.8h4v4h-4z"/>
<path fill="#757575" d="M855 164.8h4v4h-4zM891 204.8h4v4h-4zM871 208.8h4v4h-4zM879 212.8h4v4h-4z"/>
<path fill="#767676" d="M831 124.8h4v4h-4zM835 124.8h4v4h-4zM855 172.8h4v4h-4zM895 184.8h4v4h-4zM899 184.8h4v4h-4zM879 192.8h4v4h-4zM875 212.8h4v4h-4z"/>
<path fill="#777777" d="M855 168.8h4v4h-4zM831 188.8h4v4h-4zM875 196.8h4v4h-4z"/>
<path fill="#797979" d="M899 192.8h4v4h-4z"/>
<path fill="#7a7a7a" d="M831 144.8h4v4h-4zM843 188.8h4v4h-4z"/>
<path fill="#7b7b7b" d="M851 116.8h4v4h-4zM851 152.8h4v4h-4zM887 188.8h4v4h-4zM899 188.8h4v4h-4z"/>
<path fill="#7c7c7c" d="M883 208.8h4v4h-4z"/>
<path fill="#7d7d7d" d="M843 120.8h4v4h-4zM835 188.8h4v4h-4zM875 208.8h4v4h-4z"/>
<path fill="#7e7e7e" d="M839 188.8h4v4h-4zM875 200.8h4v4h-4z"/>
<path fill="#7f7f7f" d="M851 180.8h4v4h-4z"/>
<path fill="#808080" d="M855 112.8h4v4h-4zM895 196.8h4v4h-4zM875 204.8h4v4h-4zM879 208.8h4v4h-4z"/>
<path fill="#818181" d="M863 104.8h4v4h-4zM843 144.8h4v4h-4zM891 188.8h4v4h-4zM883 192.8h4v4h-4zM887 204.8h4v4h-4z"/>
<path fill="#828282" d="M847 184.8h4v4h-4zM895 188.8h4v4h-4zM879 196.8h4v4h-4zM891 200.8h4v4h-4z"/>
<path fill="#838383" d="M859 108.8h4v4h-4zM851 156.8h4v4h-4z"/>
<path fill="#848484" d="M839 120.8h4v4h-4zM835 144.8h4v4h-4zM847 148.8h4v4h-4z"/>
<path fill="#858585" d="M895 192.8h4v4h-4z"/>
<path fill="#868686" d="M831 120.8h4v4h-4z"/>
<path fill="#878787" d="M835 120.8h4v4h-4zM839 144.8h4v4h-4zM879 204.8h4v4h-4zM883 204.8h4v4h-4z"/>
<path fill="#888888" d="M831 184.8h4v4h-4zM887 192.8h4v4h-4zM879 200.8h4v4h-4z"/>
<path fill="#898989" d="M847 116.8h4v4h-4zM831 148.8h4v4h-4zM851 176.8h4v4h-4z"/>
<path fill="#8a8a8a" d="M851 160.8h4v4h-4zM891 192.8h4v4h-4zM891 196.8h4v4h-4z"/>
<path fill="#8b8b8b" d="M883 196.8h4v4h-4zM887 200.8h4v4h-4z"/>
<path fill="#8d8d8d" d="M843 184.8h4v4h-4zM883 200.8h4v4h-4z"/>
<path fill="#8e8e8e" d="M887 196.8h4v4h-4z"/>
<path fill="#8f8f8f" d="M851 164.8h4v4h-4zM851 172.8h4v4h-4z"/>
<path fill="#919191" d="M847 152.8h4v4h-4zM851 168.8h4v4h-4zM847 180.8h4v4h-4zM835 184.8h4v4h-4z"/>
<path fill="#929292" d="M851 112.8h4v4h-4z"/>
<path fill="#939393" d="M839 184.8h4v4h-4z"/>
<path fill="#949494" d="M843 116.8h4v4h-4zM843 148.8h4v4h-4z"/>
<path fill="#969696" d="M859 104.8h4v4h-4zM835 148.8h4v4h-4zM831 152.8h4v4h-4z"/>
<path fill="#979797" d="M855 108.8h4v4h-4z"/>
<path fill="#9a9a9a" d="M839 148.8h4v4h-4zM847 156.8h4v4h-4zM831 180.8h4v4h-4z"/>
<path fill="#9b9b9b" d="M839 116.8h4v4h-4z"/>
<path fill="#9c9c9c" d="M831 116.8h4v4h-4z"/>
<path fill="#9e9e9e" d="M835 116.8h4v4h-4z"/>
<path fill="#9f9f9f" d="M847 176.8h4v4h-4z"/>
<path fill="#a0a0a0" d="M831 156.8h4v4h-4z"/>
<path fill="#a1a1a1" d="M843 152.8h4v4h-4zM847 160.8h4v4h-4zM843 180.8h4v4h-4z"/>
<path fill="#a3a3a3" d="M847 112.8h4v4h-4zM835 152.8h4v4h-4z"/>
<path fill="#a6a6a6" d="M835 180.8h4v4h-4z"/>
<path fill="#a7a7a7" d="M859 100.8h4v4h-4z"/>
<path fill="#a8a8a8" d="M839 152.8h4v4h-4zM847 164.8h4v4h-4zM839 180.8h4v4h-4z"/>
<path fill="#a9a9a9" d="M847 172.8h4v4h-4z"/>
<path fill="#aaaaaa" d="M843 156.8h4v4h-4zM831 160.8h4v4h-4zM831 176.8h4v4h-4z"/>
<path fill="#acacac" d="M851 108.8h4v4h-4zM847 168.8h4v4h-4z"/>
<path fill="#adadad" d="M835 156.8h4v4h-4z"/>
<path fill="#aeaeae" d="M855 104.8h4v4h-4z"/>
<path fill="#afafaf" d="M843 112.8h4v4h-4z"/>
<path fill="#b1b1b1" d="M839 156.8h4v4h-4z"/>
<path fill="#b2b2b2" d="M843 176.8h4v4h-4z"/>
<path fill="#b3b3b3" d="M843 160.8h4v4h-4zM831 164.8h4v4h-4z"/>
<path fill="#b4b4b4" d="M831 172.8h4v4h-4z"/>
<path fill="#b5b5b5" d="M831 112.8h4v4h-4z"/>
<path fill="#b7b7b7" d="M839 112.8h4v4h-4zM835 160.8h4v4h-4zM831 168.8h4v4h-4z"/>
<path fill="#b9b9b9" d="M835 112.8h4v4h-4zM835 176.8h4v4h-4z"/>
<path fill="#bababa" d="M839 160.8h4v4h-4z"/>
<path fill="#bcbcbc" d="M843 164.8h4v4h-4zM839 176.8h4v4h-4z"/>
<path fill="#bebebe" d="M843 172.8h4v4h-4z"/>
<path fill="#bfbfbf" d="M847 108.8h4v4h-4z"/>
<path fill="#c1c1c1" d="M855 100.8h4v4h-4zM835 164.8h4v4h-4zM843 168.8h4v4h-4z"/>
<path fill="#c5c5c5" d="M839 164.8h4v4h-4zM835 172.8h4v4h-4z"/>
<path fill="#c6c6c6" d="M851 104.8h4v4h-4z"/>
<path fill="#c8c8c8" d="M835 168.8h4v4h-4z"/>
<path fill="#c9c9c9" d="M839 172.8h4v4h-4z"/>
<path fill="#cbcbcb" d="M839 168.8h4v4h-4z"/>
<path fill="#cecece" d="M843 108.8h4v4h-4z"/>
<path fill="#d0d0d0" d="M855 96.8h4v4h-4z"/>
<path fill="#d2d2d2" d="M831 108.8h4v4h-4z"/>
<path fill="#d6d6d6" d="M839 108.8h4v4h-4z"/>
<path fill="#d7d7d7" d="M835 108.8h4v4h-4z"/>
<path fill="#dbdbdb" d="M847 104.8h4v4h-4z"/>
<path fill="#dcdcdc" d="M851 100.8h4v4h-4z"/>
<path fill="#ececec" d="M843 104.8h4v4h-4z"/>
<path fill="#ededed" d="M851 96.8h4v4h-4z"/>
<path fill="#eeeeee" d="M831 104.8h4v4h-4z"/>
<path fill="#f4f4f4" d="M847 100.8h4v4h-4z"/>
<path fill="#f5f5f5" d="M835 104.8h4v4h-4zM839 104.8h4v4h-4z"/>
<path fill="#f6f6f6" d="M851 92.8h4v4h-4z"/>
<path fill="#ffffff" d="M831 84.8h4v4h-4zM835 84.8h4v4h-4zM839 84.8h4v4h-4zM843 84.8h4v4h-4zM831 88.8h4v4h-4zM835 88.8h4v4h-4zM839 88.8h4v4h-4zM843 88.8h4v4h-4zM847 88.8h4v4h-4zM831 92.8h4v4h-4zM835 92.8h4v4h-4zM839 92.8h4v4h-4zM843 92.8h4v4h-4zM847 92.8h4v4h-4zM831 96.8h4v4h-4zM835 96.8h4v4h-4zM839 96.8h4v4h-4zM843 96.8h4v4h-4zM847 96.8h4v4h-4zM831 100.8h4v4h-4zM835 100.8h4v4h-4zM839 100.8h4v4h-4zM843 100.8h4v4h-4z"/>
</g></g>
<path d="M839.00,92.80 L947.60,200.80 A325,325 0 0 1 839.00,219.40 Z" fill="none" stroke="#000" stroke-width="0.9" shape-rendering="geometricPrecision"/>
<g clip-path="url(#ccX)"><g filter="url(#fm)">
<path fill="#0b0b0b" d="M25.1 344.5h4v4h-4z"/>
<path fill="#0e0e0e" d="M25.1 340.5h4v4h-4zM21.1 344.5h4v4h-4z"/>
<path fill="#0f0f0f" d="M29.1 344.5h4v4h-4zM25.1 348.5h4v4h-4z"/>
<path fill="#111111" d="M21.1 340.5h4v4h-4zM29.1 340.5h4v4h-4zM21.1 348.5h4v4h-4z"/>
<path fill="#131313" d="M29.1 348.5h4v4h-4z"/>
<path fill="#141414" d="M25.1 336.5h4v4h-4z"/>
<path fill="#161616" d="M21.1 352.5h4v4h-4z"/>
<path fill="#171717" d="M25.1 352.5h4v4h-4z"/>
<path fill="#181818" d="M21.1 336.5h4v4h-4zM29.1 336.5h4v4h-4zM17.1 344.5h4v4h-4zM33.1 344.5h4v4h-4zM17.1 348.5h4v4h-4z"/>
<path fill="#1a1a1a" d="M33.1 348.5h4v4h-4zM29.1 352.5h4v4h-4zM25.1 456.5h4v4h-4z"/>
<path fill="#1b1b1b" d="M17.1 340.5h4v4h-4zM33.1 340.5h4v4h-4zM29.1 456.5h4v4h-4z"/>
<path fill="#1c1c1c" d="M17.1 352.5h4v4h-4zM21.1 356.5h4v4h-4z"/>
<path fill="#1d1d1d" d="M33.1 352.5h4v4h-4zM25.1 356.5h4v4h-4zM25.1 452.5h4v4h-4zM21.1 456.5h4v4h-4zM25.1 460.5h4v4h-4z"/>
<path fill="#1e1e1e" d="M25.1 332.5h4v4h-4zM29.1 356.5h4v4h-4zM29.1 452.5h4v4h-4zM29.1 460.5h4v4h-4z"/>
<path fill="#1f1f1f" d="M25.1 360.5h4v4h-4z"/>
<path fill="#202020" d="M21.1 332.5h4v4h-4zM29.1 332.5h4v4h-4zM17.1 336.5h4v4h-4zM33.1 336.5h4v4h-4zM17.1 356.5h4v4h-4zM33.1 356.5h4v4h-4zM21.1 360.5h4v4h-4zM29.1 360.5h4v4h-4zM21.1 452.5h4v4h-4zM33.1 456.5h4v4h-4zM21.1 460.5h4v4h-4z"/>
<path fill="#232323" d="M37.1 348.5h4v4h-4zM33.1 360.5h4v4h-4zM25.1 364.5h4v4h-4zM33.1 452.5h4v4h-4zM33.1 460.5h4v4h-4z"/>
<path fill="#242424" d="M37.1 344.5h4v4h-4zM37.1 352.5h4v4h-4zM17.1 360.5h4v4h-4zM21.1 364.5h4v4h-4zM29.1 364.5h4v4h-4zM17.1 456.5h4v4h-4z"/>
<path fill="#252525" d="M25.1 448.5h4v4h-4z"/>
<path fill="#262626" d="M37.1 356.5h4v4h-4zM29.1 448.5h4v4h-4zM25.1 464.5h4v4h-4z"/>
<path fill="#272727" d="M17.1 332.5h4v4h-4zM37.1 340.5h4v4h-4zM21.1 448.5h4v4h-4zM17.1 452.5h4v4h-4zM17.1 460.5h4v4h-4zM29.1 464.5h4v4h-4z"/>
<path fill="#282828" d="M37.1 456.5h4v4h-4zM21.1 464.5h4v4h-4z"/>
<path fill="#292929" d="M17.1 364.5h4v4h-4zM33.1 364.5h4v4h-4zM77.1 448.5h4v4h-4z"/>
<path fill="#2a2a2a" d="M37.1 360.5h4v4h-4zM77.1 444.5h4v4h-4zM81.1 444.5h4v4h-4zM33.1 448.5h4v4h-4zM81.1 448.5h4v4h-4z"/>
<path fill="#2b2b2b" d="M25.1 368.5h4v4h-4zM73.1 444.5h4v4h-4zM73.1 448.5h4v4h-4zM37.1 452.5h4v4h-4zM37.1 460.5h4v4h-4zM33.1 464.5h4v4h-4z"/>
<path fill="#2c2c2c" d="M21.1 368.5h4v4h-4zM41.1 408.5h4v4h-4zM25.1 444.5h4v4h-4zM17.1 448.5h4v4h-4zM85.1 448.5h4v4h-4z"/>
<path fill="#2d2d2d" d="M37.1 408.5h4v4h-4zM45.1 408.5h4v4h-4zM37.1 412.5h4v4h-4zM41.1 412.5h4v4h-4zM85.1 444.5h4v4h-4zM17.1 464.5h4v4h-4z"/>
<path fill="#2e2e2e" d="M41.1 348.5h4v4h-4zM41.1 352.5h4v4h-4zM29.1 368.5h4v4h-4zM41.1 404.5h4v4h-4zM45.1 404.5h4v4h-4zM33.1 408.5h4v4h-4zM33.1 412.5h4v4h-4zM45.1 412.5h4v4h-4zM25.1 428.5h4v4h-4zM25.1 432.5h4v4h-4zM21.1 444.5h4v4h-4zM29.1 444.5h4v4h-4zM69.1 444.5h4v4h-4zM69.1 448.5h4v4h-4zM77.1 452.5h4v4h-4zM81.1 452.5h4v4h-4z"/>
<path fill="#2f2f2f" d="M41.1 344.5h4v4h-4zM53.1 392.5h4v4h-4zM57.1 392.5h4v4h-4zM37.1 404.5h4v4h-4zM29.1 412.5h4v4h-4zM33.1 416.5h4v4h-4zM37.1 416.5h4v4h-4zM25.1 424.5h4v4h-4zM21.1 428.5h4v4h-4zM77.1 440.5h4v4h-4zM81.1 440.5h4v4h-4zM73.1 452.5h4v4h-4z"/>
<path fill="#303030" d="M41.1 356.5h4v4h-4zM17.1 368.5h4v4h-4zM49.1 396.5h4v4h-4zM53.1 396.5h4v4h-4zM45.1 400.5h4v4h-4zM49.1 404.5h4v4h-4zM29.1 408.5h4v4h-4zM49.1 408.5h4v4h-4zM25.1 416.5h4v4h-4zM29.1 416.5h4v4h-4zM41.1 416.5h4v4h-4zM25.1 420.5h4v4h-4zM29.1 420.5h4v4h-4zM21.1 424.5h4v4h-4zM21.1 432.5h4v4h-4zM25.1 436.5h4v4h-4zM25.1 440.5h4v4h-4zM73.1 440.5h4v4h-4zM37.1 448.5h4v4h-4zM89.1 448.5h4v4h-4zM85.1 452.5h4v4h-4zM37.1 464.5h4v4h-4zM25.1 468.5h4v4h-4z"/>
<path fill="#313131" d="M49.1 392.5h4v4h-4zM61.1 392.5h4v4h-4zM57.1 396.5h4v4h-4zM41.1 400.5h4v4h-4zM49.1 400.5h4v4h-4zM33.1 404.5h4v4h-4zM25.1 412.5h4v4h-4zM49.1 412.5h4v4h-4zM21.1 420.5h4v4h-4zM29.1 424.5h4v4h-4zM29.1 428.5h4v4h-4zM21.1 436.5h4v4h-4zM21.1 440.5h4v4h-4zM89.1 444.5h4v4h-4zM69.1 452.5h4v4h-4zM41.1 456.5h4v4h-4zM29.1 468.5h4v4h-4z"/>
<path fill="#323232" d="M45.1 396.5h4v4h-4zM37.1 400.5h4v4h-4zM53.1 400.5h4v4h-4zM53.1 404.5h4v4h-4zM21.1 416.5h4v4h-4zM45.1 416.5h4v4h-4zM33.1 420.5h4v4h-4zM29.1 432.5h4v4h-4zM29.1 440.5h4v4h-4zM69.1 440.5h4v4h-4zM85.1 440.5h4v4h-4zM17.1 444.5h4v4h-4zM33.1 444.5h4v4h-4zM65.1 444.5h4v4h-4zM65.1 448.5h4v4h-4zM41.1 452.5h4v4h-4zM41.1 460.5h4v4h-4zM21.1 468.5h4v4h-4z"/>
<path fill="#333333" d="M37.1 364.5h4v4h-4zM53.1 388.5h4v4h-4zM57.1 388.5h4v4h-4zM61.1 396.5h4v4h-4zM57.1 400.5h4v4h-4zM29.1 404.5h4v4h-4zM25.1 408.5h4v4h-4zM53.1 408.5h4v4h-4zM21.1 412.5h4v4h-4zM37.1 420.5h4v4h-4zM17.1 424.5h4v4h-4zM17.1 428.5h4v4h-4zM29.1 436.5h4v4h-4zM89.1 452.5h4v4h-4zM33.1 468.5h4v4h-4z"/>
<path fill="#343434" d="M41.1 360.5h4v4h-4zM61.1 388.5h4v4h-4zM45.1 392.5h4v4h-4zM65.1 392.5h4v4h-4zM41.1 396.5h4v4h-4zM17.1 420.5h4v4h-4zM33.1 424.5h4v4h-4zM17.1 432.5h4v4h-4zM65.1 452.5h4v4h-4zM73.1 456.5h4v4h-4zM77.1 456.5h4v4h-4zM81.1 456.5h4v4h-4zM17.1 468.5h4v4h-4z"/>
<path fill="#353535" d="M33.1 368.5h4v4h-4zM21.1 372.5h4v4h-4zM33.1 400.5h4v4h-4zM21.1 408.5h4v4h-4zM53.1 412.5h4v4h-4zM17.1 416.5h4v4h-4zM49.1 416.5h4v4h-4zM41.1 420.5h4v4h-4zM17.1 436.5h4v4h-4zM17.1 440.5h4v4h-4zM65.1 440.5h4v4h-4zM89.1 440.5h4v4h-4zM93.1 448.5h4v4h-4zM85.1 456.5h4v4h-4z"/>
<path fill="#363636" d="M49.1 388.5h4v4h-4zM65.1 388.5h4v4h-4zM37.1 396.5h4v4h-4zM65.1 396.5h4v4h-4zM61.1 400.5h4v4h-4zM25.1 404.5h4v4h-4zM57.1 404.5h4v4h-4zM17.1 412.5h4v4h-4zM33.1 428.5h4v4h-4zM37.1 444.5h4v4h-4zM61.1 444.5h4v4h-4zM93.1 444.5h4v4h-4zM41.1 448.5h4v4h-4zM61.1 448.5h4v4h-4zM69.1 456.5h4v4h-4zM41.1 464.5h4v4h-4zM37.1 468.5h4v4h-4z"/>
<path fill="#373737" d="M45.1 348.5h4v4h-4zM45.1 352.5h4v4h-4zM17.1 372.5h4v4h-4zM25.1 372.5h4v4h-4zM29.1 400.5h4v4h-4zM45.1 420.5h4v4h-4zM73.1 436.5h4v4h-4zM77.1 436.5h4v4h-4zM33.1 440.5h4v4h-4zM61.1 452.5h4v4h-4zM93.1 452.5h4v4h-4zM45.1 456.5h4v4h-4zM89.1 456.5h4v4h-4z"/>
<path fill="#383838" d="M41.1 392.5h4v4h-4zM69.1 392.5h4v4h-4zM21.1 404.5h4v4h-4zM17.1 408.5h4v4h-4zM57.1 408.5h4v4h-4zM53.1 416.5h4v4h-4zM37.1 424.5h4v4h-4zM33.1 432.5h4v4h-4zM33.1 436.5h4v4h-4zM69.1 436.5h4v4h-4zM81.1 436.5h4v4h-4zM45.1 452.5h4v4h-4zM65.1 456.5h4v4h-4zM45.1 460.5h4v4h-4z"/>
<path fill="#393939" d="M45.1 356.5h4v4h-4zM69.1 388.5h4v4h-4zM33.1 396.5h4v4h-4zM57.1 412.5h4v4h-4zM49.1 420.5h4v4h-4zM61.1 440.5h4v4h-4zM57.1 448.5h4v4h-4zM77.1 460.5h4v4h-4zM81.1 460.5h4v4h-4z"/>
<path fill="#3a3a3a" d="M61.1 384.5h4v4h-4zM45.1 388.5h4v4h-4zM25.1 400.5h4v4h-4zM65.1 400.5h4v4h-4zM61.1 404.5h4v4h-4zM65.1 436.5h4v4h-4zM85.1 436.5h4v4h-4zM93.1 440.5h4v4h-4zM57.1 444.5h4v4h-4zM45.1 448.5h4v4h-4zM49.1 452.5h4v4h-4zM57.1 452.5h4v4h-4zM49.1 456.5h4v4h-4zM61.1 456.5h4v4h-4zM93.1 456.5h4v4h-4zM69.1 460.5h4v4h-4zM73.1 460.5h4v4h-4zM85.1 460.5h4v4h-4zM45.1 464.5h4v4h-4zM41.1 468.5h4v4h-4z"/>
<path fill="#3b3b3b" d="M29.1 372.5h4v4h-4zM57.1 384.5h4v4h-4zM65.1 384.5h4v4h-4zM69.1 396.5h4v4h-4zM17.1 404.5h4v4h-4zM41.1 424.5h4v4h-4zM37.1 440.5h4v4h-4zM41.1 444.5h4v4h-4zM53.1 448.5h4v4h-4zM97.1 448.5h4v4h-4zM53.1 452.5h4v4h-4zM97.1 452.5h4v4h-4zM57.1 456.5h4v4h-4zM49.1 460.5h4v4h-4zM65.1 460.5h4v4h-4zM89.1 460.5h4v4h-4z"/>
<path fill="#3c3c3c" d="M69.1 384.5h4v4h-4zM73.1 388.5h4v4h-4zM37.1 392.5h4v4h-4zM21.1 400.5h4v4h-4zM61.1 408.5h4v4h-4zM57.1 416.5h4v4h-4zM53.1 420.5h4v4h-4zM37.1 428.5h4v4h-4zM61.1 436.5h4v4h-4zM57.1 440.5h4v4h-4zM49.1 448.5h4v4h-4zM53.1 456.5h4v4h-4zM97.1 456.5h4v4h-4zM61.1 460.5h4v4h-4zM93.1 460.5h4v4h-4z"/>
<path fill="#3d3d3d" d="M49.1 352.5h4v4h-4zM41.1 364.5h4v4h-4zM17.1 376.5h4v4h-4zM53.1 384.5h4v4h-4zM73.1 392.5h4v4h-4zM29.1 396.5h4v4h-4zM45.1 424.5h4v4h-4zM89.1 436.5h4v4h-4zM45.1 444.5h4v4h-4zM53.1 444.5h4v4h-4zM97.1 444.5h4v4h-4zM53.1 460.5h4v4h-4zM57.1 460.5h4v4h-4zM49.1 464.5h4v4h-4zM69.1 464.5h4v4h-4zM73.1 464.5h4v4h-4zM77.1 464.5h4v4h-4z"/>
<path fill="#3e3e3e" d="M45.1 360.5h4v4h-4zM21.1 376.5h4v4h-4zM73.1 384.5h4v4h-4zM17.1 400.5h4v4h-4zM65.1 404.5h4v4h-4zM61.1 412.5h4v4h-4zM57.1 420.5h4v4h-4zM49.1 424.5h4v4h-4zM37.1 432.5h4v4h-4zM37.1 436.5h4v4h-4zM49.1 444.5h4v4h-4zM53.1 464.5h4v4h-4zM57.1 464.5h4v4h-4zM61.1 464.5h4v4h-4zM65.1 464.5h4v4h-4z"/>
<path fill="#3f3f3f" d="M37.1 368.5h4v4h-4zM41.1 388.5h4v4h-4zM77.1 388.5h4v4h-4zM25.1 396.5h4v4h-4zM73.1 396.5h4v4h-4zM69.1 400.5h4v4h-4zM53.1 424.5h4v4h-4zM61.1 432.5h4v4h-4zM65.1 432.5h4v4h-4zM69.1 432.5h4v4h-4zM73.1 432.5h4v4h-4zM57.1 436.5h4v4h-4zM41.1 440.5h4v4h-4zM53.1 440.5h4v4h-4zM101.1 456.5h4v4h-4z"/>
<path fill="#404040" d="M49.1 356.5h4v4h-4zM69.1 380.5h4v4h-4zM73.1 380.5h4v4h-4zM49.1 384.5h4v4h-4zM77.1 384.5h4v4h-4zM33.1 392.5h4v4h-4zM61.1 416.5h4v4h-4zM57.1 424.5h4v4h-4zM41.1 428.5h4v4h-4zM77.1 432.5h4v4h-4zM49.1 440.5h4v4h-4zM101.1 452.5h4v4h-4z"/>
<path fill="#414141" d="M25.1 376.5h4v4h-4zM65.1 380.5h4v4h-4zM77.1 380.5h4v4h-4zM81.1 384.5h4v4h-4zM77.1 392.5h4v4h-4zM21.1 396.5h4v4h-4zM65.1 408.5h4v4h-4zM61.1 420.5h4v4h-4zM45.1 428.5h4v4h-4zM53.1 428.5h4v4h-4zM57.1 428.5h4v4h-4zM61.1 428.5h4v4h-4zM57.1 432.5h4v4h-4zM41.1 436.5h4v4h-4zM53.1 436.5h4v4h-4zM93.1 436.5h4v4h-4zM45.1 440.5h4v4h-4zM97.1 440.5h4v4h-4z"/>
<path fill="#424242" d="M73.1 376.5h4v4h-4zM17.1 380.5h4v4h-4zM61.1 380.5h4v4h-4zM81.1 388.5h4v4h-4zM17.1 396.5h4v4h-4zM61.1 424.5h4v4h-4zM49.1 428.5h4v4h-4zM65.1 428.5h4v4h-4zM41.1 432.5h4v4h-4zM53.1 432.5h4v4h-4zM81.1 432.5h4v4h-4zM49.1 436.5h4v4h-4z"/>
<path fill="#434343" d="M53.1 356.5h4v4h-4zM33.1 372.5h4v4h-4zM37.1 388.5h4v4h-4zM85.1 388.5h4v4h-4zM29.1 392.5h4v4h-4zM69.1 404.5h4v4h-4zM65.1 412.5h4v4h-4zM45.1 432.5h4v4h-4zM49.1 432.5h4v4h-4zM45.1 436.5h4v4h-4zM105.1 456.5h4v4h-4z"/>
<path fill="#444444" d="M49.1 360.5h4v4h-4zM69.1 376.5h4v4h-4zM21.1 380.5h4v4h-4zM17.1 384.5h4v4h-4zM17.1 392.5h4v4h-4zM25.1 392.5h4v4h-4zM81.1 392.5h4v4h-4zM77.1 396.5h4v4h-4zM73.1 400.5h4v4h-4zM65.1 416.5h4v4h-4zM65.1 424.5h4v4h-4zM69.1 428.5h4v4h-4zM85.1 432.5h4v4h-4zM101.1 448.5h4v4h-4z"/>
<path fill="#454545" d="M57.1 380.5h4v4h-4zM45.1 384.5h4v4h-4zM17.1 388.5h4v4h-4zM21.1 392.5h4v4h-4zM65.1 420.5h4v4h-4z"/>
<path fill="#464646" d="M45.1 364.5h4v4h-4zM29.1 376.5h4v4h-4zM65.1 376.5h4v4h-4zM85.1 392.5h4v4h-4zM69.1 408.5h4v4h-4zM73.1 428.5h4v4h-4zM89.1 432.5h4v4h-4zM97.1 436.5h4v4h-4z"/>
<path fill="#474747" d="M69.1 372.5h4v4h-4zM25.1 380.5h4v4h-4zM21.1 384.5h4v4h-4zM21.1 388.5h4v4h-4zM33.1 388.5h4v4h-4zM89.1 392.5h4v4h-4zM81.1 396.5h4v4h-4zM69.1 424.5h4v4h-4z"/>
<path fill="#484848" d="M53.1 360.5h4v4h-4zM41.1 368.5h4v4h-4zM53.1 380.5h4v4h-4zM25.1 388.5h4v4h-4zM29.1 388.5h4v4h-4zM77.1 400.5h4v4h-4zM73.1 404.5h4v4h-4zM69.1 412.5h4v4h-4zM69.1 420.5h4v4h-4zM77.1 428.5h4v4h-4zM93.1 432.5h4v4h-4z"/>
<path fill="#494949" d="M57.1 360.5h4v4h-4zM61.1 376.5h4v4h-4zM41.1 384.5h4v4h-4zM85.1 396.5h4v4h-4zM69.1 416.5h4v4h-4zM113.1 416.5h4v4h-4zM101.1 444.5h4v4h-4zM105.1 452.5h4v4h-4zM109.1 456.5h4v4h-4z"/>
<path fill="#4a4a4a" d="M65.1 372.5h4v4h-4zM25.1 384.5h4v4h-4zM89.1 396.5h4v4h-4zM93.1 396.5h4v4h-4zM109.1 412.5h4v4h-4zM73.1 424.5h4v4h-4zM81.1 428.5h4v4h-4z"/>
<path fill="#4b4b4b" d="M49.1 364.5h4v4h-4zM37.1 372.5h4v4h-4zM81.1 400.5h4v4h-4zM73.1 408.5h4v4h-4zM97.1 432.5h4v4h-4z"/>
<path fill="#4c4c4c" d="M65.1 368.5h4v4h-4zM33.1 376.5h4v4h-4zM29.1 380.5h4v4h-4zM49.1 380.5h4v4h-4zM29.1 384.5h4v4h-4zM37.1 384.5h4v4h-4zM97.1 400.5h4v4h-4zM77.1 404.5h4v4h-4zM105.1 408.5h4v4h-4zM73.1 412.5h4v4h-4zM109.1 416.5h4v4h-4zM73.1 420.5h4v4h-4zM85.1 428.5h4v4h-4z"/>
<path fill="#4d4d4d" d="M53.1 364.5h4v4h-4zM61.1 364.5h4v4h-4zM57.1 376.5h4v4h-4zM33.1 384.5h4v4h-4zM85.1 400.5h4v4h-4zM89.1 400.5h4v4h-4zM93.1 400.5h4v4h-4zM101.1 404.5h4v4h-4zM105.1 412.5h4v4h-4zM73.1 416.5h4v4h-4zM117.1 420.5h4v4h-4zM77.1 424.5h4v4h-4zM89.1 428.5h4v4h-4z"/>
<path fill="#4e4e4e" d="M57.1 364.5h4v4h-4zM45.1 368.5h4v4h-4zM61.1 372.5h4v4h-4zM81.1 404.5h4v4h-4zM77.1 408.5h4v4h-4zM105.1 416.5h4v4h-4zM113.1 420.5h4v4h-4zM93.1 428.5h4v4h-4zM101.1 440.5h4v4h-4z"/>
<path fill="#4f4f4f" d="M61.1 368.5h4v4h-4zM33.1 380.5h4v4h-4zM45.1 380.5h4v4h-4zM97.1 404.5h4v4h-4zM101.1 408.5h4v4h-4zM109.1 420.5h4v4h-4zM97.1 428.5h4v4h-4z"/>
<path fill="#505050" d="M85.1 404.5h4v4h-4zM93.1 404.5h4v4h-4zM77.1 412.5h4v4h-4zM77.1 420.5h4v4h-4zM105.1 420.5h4v4h-4zM81.1 424.5h4v4h-4z"/>
<path fill="#515151" d="M49.1 368.5h4v4h-4zM57.1 368.5h4v4h-4zM41.1 372.5h4v4h-4zM57.1 372.5h4v4h-4zM37.1 376.5h4v4h-4zM53.1 376.5h4v4h-4zM37.1 380.5h4v4h-4zM41.1 380.5h4v4h-4zM89.1 404.5h4v4h-4zM81.1 408.5h4v4h-4zM101.1 412.5h4v4h-4zM77.1 416.5h4v4h-4zM101.1 416.5h4v4h-4zM101.1 420.5h4v4h-4zM85.1 424.5h4v4h-4zM101.1 424.5h4v4h-4zM101.1 428.5h4v4h-4zM101.1 436.5h4v4h-4z"/>
<path fill="#525252" d="M53.1 368.5h4v4h-4zM97.1 408.5h4v4h-4zM89.1 424.5h4v4h-4zM93.1 424.5h4v4h-4zM97.1 424.5h4v4h-4zM101.1 432.5h4v4h-4z"/>
<path fill="#535353" d="M49.1 376.5h4v4h-4zM85.1 408.5h4v4h-4zM93.1 408.5h4v4h-4zM81.1 412.5h4v4h-4zM97.1 412.5h4v4h-4zM81.1 420.5h4v4h-4zM97.1 420.5h4v4h-4zM105.1 424.5h4v4h-4zM105.1 448.5h4v4h-4z"/>
<path fill="#545454" d="M45.1 372.5h4v4h-4zM53.1 372.5h4v4h-4zM41.1 376.5h4v4h-4zM89.1 408.5h4v4h-4zM81.1 416.5h4v4h-4zM97.1 416.5h4v4h-4z"/>
<path fill="#555555" d="M49.1 372.5h4v4h-4zM45.1 376.5h4v4h-4zM85.1 412.5h4v4h-4zM93.1 412.5h4v4h-4zM85.1 420.5h4v4h-4zM89.1 420.5h4v4h-4zM93.1 420.5h4v4h-4z"/>
<path fill="#565656" d="M89.1 412.5h4v4h-4zM85.1 416.5h4v4h-4zM93.1 416.5h4v4h-4zM109.1 424.5h4v4h-4zM109.1 452.5h4v4h-4z"/>
<path fill="#575757" d="M89.1 416.5h4v4h-4z"/>
<path fill="#595959" d="M105.1 428.5h4v4h-4z"/>
<path fill="#5a5a5a" d="M113.1 424.5h4v4h-4z"/>
<path fill="#5c5c5c" d="M117.1 424.5h4v4h-4zM121.1 424.5h4v4h-4z"/>
<path fill="#5f5f5f" d="M105.1 444.5h4v4h-4z"/>
<path fill="#616161" d="M105.1 432.5h4v4h-4z"/>
<path fill="#656565" d="M109.1 428.5h4v4h-4z"/>
<path fill="#676767" d="M105.1 436.5h4v4h-4zM105.1 440.5h4v4h-4z"/>
<path fill="#686868" d="M113.1 452.5h4v4h-4z"/>
<path fill="#696969" d="M109.1 448.5h4v4h-4z"/>
<path fill="#717171" d="M113.1 428.5h4v4h-4z"/>
<path fill="#777777" d="M109.1 432.5h4v4h-4z"/>
<path fill="#787878" d="M117.1 428.5h4v4h-4z"/>
<path fill="#7c7c7c" d="M121.1 428.5h4v4h-4zM125.1 428.5h4v4h-4z"/>
<path fill="#7d7d7d" d="M109.1 444.5h4v4h-4z"/>
<path fill="#7f7f7f" d="M117.1 452.5h4v4h-4z"/>
<path fill="#858585" d="M113.1 448.5h4v4h-4z"/>
<path fill="#868686" d="M109.1 436.5h4v4h-4z"/>
<path fill="#898989" d="M109.1 440.5h4v4h-4z"/>
<path fill="#8d8d8d" d="M113.1 432.5h4v4h-4z"/>
<path fill="#979797" d="M121.1 452.5h4v4h-4z"/>
<path fill="#9c9c9c" d="M117.1 432.5h4v4h-4z"/>
<path fill="#9e9e9e" d="M113.1 444.5h4v4h-4z"/>
<path fill="#a4a4a4" d="M113.1 436.5h4v4h-4zM117.1 448.5h4v4h-4z"/>
<path fill="#a6a6a6" d="M121.1 432.5h4v4h-4z"/>
<path fill="#a8a8a8" d="M129.1 432.5h4v4h-4z"/>
<path fill="#ababab" d="M113.1 440.5h4v4h-4z"/>
<path fill="#adadad" d="M125.1 432.5h4v4h-4z"/>
<path fill="#bababa" d="M117.1 436.5h4v4h-4z"/>
<path fill="#bebebe" d="M133.1 436.5h4v4h-4zM133.1 448.5h4v4h-4z"/>
<path fill="#bfbfbf" d="M117.1 444.5h4v4h-4z"/>
<path fill="#c6c6c6" d="M121.1 448.5h4v4h-4z"/>
<path fill="#c7c7c7" d="M117.1 440.5h4v4h-4z"/>
<path fill="#cfcfcf" d="M121.1 436.5h4v4h-4z"/>
<path fill="#dddddd" d="M133.1 440.5h4v4h-4zM133.1 444.5h4v4h-4zM129.1 448.5h4v4h-4z"/>
<path fill="#dedede" d="M129.1 436.5h4v4h-4z"/>
<path fill="#dfdfdf" d="M125.1 448.5h4v4h-4z"/>
<path fill="#e2e2e2" d="M125.1 436.5h4v4h-4z"/>
<path fill="#e5e5e5" d="M121.1 444.5h4v4h-4z"/>
<path fill="#e7e7e7" d="M121.1 440.5h4v4h-4z"/>
<path fill="#ffffff" d="M125.1 440.5h4v4h-4zM129.1 440.5h4v4h-4zM125.1 444.5h4v4h-4zM129.1 444.5h4v4h-4z"/>
</g></g>
<path d="M25.10,340.50 L129.50,444.10 A305,305 0 0 1 25.10,462.20 Z" fill="none" stroke="#000" stroke-width="0.9" shape-rendering="geometricPrecision"/>
<g clip-path="url(#ccY)"><g filter="url(#fm)">
<path fill="#0b0b0b" d="M270.4 440.3h4v4h-4z"/>
<path fill="#0c0c0c" d="M174.4 352.3h4v4h-4zM266.4 440.3h4v4h-4z"/>
<path fill="#0d0d0d" d="M174.4 348.3h4v4h-4zM170.4 352.3h4v4h-4zM174.4 356.3h4v4h-4z"/>
<path fill="#0e0e0e" d="M170.4 348.3h4v4h-4zM178.4 352.3h4v4h-4zM170.4 356.3h4v4h-4zM266.4 436.3h4v4h-4z"/>
<path fill="#0f0f0f" d="M178.4 348.3h4v4h-4zM178.4 356.3h4v4h-4zM170.4 360.3h4v4h-4zM174.4 360.3h4v4h-4zM262.4 436.3h4v4h-4zM270.4 444.3h4v4h-4z"/>
<path fill="#101010" d="M174.4 344.3h4v4h-4zM270.4 436.3h4v4h-4zM262.4 440.3h4v4h-4zM266.4 444.3h4v4h-4z"/>
<path fill="#111111" d="M170.4 344.3h4v4h-4zM178.4 344.3h4v4h-4zM166.4 352.3h4v4h-4zM166.4 356.3h4v4h-4zM178.4 360.3h4v4h-4zM174.4 364.3h4v4h-4zM258.4 436.3h4v4h-4z"/>
<path fill="#121212" d="M182.4 352.3h4v4h-4zM170.4 364.3h4v4h-4zM262.4 432.3h4v4h-4zM258.4 440.3h4v4h-4z"/>
<path fill="#131313" d="M166.4 348.3h4v4h-4zM182.4 348.3h4v4h-4zM182.4 356.3h4v4h-4zM166.4 360.3h4v4h-4zM178.4 364.3h4v4h-4zM266.4 432.3h4v4h-4z"/>
<path fill="#141414" d="M174.4 340.3h4v4h-4zM182.4 360.3h4v4h-4z"/>
<path fill="#151515" d="M170.4 340.3h4v4h-4zM178.4 340.3h4v4h-4zM166.4 344.3h4v4h-4zM182.4 344.3h4v4h-4zM166.4 364.3h4v4h-4zM170.4 368.3h4v4h-4zM174.4 368.3h4v4h-4zM274.4 440.3h4v4h-4z"/>
<path fill="#161616" d="M182.4 364.3h4v4h-4zM178.4 368.3h4v4h-4zM258.4 432.3h4v4h-4zM254.4 436.3h4v4h-4zM254.4 440.3h4v4h-4zM262.4 444.3h4v4h-4z"/>
<path fill="#171717" d="M182.4 368.3h4v4h-4zM270.4 432.3h4v4h-4z"/>
<path fill="#181818" d="M162.4 352.3h4v4h-4zM186.4 352.3h4v4h-4zM162.4 356.3h4v4h-4zM186.4 356.3h4v4h-4zM186.4 360.3h4v4h-4zM186.4 364.3h4v4h-4zM186.4 368.3h4v4h-4zM186.4 372.3h4v4h-4zM190.4 372.3h4v4h-4zM190.4 376.3h4v4h-4zM194.4 376.3h4v4h-4z"/>
<path fill="#191919" d="M174.4 336.3h4v4h-4zM166.4 340.3h4v4h-4zM182.4 340.3h4v4h-4zM162.4 348.3h4v4h-4zM186.4 348.3h4v4h-4zM162.4 360.3h4v4h-4zM166.4 368.3h4v4h-4zM190.4 368.3h4v4h-4zM182.4 372.3h4v4h-4zM194.4 372.3h4v4h-4zM194.4 380.3h4v4h-4zM274.4 436.3h4v4h-4z"/>
<path fill="#1a1a1a" d="M170.4 336.3h4v4h-4zM178.4 336.3h4v4h-4zM174.4 372.3h4v4h-4zM178.4 372.3h4v4h-4zM186.4 376.3h4v4h-4zM198.4 376.3h4v4h-4zM190.4 380.3h4v4h-4zM258.4 444.3h4v4h-4zM274.4 444.3h4v4h-4z"/>
<path fill="#1b1b1b" d="M190.4 364.3h4v4h-4zM194.4 368.3h4v4h-4zM170.4 372.3h4v4h-4zM198.4 380.3h4v4h-4zM254.4 432.3h4v4h-4z"/>
<path fill="#1c1c1c" d="M162.4 344.3h4v4h-4zM186.4 344.3h4v4h-4zM190.4 360.3h4v4h-4zM162.4 364.3h4v4h-4zM198.4 372.3h4v4h-4zM250.4 440.3h4v4h-4z"/>
<path fill="#1d1d1d" d="M194.4 384.3h4v4h-4zM262.4 428.3h4v4h-4zM266.4 428.3h4v4h-4zM250.4 436.3h4v4h-4zM254.4 444.3h4v4h-4z"/>
<path fill="#1e1e1e" d="M166.4 336.3h4v4h-4zM190.4 356.3h4v4h-4zM194.4 364.3h4v4h-4zM166.4 372.3h4v4h-4zM182.4 376.3h4v4h-4zM202.4 376.3h4v4h-4zM202.4 380.3h4v4h-4zM198.4 384.3h4v4h-4z"/>
<path fill="#1f1f1f" d="M174.4 332.3h4v4h-4zM162.4 340.3h4v4h-4zM190.4 352.3h4v4h-4zM162.4 368.3h4v4h-4zM198.4 368.3h4v4h-4zM186.4 380.3h4v4h-4z"/>
<path fill="#202020" d="M170.4 332.3h4v4h-4zM202.4 372.3h4v4h-4zM190.4 384.3h4v4h-4zM202.4 384.3h4v4h-4zM258.4 428.3h4v4h-4zM274.4 432.3h4v4h-4zM266.4 448.3h4v4h-4zM270.4 448.3h4v4h-4z"/>
<path fill="#212121" d="M190.4 348.3h4v4h-4zM194.4 360.3h4v4h-4zM178.4 376.3h4v4h-4zM206.4 380.3h4v4h-4zM218.4 392.3h4v4h-4zM222.4 396.3h4v4h-4zM270.4 428.3h4v4h-4zM250.4 432.3h4v4h-4zM250.4 444.3h4v4h-4z"/>
<path fill="#222222" d="M206.4 384.3h4v4h-4zM210.4 384.3h4v4h-4zM214.4 388.3h4v4h-4zM222.4 392.3h4v4h-4zM226.4 396.3h4v4h-4zM246.4 436.3h4v4h-4zM246.4 440.3h4v4h-4z"/>
<path fill="#232323" d="M166.4 332.3h4v4h-4zM198.4 364.3h4v4h-4zM206.4 376.3h4v4h-4zM210.4 388.3h4v4h-4zM218.4 388.3h4v4h-4zM214.4 392.3h4v4h-4zM218.4 396.3h4v4h-4zM226.4 400.3h4v4h-4zM254.4 428.3h4v4h-4z"/>
<path fill="#242424" d="M162.4 336.3h4v4h-4zM194.4 356.3h4v4h-4zM162.4 372.3h4v4h-4zM174.4 376.3h4v4h-4zM210.4 380.3h4v4h-4zM214.4 384.3h4v4h-4zM198.4 388.3h4v4h-4zM202.4 388.3h4v4h-4zM206.4 388.3h4v4h-4zM230.4 400.3h4v4h-4z"/>
<path fill="#252525" d="M202.4 368.3h4v4h-4zM170.4 376.3h4v4h-4zM186.4 384.3h4v4h-4zM194.4 388.3h4v4h-4zM226.4 392.3h4v4h-4zM222.4 400.3h4v4h-4zM246.4 432.3h4v4h-4zM262.4 448.3h4v4h-4z"/>
<path fill="#262626" d="M206.4 372.3h4v4h-4zM166.4 376.3h4v4h-4zM182.4 380.3h4v4h-4zM222.4 388.3h4v4h-4zM230.4 396.3h4v4h-4zM230.4 404.3h4v4h-4zM250.4 428.3h4v4h-4zM242.4 436.3h4v4h-4zM246.4 444.3h4v4h-4z"/>
<path fill="#272727" d="M194.4 352.3h4v4h-4zM218.4 384.3h4v4h-4zM190.4 388.3h4v4h-4zM210.4 392.3h4v4h-4zM226.4 404.3h4v4h-4zM234.4 404.3h4v4h-4zM242.4 432.3h4v4h-4zM242.4 440.3h4v4h-4z"/>
<path fill="#282828" d="M162.4 332.3h4v4h-4zM198.4 360.3h4v4h-4zM210.4 376.3h4v4h-4zM214.4 380.3h4v4h-4zM214.4 396.3h4v4h-4zM234.4 400.3h4v4h-4zM234.4 408.3h4v4h-4zM246.4 428.3h4v4h-4zM258.4 448.3h4v4h-4z"/>
<path fill="#292929" d="M162.4 376.3h4v4h-4zM218.4 400.3h4v4h-4zM230.4 408.3h4v4h-4zM238.4 408.3h4v4h-4zM242.4 428.3h4v4h-4zM238.4 432.3h4v4h-4zM238.4 436.3h4v4h-4zM278.4 440.3h4v4h-4z"/>
<path fill="#2a2a2a" d="M202.4 364.3h4v4h-4zM206.4 392.3h4v4h-4zM238.4 404.3h4v4h-4zM238.4 412.3h4v4h-4zM242.4 424.3h4v4h-4zM246.4 424.3h4v4h-4zM262.4 424.3h4v4h-4zM238.4 428.3h4v4h-4zM278.4 436.3h4v4h-4zM254.4 448.3h4v4h-4zM274.4 448.3h4v4h-4z"/>
<path fill="#2b2b2b" d="M186.4 388.3h4v4h-4zM226.4 388.3h4v4h-4zM230.4 392.3h4v4h-4zM222.4 404.3h4v4h-4zM234.4 412.3h4v4h-4zM242.4 412.3h4v4h-4zM238.4 416.3h4v4h-4zM242.4 416.3h4v4h-4zM242.4 420.3h4v4h-4zM238.4 424.3h4v4h-4zM250.4 424.3h4v4h-4zM254.4 424.3h4v4h-4zM258.4 424.3h4v4h-4zM266.4 424.3h4v4h-4zM238.4 440.3h4v4h-4zM242.4 444.3h4v4h-4zM250.4 448.3h4v4h-4z"/>
<path fill="#2c2c2c" d="M198.4 356.3h4v4h-4zM206.4 368.3h4v4h-4zM178.4 380.3h4v4h-4zM222.4 384.3h4v4h-4zM202.4 392.3h4v4h-4zM234.4 396.3h4v4h-4zM242.4 408.3h4v4h-4zM238.4 420.3h4v4h-4zM246.4 420.3h4v4h-4zM234.4 432.3h4v4h-4z"/>
<path fill="#2d2d2d" d="M210.4 372.3h4v4h-4zM218.4 380.3h4v4h-4zM182.4 384.3h4v4h-4zM198.4 392.3h4v4h-4zM210.4 396.3h4v4h-4zM238.4 400.3h4v4h-4zM226.4 408.3h4v4h-4zM234.4 416.3h4v4h-4zM246.4 416.3h4v4h-4zM234.4 428.3h4v4h-4zM234.4 436.3h4v4h-4z"/>
<path fill="#2e2e2e" d="M214.4 376.3h4v4h-4zM230.4 412.3h4v4h-4zM246.4 412.3h4v4h-4zM234.4 420.3h4v4h-4zM250.4 420.3h4v4h-4zM234.4 424.3h4v4h-4zM238.4 444.3h4v4h-4zM278.4 444.3h4v4h-4zM246.4 448.3h4v4h-4z"/>
<path fill="#2f2f2f" d="M202.4 360.3h4v4h-4zM162.4 380.3h4v4h-4zM166.4 380.3h4v4h-4zM194.4 392.3h4v4h-4zM242.4 404.3h4v4h-4zM234.4 440.3h4v4h-4z"/>
<path fill="#303030" d="M170.4 380.3h4v4h-4zM182.4 388.3h4v4h-4zM214.4 400.3h4v4h-4zM246.4 408.3h4v4h-4zM250.4 416.3h4v4h-4zM242.4 448.3h4v4h-4z"/>
<path fill="#313131" d="M174.4 380.3h4v4h-4zM190.4 392.3h4v4h-4zM230.4 416.3h4v4h-4zM254.4 420.3h4v4h-4z"/>
<path fill="#323232" d="M206.4 364.3h4v4h-4zM230.4 388.3h4v4h-4zM234.4 392.3h4v4h-4zM206.4 396.3h4v4h-4zM238.4 396.3h4v4h-4zM218.4 404.3h4v4h-4zM230.4 420.3h4v4h-4zM230.4 428.3h4v4h-4zM230.4 432.3h4v4h-4zM234.4 444.3h4v4h-4z"/>
<path fill="#333333" d="M210.4 368.3h4v4h-4zM226.4 384.3h4v4h-4zM186.4 392.3h4v4h-4zM242.4 400.3h4v4h-4zM222.4 408.3h4v4h-4zM226.4 412.3h4v4h-4zM250.4 412.3h4v4h-4zM230.4 424.3h4v4h-4zM230.4 436.3h4v4h-4zM238.4 448.3h4v4h-4z"/>
<path fill="#343434" d="M214.4 372.3h4v4h-4zM218.4 376.3h4v4h-4zM222.4 380.3h4v4h-4zM162.4 384.3h4v4h-4zM166.4 384.3h4v4h-4zM178.4 384.3h4v4h-4zM246.4 404.3h4v4h-4zM258.4 420.3h4v4h-4zM230.4 440.3h4v4h-4zM230.4 452.3h4v4h-4zM234.4 452.3h4v4h-4zM230.4 456.3h4v4h-4z"/>
<path fill="#353535" d="M178.4 388.3h4v4h-4zM182.4 392.3h4v4h-4zM202.4 396.3h4v4h-4zM254.4 416.3h4v4h-4zM234.4 448.3h4v4h-4zM226.4 452.3h4v4h-4zM238.4 452.3h4v4h-4zM242.4 452.3h4v4h-4zM246.4 452.3h4v4h-4zM250.4 452.3h4v4h-4zM266.4 452.3h4v4h-4zM226.4 456.3h4v4h-4zM234.4 456.3h4v4h-4z"/>
<path fill="#363636" d="M166.4 388.3h4v4h-4zM178.4 392.3h4v4h-4zM210.4 400.3h4v4h-4zM250.4 408.3h4v4h-4zM262.4 420.3h4v4h-4zM230.4 444.3h4v4h-4zM230.4 448.3h4v4h-4zM254.4 452.3h4v4h-4zM262.4 452.3h4v4h-4zM238.4 456.3h4v4h-4z"/>
<path fill="#373737" d="M170.4 384.3h4v4h-4zM170.4 388.3h4v4h-4zM174.4 388.3h4v4h-4zM174.4 392.3h4v4h-4zM198.4 396.3h4v4h-4zM226.4 416.3h4v4h-4zM258.4 452.3h4v4h-4z"/>
<path fill="#383838" d="M174.4 384.3h4v4h-4zM162.4 388.3h4v4h-4zM170.4 392.3h4v4h-4zM222.4 452.3h4v4h-4zM242.4 456.3h4v4h-4z"/>
<path fill="#393939" d="M166.4 392.3h4v4h-4zM194.4 396.3h4v4h-4zM254.4 412.3h4v4h-4zM226.4 448.3h4v4h-4zM278.4 448.3h4v4h-4zM222.4 456.3h4v4h-4z"/>
<path fill="#3a3a3a" d="M190.4 396.3h4v4h-4zM214.4 404.3h4v4h-4zM222.4 412.3h4v4h-4zM258.4 416.3h4v4h-4zM226.4 420.3h4v4h-4zM226.4 432.3h4v4h-4zM226.4 436.3h4v4h-4z"/>
<path fill="#3b3b3b" d="M162.4 392.3h4v4h-4zM174.4 396.3h4v4h-4zM178.4 396.3h4v4h-4zM182.4 396.3h4v4h-4zM186.4 396.3h4v4h-4zM218.4 408.3h4v4h-4zM226.4 424.3h4v4h-4zM226.4 428.3h4v4h-4zM226.4 440.3h4v4h-4zM226.4 444.3h4v4h-4zM246.4 456.3h4v4h-4z"/>
<path fill="#3c3c3c" d="M170.4 396.3h4v4h-4zM206.4 400.3h4v4h-4zM230.4 460.3h4v4h-4zM234.4 460.3h4v4h-4z"/>
<path fill="#3d3d3d" d="M222.4 448.3h4v4h-4zM250.4 456.3h4v4h-4zM226.4 460.3h4v4h-4zM238.4 460.3h4v4h-4z"/>
<path fill="#3e3e3e" d="M166.4 396.3h4v4h-4zM218.4 452.3h4v4h-4zM218.4 456.3h4v4h-4z"/>
<path fill="#404040" d="M162.4 396.3h4v4h-4zM202.4 400.3h4v4h-4zM222.4 416.3h4v4h-4zM222.4 444.3h4v4h-4zM254.4 456.3h4v4h-4zM222.4 460.3h4v4h-4z"/>
<path fill="#414141" d="M170.4 400.3h4v4h-4zM174.4 400.3h4v4h-4zM178.4 400.3h4v4h-4zM210.4 404.3h4v4h-4z"/>
<path fill="#424242" d="M166.4 400.3h4v4h-4zM182.4 400.3h4v4h-4zM198.4 400.3h4v4h-4zM222.4 440.3h4v4h-4zM218.4 448.3h4v4h-4z"/>
<path fill="#434343" d="M162.4 400.3h4v4h-4zM186.4 400.3h4v4h-4zM190.4 400.3h4v4h-4zM194.4 400.3h4v4h-4zM214.4 408.3h4v4h-4zM218.4 412.3h4v4h-4zM222.4 420.3h4v4h-4zM222.4 436.3h4v4h-4z"/>
<path fill="#444444" d="M222.4 424.3h4v4h-4zM222.4 428.3h4v4h-4zM222.4 432.3h4v4h-4zM214.4 452.3h4v4h-4zM214.4 456.3h4v4h-4zM218.4 460.3h4v4h-4z"/>
<path fill="#454545" d="M166.4 404.3h4v4h-4zM170.4 404.3h4v4h-4zM174.4 404.3h4v4h-4z"/>
<path fill="#464646" d="M162.4 404.3h4v4h-4zM178.4 404.3h4v4h-4zM206.4 404.3h4v4h-4zM218.4 444.3h4v4h-4z"/>
<path fill="#474747" d="M182.4 404.3h4v4h-4zM214.4 448.3h4v4h-4z"/>
<path fill="#484848" d="M186.4 404.3h4v4h-4zM166.4 408.3h4v4h-4zM170.4 408.3h4v4h-4zM174.4 408.3h4v4h-4zM214.4 460.3h4v4h-4zM222.4 464.3h4v4h-4z"/>
<path fill="#494949" d="M202.4 404.3h4v4h-4zM162.4 408.3h4v4h-4zM178.4 408.3h4v4h-4zM218.4 416.3h4v4h-4zM218.4 440.3h4v4h-4zM210.4 452.3h4v4h-4zM210.4 456.3h4v4h-4z"/>
<path fill="#4a4a4a" d="M190.4 404.3h4v4h-4zM194.4 404.3h4v4h-4zM198.4 404.3h4v4h-4zM210.4 408.3h4v4h-4zM166.4 412.3h4v4h-4zM170.4 412.3h4v4h-4zM218.4 436.3h4v4h-4zM218.4 464.3h4v4h-4z"/>
<path fill="#4b4b4b" d="M182.4 408.3h4v4h-4zM162.4 412.3h4v4h-4zM174.4 412.3h4v4h-4zM214.4 412.3h4v4h-4zM214.4 444.3h4v4h-4zM210.4 460.3h4v4h-4z"/>
<path fill="#4c4c4c" d="M178.4 412.3h4v4h-4zM162.4 416.3h4v4h-4zM166.4 416.3h4v4h-4zM170.4 416.3h4v4h-4zM218.4 420.3h4v4h-4zM218.4 432.3h4v4h-4zM210.4 448.3h4v4h-4zM206.4 456.3h4v4h-4zM214.4 464.3h4v4h-4z"/>
<path fill="#4d4d4d" d="M186.4 408.3h4v4h-4zM174.4 416.3h4v4h-4zM162.4 420.3h4v4h-4zM166.4 420.3h4v4h-4zM170.4 420.3h4v4h-4zM218.4 428.3h4v4h-4zM206.4 452.3h4v4h-4zM206.4 460.3h4v4h-4zM210.4 464.3h4v4h-4z"/>
<path fill="#4e4e4e" d="M206.4 408.3h4v4h-4zM182.4 412.3h4v4h-4zM178.4 416.3h4v4h-4zM174.4 420.3h4v4h-4zM162.4 424.3h4v4h-4zM166.4 424.3h4v4h-4zM170.4 424.3h4v4h-4zM218.4 424.3h4v4h-4zM214.4 440.3h4v4h-4zM202.4 456.3h4v4h-4zM206.4 464.3h4v4h-4z"/>
<path fill="#4f4f4f" d="M190.4 408.3h4v4h-4zM178.4 420.3h4v4h-4zM174.4 424.3h4v4h-4zM162.4 428.3h4v4h-4zM166.4 428.3h4v4h-4zM170.4 428.3h4v4h-4zM210.4 444.3h4v4h-4zM206.4 448.3h4v4h-4zM202.4 452.3h4v4h-4zM202.4 460.3h4v4h-4zM202.4 464.3h4v4h-4z"/>
<path fill="#505050" d="M194.4 408.3h4v4h-4zM202.4 408.3h4v4h-4zM186.4 412.3h4v4h-4zM182.4 416.3h4v4h-4zM214.4 416.3h4v4h-4zM178.4 424.3h4v4h-4zM174.4 428.3h4v4h-4zM162.4 432.3h4v4h-4zM214.4 436.3h4v4h-4zM198.4 456.3h4v4h-4zM198.4 460.3h4v4h-4zM198.4 464.3h4v4h-4z"/>
<path fill="#515151" d="M198.4 408.3h4v4h-4zM210.4 412.3h4v4h-4zM182.4 420.3h4v4h-4zM178.4 428.3h4v4h-4zM166.4 432.3h4v4h-4zM170.4 432.3h4v4h-4zM206.4 444.3h4v4h-4zM202.4 448.3h4v4h-4zM198.4 452.3h4v4h-4zM194.4 464.3h4v4h-4z"/>
<path fill="#525252" d="M190.4 412.3h4v4h-4zM186.4 416.3h4v4h-4zM182.4 424.3h4v4h-4zM174.4 432.3h4v4h-4zM178.4 432.3h4v4h-4zM210.4 440.3h4v4h-4zM198.4 448.3h4v4h-4zM194.4 452.3h4v4h-4zM194.4 456.3h4v4h-4zM194.4 460.3h4v4h-4z"/>
<path fill="#535353" d="M182.4 428.3h4v4h-4zM182.4 432.3h4v4h-4zM214.4 432.3h4v4h-4zM162.4 436.3h4v4h-4zM198.4 444.3h4v4h-4zM202.4 444.3h4v4h-4zM194.4 448.3h4v4h-4z"/>
<path fill="#545454" d="M194.4 412.3h4v4h-4zM206.4 412.3h4v4h-4zM186.4 420.3h4v4h-4zM214.4 420.3h4v4h-4zM186.4 424.3h4v4h-4zM214.4 428.3h4v4h-4zM186.4 432.3h4v4h-4zM166.4 436.3h4v4h-4zM178.4 436.3h4v4h-4zM182.4 436.3h4v4h-4zM186.4 436.3h4v4h-4zM210.4 436.3h4v4h-4zM206.4 440.3h4v4h-4zM190.4 444.3h4v4h-4zM194.4 444.3h4v4h-4zM190.4 464.3h4v4h-4z"/>
<path fill="#555555" d="M198.4 412.3h4v4h-4zM190.4 416.3h4v4h-4zM214.4 424.3h4v4h-4zM186.4 428.3h4v4h-4zM170.4 436.3h4v4h-4zM174.4 436.3h4v4h-4zM190.4 436.3h4v4h-4zM186.4 440.3h4v4h-4zM190.4 440.3h4v4h-4zM194.4 440.3h4v4h-4zM198.4 440.3h4v4h-4zM202.4 440.3h4v4h-4zM190.4 448.3h4v4h-4z"/>
<path fill="#565656" d="M202.4 412.3h4v4h-4zM210.4 416.3h4v4h-4zM190.4 420.3h4v4h-4zM190.4 432.3h4v4h-4zM194.4 436.3h4v4h-4zM206.4 436.3h4v4h-4zM182.4 440.3h4v4h-4zM190.4 452.3h4v4h-4zM190.4 456.3h4v4h-4zM190.4 460.3h4v4h-4z"/>
<path fill="#575757" d="M194.4 416.3h4v4h-4zM190.4 424.3h4v4h-4zM190.4 428.3h4v4h-4zM210.4 432.3h4v4h-4zM198.4 436.3h4v4h-4zM202.4 436.3h4v4h-4zM162.4 440.3h4v4h-4zM186.4 444.3h4v4h-4zM186.4 468.3h4v4h-4z"/>
<path fill="#585858" d="M198.4 416.3h4v4h-4zM206.4 416.3h4v4h-4zM210.4 420.3h4v4h-4zM194.4 432.3h4v4h-4zM178.4 440.3h4v4h-4z"/>
<path fill="#595959" d="M202.4 416.3h4v4h-4zM194.4 420.3h4v4h-4zM194.4 424.3h4v4h-4zM210.4 424.3h4v4h-4zM194.4 428.3h4v4h-4zM210.4 428.3h4v4h-4zM198.4 432.3h4v4h-4zM206.4 432.3h4v4h-4zM186.4 448.3h4v4h-4z"/>
<path fill="#5a5a5a" d="M198.4 420.3h4v4h-4zM198.4 428.3h4v4h-4zM202.4 432.3h4v4h-4zM166.4 440.3h4v4h-4zM174.4 440.3h4v4h-4zM186.4 464.3h4v4h-4z"/>
<path fill="#5b5b5b" d="M202.4 420.3h4v4h-4zM206.4 420.3h4v4h-4zM198.4 424.3h4v4h-4zM206.4 424.3h4v4h-4zM202.4 428.3h4v4h-4zM206.4 428.3h4v4h-4zM170.4 440.3h4v4h-4zM182.4 444.3h4v4h-4z"/>
<path fill="#5c5c5c" d="M202.4 424.3h4v4h-4zM186.4 452.3h4v4h-4z"/>
<path fill="#5d5d5d" d="M186.4 456.3h4v4h-4zM186.4 460.3h4v4h-4zM182.4 468.3h4v4h-4z"/>
<path fill="#5f5f5f" d="M162.4 444.3h4v4h-4z"/>
<path fill="#606060" d="M178.4 444.3h4v4h-4zM182.4 448.3h4v4h-4z"/>
<path fill="#636363" d="M166.4 444.3h4v4h-4zM182.4 464.3h4v4h-4zM162.4 468.3h4v4h-4zM178.4 468.3h4v4h-4z"/>
<path fill="#646464" d="M174.4 444.3h4v4h-4z"/>
<path fill="#656565" d="M170.4 444.3h4v4h-4z"/>
<path fill="#666666" d="M182.4 452.3h4v4h-4z"/>
<path fill="#676767" d="M182.4 460.3h4v4h-4z"/>
<path fill="#686868" d="M162.4 448.3h4v4h-4zM178.4 448.3h4v4h-4zM182.4 456.3h4v4h-4z"/>
<path fill="#696969" d="M166.4 468.3h4v4h-4zM174.4 468.3h4v4h-4z"/>
<path fill="#6c6c6c" d="M170.4 468.3h4v4h-4z"/>
<path fill="#6d6d6d" d="M162.4 464.3h4v4h-4zM178.4 464.3h4v4h-4z"/>
<path fill="#6f6f6f" d="M166.4 448.3h4v4h-4zM174.4 448.3h4v4h-4z"/>
<path fill="#717171" d="M162.4 452.3h4v4h-4zM178.4 452.3h4v4h-4z"/>
<path fill="#727272" d="M170.4 448.3h4v4h-4z"/>
<path fill="#747474" d="M162.4 460.3h4v4h-4zM178.4 460.3h4v4h-4z"/>
<path fill="#757575" d="M162.4 456.3h4v4h-4zM178.4 456.3h4v4h-4zM166.4 464.3h4v4h-4zM174.4 464.3h4v4h-4z"/>
<path fill="#797979" d="M170.4 464.3h4v4h-4z"/>
<path fill="#7a7a7a" d="M166.4 452.3h4v4h-4zM174.4 452.3h4v4h-4z"/>
<path fill="#7e7e7e" d="M170.4 452.3h4v4h-4zM166.4 460.3h4v4h-4zM174.4 460.3h4v4h-4z"/>
<path fill="#808080" d="M166.4 456.3h4v4h-4zM174.4 456.3h4v4h-4z"/>
<path fill="#828282" d="M170.4 460.3h4v4h-4z"/>
<path fill="#848484" d="M170.4 456.3h4v4h-4z"/>
</g></g>
<path d="M170.40,340.30 L274.80,443.90 A305,305 0 0 1 170.40,462.00 Z" fill="none" stroke="#000" stroke-width="0.9" shape-rendering="geometricPrecision"/>
<g clip-path="url(#ccZ)"><g filter="url(#fm)">
<path fill="#050505" d="M319.6 456.3h4v4h-4z"/>
<path fill="#060606" d="M315.6 456.3h4v4h-4z"/>
<path fill="#070707" d="M323.6 456.3h4v4h-4z"/>
<path fill="#080808" d="M315.6 452.3h4v4h-4zM319.6 452.3h4v4h-4zM315.6 460.3h4v4h-4zM319.6 460.3h4v4h-4z"/>
<path fill="#090909" d="M323.6 452.3h4v4h-4zM311.6 456.3h4v4h-4zM323.6 460.3h4v4h-4z"/>
<path fill="#0b0b0b" d="M315.6 344.3h4v4h-4zM315.6 348.3h4v4h-4zM311.6 452.3h4v4h-4zM327.6 456.3h4v4h-4zM311.6 460.3h4v4h-4z"/>
<path fill="#0d0d0d" d="M327.6 452.3h4v4h-4zM327.6 460.3h4v4h-4z"/>
<path fill="#0e0e0e" d="M311.6 344.3h4v4h-4zM319.6 344.3h4v4h-4zM311.6 348.3h4v4h-4zM319.6 348.3h4v4h-4zM315.6 352.3h4v4h-4zM319.6 448.3h4v4h-4zM307.6 456.3h4v4h-4zM319.6 464.3h4v4h-4z"/>
<path fill="#0f0f0f" d="M315.6 340.3h4v4h-4zM315.6 448.3h4v4h-4zM315.6 464.3h4v4h-4z"/>
<path fill="#101010" d="M323.6 448.3h4v4h-4zM323.6 464.3h4v4h-4z"/>
<path fill="#111111" d="M311.6 352.3h4v4h-4zM319.6 352.3h4v4h-4zM307.6 452.3h4v4h-4zM331.6 456.3h4v4h-4zM307.6 460.3h4v4h-4z"/>
<path fill="#121212" d="M311.6 340.3h4v4h-4zM319.6 340.3h4v4h-4zM311.6 448.3h4v4h-4zM331.6 452.3h4v4h-4zM311.6 464.3h4v4h-4z"/>
<path fill="#131313" d="M315.6 356.3h4v4h-4zM327.6 448.3h4v4h-4zM331.6 460.3h4v4h-4z"/>
<path fill="#141414" d="M327.6 464.3h4v4h-4z"/>
<path fill="#151515" d="M319.6 356.3h4v4h-4z"/>
<path fill="#161616" d="M323.6 348.3h4v4h-4zM311.6 356.3h4v4h-4zM307.6 448.3h4v4h-4zM335.6 456.3h4v4h-4zM307.6 464.3h4v4h-4z"/>
<path fill="#171717" d="M315.6 336.3h4v4h-4zM307.6 344.3h4v4h-4zM323.6 344.3h4v4h-4zM307.6 348.3h4v4h-4zM319.6 444.3h4v4h-4zM335.6 452.3h4v4h-4z"/>
<path fill="#181818" d="M323.6 352.3h4v4h-4zM315.6 444.3h4v4h-4zM331.6 448.3h4v4h-4zM315.6 468.3h4v4h-4zM319.6 468.3h4v4h-4z"/>
<path fill="#191919" d="M307.6 352.3h4v4h-4zM323.6 444.3h4v4h-4zM339.6 456.3h4v4h-4zM335.6 460.3h4v4h-4zM331.6 464.3h4v4h-4zM323.6 468.3h4v4h-4z"/>
<path fill="#1a1a1a" d="M311.6 336.3h4v4h-4zM319.6 336.3h4v4h-4zM315.6 360.3h4v4h-4zM311.6 444.3h4v4h-4zM339.6 452.3h4v4h-4z"/>
<path fill="#1b1b1b" d="M307.6 340.3h4v4h-4zM323.6 340.3h4v4h-4zM323.6 356.3h4v4h-4zM343.6 452.3h4v4h-4zM343.6 456.3h4v4h-4zM347.6 456.3h4v4h-4zM311.6 468.3h4v4h-4z"/>
<path fill="#1c1c1c" d="M311.6 360.3h4v4h-4zM319.6 360.3h4v4h-4zM327.6 444.3h4v4h-4zM347.6 452.3h4v4h-4zM327.6 468.3h4v4h-4z"/>
<path fill="#1d1d1d" d="M307.6 356.3h4v4h-4zM335.6 448.3h4v4h-4zM351.6 452.3h4v4h-4zM351.6 456.3h4v4h-4zM339.6 460.3h4v4h-4z"/>
<path fill="#1e1e1e" d="M307.6 444.3h4v4h-4zM335.6 464.3h4v4h-4zM307.6 468.3h4v4h-4z"/>
<path fill="#202020" d="M315.6 332.3h4v4h-4zM331.6 444.3h4v4h-4zM355.6 456.3h4v4h-4z"/>
<path fill="#212121" d="M307.6 336.3h4v4h-4zM323.6 336.3h4v4h-4zM323.6 360.3h4v4h-4zM319.6 440.3h4v4h-4zM339.6 448.3h4v4h-4zM355.6 452.3h4v4h-4zM343.6 460.3h4v4h-4zM331.6 468.3h4v4h-4z"/>
<path fill="#222222" d="M311.6 332.3h4v4h-4zM319.6 332.3h4v4h-4zM327.6 348.3h4v4h-4zM327.6 352.3h4v4h-4zM315.6 440.3h4v4h-4zM323.6 440.3h4v4h-4z"/>
<path fill="#232323" d="M327.6 344.3h4v4h-4zM307.6 360.3h4v4h-4zM315.6 364.3h4v4h-4zM343.6 448.3h4v4h-4z"/>
<path fill="#242424" d="M311.6 440.3h4v4h-4zM335.6 444.3h4v4h-4zM347.6 460.3h4v4h-4zM339.6 464.3h4v4h-4z"/>
<path fill="#252525" d="M327.6 356.3h4v4h-4zM311.6 364.3h4v4h-4zM319.6 364.3h4v4h-4zM327.6 440.3h4v4h-4zM347.6 448.3h4v4h-4z"/>
<path fill="#262626" d="M327.6 340.3h4v4h-4z"/>
<path fill="#272727" d="M307.6 440.3h4v4h-4zM359.6 452.3h4v4h-4zM359.6 456.3h4v4h-4zM351.6 460.3h4v4h-4z"/>
<path fill="#282828" d="M307.6 332.3h4v4h-4zM331.6 440.3h4v4h-4zM351.6 448.3h4v4h-4z"/>
<path fill="#292929" d="M339.6 444.3h4v4h-4zM343.6 464.3h4v4h-4z"/>
<path fill="#2a2a2a" d="M327.6 360.3h4v4h-4zM307.6 364.3h4v4h-4zM319.6 436.3h4v4h-4z"/>
<path fill="#2b2b2b" d="M323.6 364.3h4v4h-4zM315.6 436.3h4v4h-4zM323.6 436.3h4v4h-4zM355.6 448.3h4v4h-4zM355.6 460.3h4v4h-4z"/>
<path fill="#2c2c2c" d="M311.6 436.3h4v4h-4zM335.6 440.3h4v4h-4z"/>
<path fill="#2d2d2d" d="M331.6 348.3h4v4h-4zM331.6 352.3h4v4h-4zM327.6 436.3h4v4h-4zM343.6 444.3h4v4h-4z"/>
<path fill="#2e2e2e" d="M331.6 344.3h4v4h-4zM359.6 448.3h4v4h-4zM363.6 452.3h4v4h-4zM363.6 456.3h4v4h-4zM347.6 464.3h4v4h-4z"/>
<path fill="#2f2f2f" d="M331.6 356.3h4v4h-4zM311.6 368.3h4v4h-4zM315.6 368.3h4v4h-4zM307.6 436.3h4v4h-4zM331.6 436.3h4v4h-4z"/>
<path fill="#303030" d="M347.6 444.3h4v4h-4zM359.6 460.3h4v4h-4z"/>
<path fill="#313131" d="M319.6 368.3h4v4h-4zM339.6 440.3h4v4h-4z"/>
<path fill="#323232" d="M327.6 364.3h4v4h-4zM315.6 432.3h4v4h-4zM319.6 432.3h4v4h-4zM323.6 432.3h4v4h-4zM363.6 440.3h4v4h-4zM351.6 444.3h4v4h-4zM363.6 448.3h4v4h-4zM351.6 464.3h4v4h-4z"/>
<path fill="#333333" d="M331.6 360.3h4v4h-4zM307.6 368.3h4v4h-4zM311.6 432.3h4v4h-4zM327.6 432.3h4v4h-4zM335.6 436.3h4v4h-4zM363.6 436.3h4v4h-4zM367.6 440.3h4v4h-4zM355.6 444.3h4v4h-4z"/>
<path fill="#343434" d="M367.6 436.3h4v4h-4zM359.6 440.3h4v4h-4zM359.6 444.3h4v4h-4zM363.6 444.3h4v4h-4z"/>
<path fill="#353535" d="M323.6 368.3h4v4h-4zM307.6 432.3h4v4h-4zM331.6 432.3h4v4h-4zM343.6 440.3h4v4h-4zM367.6 452.3h4v4h-4zM363.6 460.3h4v4h-4zM355.6 464.3h4v4h-4z"/>
<path fill="#363636" d="M319.6 428.3h4v4h-4zM339.6 436.3h4v4h-4zM359.6 436.3h4v4h-4zM367.6 444.3h4v4h-4zM367.6 456.3h4v4h-4z"/>
<path fill="#373737" d="M335.6 348.3h4v4h-4zM335.6 352.3h4v4h-4zM315.6 428.3h4v4h-4zM323.6 428.3h4v4h-4zM327.6 428.3h4v4h-4zM347.6 440.3h4v4h-4zM355.6 440.3h4v4h-4zM367.6 448.3h4v4h-4z"/>
<path fill="#383838" d="M335.6 356.3h4v4h-4zM311.6 428.3h4v4h-4zM335.6 432.3h4v4h-4zM351.6 440.3h4v4h-4zM371.6 440.3h4v4h-4z"/>
<path fill="#393939" d="M331.6 364.3h4v4h-4zM311.6 372.3h4v4h-4zM315.6 372.3h4v4h-4zM307.6 428.3h4v4h-4zM331.6 428.3h4v4h-4zM371.6 436.3h4v4h-4zM359.6 464.3h4v4h-4z"/>
<path fill="#3a3a3a" d="M335.6 360.3h4v4h-4zM307.6 372.3h4v4h-4zM315.6 424.3h4v4h-4zM319.6 424.3h4v4h-4zM323.6 424.3h4v4h-4zM327.6 424.3h4v4h-4zM363.6 432.3h4v4h-4zM343.6 436.3h4v4h-4zM355.6 436.3h4v4h-4zM371.6 444.3h4v4h-4z"/>
<path fill="#3b3b3b" d="M327.6 368.3h4v4h-4zM319.6 372.3h4v4h-4zM319.6 420.3h4v4h-4zM323.6 420.3h4v4h-4zM311.6 424.3h4v4h-4zM331.6 424.3h4v4h-4zM335.6 428.3h4v4h-4zM339.6 432.3h4v4h-4zM367.6 432.3h4v4h-4zM367.6 460.3h4v4h-4z"/>
<path fill="#3c3c3c" d="M323.6 416.3h4v4h-4zM315.6 420.3h4v4h-4zM327.6 420.3h4v4h-4zM307.6 424.3h4v4h-4zM359.6 432.3h4v4h-4zM347.6 436.3h4v4h-4zM351.6 436.3h4v4h-4zM371.6 448.3h4v4h-4zM371.6 452.3h4v4h-4zM371.6 456.3h4v4h-4zM363.6 464.3h4v4h-4z"/>
<path fill="#3d3d3d" d="M339.6 352.3h4v4h-4zM319.6 412.3h4v4h-4zM323.6 412.3h4v4h-4zM315.6 416.3h4v4h-4zM319.6 416.3h4v4h-4zM327.6 416.3h4v4h-4zM311.6 420.3h4v4h-4zM331.6 420.3h4v4h-4zM335.6 424.3h4v4h-4z"/>
<path fill="#3e3e3e" d="M339.6 356.3h4v4h-4zM335.6 364.3h4v4h-4zM319.6 408.3h4v4h-4zM323.6 408.3h4v4h-4zM315.6 412.3h4v4h-4zM327.6 412.3h4v4h-4zM311.6 416.3h4v4h-4zM331.6 416.3h4v4h-4zM307.6 420.3h4v4h-4zM339.6 428.3h4v4h-4zM343.6 432.3h4v4h-4z"/>
<path fill="#3f3f3f" d="M339.6 360.3h4v4h-4zM331.6 368.3h4v4h-4zM323.6 372.3h4v4h-4zM307.6 376.3h4v4h-4zM323.6 404.3h4v4h-4zM315.6 408.3h4v4h-4zM327.6 408.3h4v4h-4zM311.6 412.3h4v4h-4zM331.6 412.3h4v4h-4zM307.6 416.3h4v4h-4zM335.6 416.3h4v4h-4zM335.6 420.3h4v4h-4zM355.6 432.3h4v4h-4zM375.6 440.3h4v4h-4zM371.6 460.3h4v4h-4zM367.6 464.3h4v4h-4z"/>
<path fill="#404040" d="M311.6 376.3h4v4h-4zM315.6 404.3h4v4h-4zM319.6 404.3h4v4h-4zM327.6 404.3h4v4h-4zM307.6 408.3h4v4h-4zM311.6 408.3h4v4h-4zM331.6 408.3h4v4h-4zM307.6 412.3h4v4h-4zM335.6 412.3h4v4h-4zM339.6 424.3h4v4h-4zM347.6 432.3h4v4h-4zM371.6 432.3h4v4h-4zM375.6 444.3h4v4h-4z"/>
<path fill="#414141" d="M343.6 356.3h4v4h-4zM339.6 364.3h4v4h-4zM315.6 376.3h4v4h-4zM315.6 400.3h4v4h-4zM319.6 400.3h4v4h-4zM323.6 400.3h4v4h-4zM307.6 404.3h4v4h-4zM311.6 404.3h4v4h-4zM331.6 404.3h4v4h-4zM335.6 408.3h4v4h-4zM339.6 420.3h4v4h-4zM343.6 428.3h4v4h-4zM351.6 432.3h4v4h-4zM375.6 436.3h4v4h-4zM375.6 448.3h4v4h-4zM375.6 452.3h4v4h-4zM375.6 456.3h4v4h-4zM375.6 460.3h4v4h-4z"/>
<path fill="#424242" d="M343.6 360.3h4v4h-4zM335.6 368.3h4v4h-4zM327.6 372.3h4v4h-4zM319.6 376.3h4v4h-4zM307.6 400.3h4v4h-4zM311.6 400.3h4v4h-4zM327.6 400.3h4v4h-4zM335.6 404.3h4v4h-4zM339.6 412.3h4v4h-4zM339.6 416.3h4v4h-4z"/>
<path fill="#434343" d="M347.6 360.3h4v4h-4zM343.6 364.3h4v4h-4zM347.6 364.3h4v4h-4zM351.6 364.3h4v4h-4zM355.6 368.3h4v4h-4zM307.6 380.3h4v4h-4zM311.6 380.3h4v4h-4zM307.6 396.3h4v4h-4zM311.6 396.3h4v4h-4zM315.6 396.3h4v4h-4zM319.6 396.3h4v4h-4zM323.6 396.3h4v4h-4zM331.6 400.3h4v4h-4zM339.6 408.3h4v4h-4zM343.6 424.3h4v4h-4zM379.6 456.3h4v4h-4zM379.6 460.3h4v4h-4z"/>
<path fill="#444444" d="M339.6 368.3h4v4h-4zM343.6 368.3h4v4h-4zM347.6 368.3h4v4h-4zM351.6 368.3h4v4h-4zM331.6 372.3h4v4h-4zM351.6 372.3h4v4h-4zM355.6 372.3h4v4h-4zM359.6 372.3h4v4h-4zM359.6 376.3h4v4h-4zM363.6 376.3h4v4h-4zM307.6 384.3h4v4h-4zM307.6 388.3h4v4h-4zM307.6 392.3h4v4h-4zM311.6 392.3h4v4h-4zM327.6 396.3h4v4h-4zM335.6 400.3h4v4h-4zM339.6 404.3h4v4h-4zM343.6 420.3h4v4h-4zM347.6 428.3h4v4h-4zM379.6 452.3h4v4h-4zM383.6 460.3h4v4h-4z"/>
<path fill="#454545" d="M347.6 372.3h4v4h-4zM323.6 376.3h4v4h-4zM351.6 376.3h4v4h-4zM355.6 376.3h4v4h-4zM315.6 380.3h4v4h-4zM355.6 380.3h4v4h-4zM359.6 380.3h4v4h-4zM363.6 380.3h4v4h-4zM367.6 380.3h4v4h-4zM311.6 384.3h4v4h-4zM311.6 388.3h4v4h-4zM315.6 392.3h4v4h-4zM319.6 392.3h4v4h-4zM331.6 396.3h4v4h-4zM335.6 396.3h4v4h-4zM339.6 400.3h4v4h-4zM343.6 412.3h4v4h-4zM343.6 416.3h4v4h-4zM351.6 428.3h4v4h-4zM359.6 428.3h4v4h-4zM363.6 428.3h4v4h-4zM379.6 448.3h4v4h-4zM383.6 456.3h4v4h-4zM387.6 456.3h4v4h-4zM391.6 456.3h4v4h-4z"/>
<path fill="#464646" d="M335.6 372.3h4v4h-4zM339.6 372.3h4v4h-4zM343.6 372.3h4v4h-4zM347.6 376.3h4v4h-4zM319.6 380.3h4v4h-4zM351.6 380.3h4v4h-4zM315.6 384.3h4v4h-4zM351.6 384.3h4v4h-4zM355.6 384.3h4v4h-4zM359.6 384.3h4v4h-4zM315.6 388.3h4v4h-4zM323.6 392.3h4v4h-4zM327.6 392.3h4v4h-4zM339.6 396.3h4v4h-4zM343.6 400.3h4v4h-4zM343.6 404.3h4v4h-4zM343.6 408.3h4v4h-4zM347.6 424.3h4v4h-4zM355.6 428.3h4v4h-4zM379.6 444.3h4v4h-4zM383.6 452.3h4v4h-4zM395.6 456.3h4v4h-4zM399.6 456.3h4v4h-4z"/>
<path fill="#474747" d="M327.6 376.3h4v4h-4zM343.6 376.3h4v4h-4zM347.6 380.3h4v4h-4zM319.6 384.3h4v4h-4zM347.6 384.3h4v4h-4zM363.6 384.3h4v4h-4zM367.6 384.3h4v4h-4zM371.6 384.3h4v4h-4zM319.6 388.3h4v4h-4zM347.6 388.3h4v4h-4zM351.6 388.3h4v4h-4zM355.6 388.3h4v4h-4zM331.6 392.3h4v4h-4zM335.6 392.3h4v4h-4zM339.6 392.3h4v4h-4zM343.6 392.3h4v4h-4zM343.6 396.3h4v4h-4zM367.6 428.3h4v4h-4zM379.6 440.3h4v4h-4zM387.6 452.3h4v4h-4zM391.6 452.3h4v4h-4z"/>
<path fill="#484848" d="M331.6 376.3h4v4h-4zM335.6 376.3h4v4h-4zM339.6 376.3h4v4h-4zM323.6 380.3h4v4h-4zM343.6 380.3h4v4h-4zM323.6 384.3h4v4h-4zM343.6 384.3h4v4h-4zM323.6 388.3h4v4h-4zM327.6 388.3h4v4h-4zM339.6 388.3h4v4h-4zM343.6 388.3h4v4h-4zM359.6 388.3h4v4h-4zM363.6 388.3h4v4h-4zM347.6 392.3h4v4h-4zM351.6 392.3h4v4h-4zM347.6 396.3h4v4h-4zM347.6 400.3h4v4h-4zM347.6 404.3h4v4h-4zM347.6 416.3h4v4h-4zM347.6 420.3h4v4h-4zM375.6 432.3h4v4h-4zM383.6 448.3h4v4h-4zM395.6 452.3h4v4h-4zM399.6 452.3h4v4h-4z"/>
<path fill="#494949" d="M327.6 380.3h4v4h-4zM331.6 380.3h4v4h-4zM335.6 380.3h4v4h-4zM339.6 380.3h4v4h-4zM327.6 384.3h4v4h-4zM335.6 384.3h4v4h-4zM339.6 384.3h4v4h-4zM331.6 388.3h4v4h-4zM335.6 388.3h4v4h-4zM367.6 388.3h4v4h-4zM355.6 392.3h4v4h-4zM351.6 396.3h4v4h-4zM347.6 408.3h4v4h-4zM347.6 412.3h4v4h-4zM351.6 424.3h4v4h-4zM387.6 448.3h4v4h-4z"/>
<path fill="#4a4a4a" d="M331.6 384.3h4v4h-4zM371.6 388.3h4v4h-4zM375.6 388.3h4v4h-4zM359.6 392.3h4v4h-4zM355.6 396.3h4v4h-4zM351.6 400.3h4v4h-4zM379.6 436.3h4v4h-4zM383.6 444.3h4v4h-4zM391.6 448.3h4v4h-4zM395.6 448.3h4v4h-4zM403.6 452.3h4v4h-4z"/>
<path fill="#4b4b4b" d="M363.6 392.3h4v4h-4zM351.6 404.3h4v4h-4zM351.6 420.3h4v4h-4zM355.6 424.3h4v4h-4zM371.6 428.3h4v4h-4z"/>
<path fill="#4c4c4c" d="M367.6 392.3h4v4h-4zM359.6 396.3h4v4h-4zM355.6 400.3h4v4h-4zM351.6 408.3h4v4h-4zM351.6 412.3h4v4h-4zM351.6 416.3h4v4h-4zM383.6 440.3h4v4h-4zM387.6 444.3h4v4h-4zM399.6 448.3h4v4h-4zM423.6 448.3h4v4h-4zM407.6 452.3h4v4h-4z"/>
<path fill="#4d4d4d" d="M371.6 392.3h4v4h-4zM359.6 424.3h4v4h-4zM391.6 444.3h4v4h-4zM395.6 444.3h4v4h-4z"/>
<path fill="#4e4e4e" d="M375.6 392.3h4v4h-4zM379.6 392.3h4v4h-4zM363.6 396.3h4v4h-4zM359.6 400.3h4v4h-4zM355.6 404.3h4v4h-4zM411.6 452.3h4v4h-4z"/>
<path fill="#4f4f4f" d="M367.6 396.3h4v4h-4zM355.6 408.3h4v4h-4zM355.6 420.3h4v4h-4zM363.6 424.3h4v4h-4zM387.6 440.3h4v4h-4zM399.6 444.3h4v4h-4zM403.6 448.3h4v4h-4z"/>
<path fill="#505050" d="M371.6 396.3h4v4h-4zM355.6 412.3h4v4h-4zM355.6 416.3h4v4h-4zM379.6 432.3h4v4h-4zM383.6 436.3h4v4h-4zM423.6 436.3h4v4h-4zM391.6 440.3h4v4h-4zM395.6 440.3h4v4h-4zM423.6 444.3h4v4h-4z"/>
<path fill="#515151" d="M375.6 396.3h4v4h-4zM363.6 400.3h4v4h-4zM359.6 404.3h4v4h-4zM411.6 424.3h4v4h-4zM375.6 428.3h4v4h-4zM423.6 440.3h4v4h-4zM419.6 448.3h4v4h-4z"/>
<path fill="#525252" d="M379.6 396.3h4v4h-4zM383.6 396.3h4v4h-4zM359.6 420.3h4v4h-4zM367.6 424.3h4v4h-4zM415.6 428.3h4v4h-4zM399.6 440.3h4v4h-4zM407.6 448.3h4v4h-4z"/>
<path fill="#535353" d="M367.6 400.3h4v4h-4zM359.6 408.3h4v4h-4zM407.6 420.3h4v4h-4zM407.6 424.3h4v4h-4zM411.6 428.3h4v4h-4zM419.6 432.3h4v4h-4zM387.6 436.3h4v4h-4zM403.6 444.3h4v4h-4z"/>
<path fill="#545454" d="M371.6 400.3h4v4h-4zM363.6 404.3h4v4h-4zM359.6 412.3h4v4h-4zM359.6 416.3h4v4h-4zM407.6 428.3h4v4h-4zM391.6 436.3h4v4h-4zM395.6 436.3h4v4h-4zM399.6 436.3h4v4h-4z"/>
<path fill="#555555" d="M363.6 420.3h4v4h-4zM371.6 424.3h4v4h-4zM403.6 428.3h4v4h-4zM383.6 432.3h4v4h-4zM399.6 432.3h4v4h-4zM403.6 432.3h4v4h-4zM403.6 436.3h4v4h-4zM403.6 440.3h4v4h-4zM411.6 448.3h4v4h-4zM415.6 448.3h4v4h-4z"/>
<path fill="#565656" d="M375.6 400.3h4v4h-4zM379.6 400.3h4v4h-4zM383.6 400.3h4v4h-4zM387.6 400.3h4v4h-4zM367.6 404.3h4v4h-4zM363.6 408.3h4v4h-4zM403.6 416.3h4v4h-4zM403.6 424.3h4v4h-4zM407.6 432.3h4v4h-4zM415.6 432.3h4v4h-4z"/>
<path fill="#575757" d="M403.6 420.3h4v4h-4zM379.6 428.3h4v4h-4zM399.6 428.3h4v4h-4zM387.6 432.3h4v4h-4zM395.6 432.3h4v4h-4zM411.6 432.3h4v4h-4zM419.6 436.3h4v4h-4zM407.6 444.3h4v4h-4zM419.6 444.3h4v4h-4z"/>
<path fill="#585858" d="M371.6 404.3h4v4h-4zM391.6 404.3h4v4h-4zM363.6 412.3h4v4h-4zM363.6 416.3h4v4h-4zM391.6 432.3h4v4h-4z"/>
<path fill="#595959" d="M367.6 408.3h4v4h-4zM399.6 412.3h4v4h-4zM367.6 420.3h4v4h-4zM399.6 424.3h4v4h-4zM407.6 436.3h4v4h-4zM419.6 440.3h4v4h-4z"/>
<path fill="#5a5a5a" d="M375.6 404.3h4v4h-4zM387.6 404.3h4v4h-4zM395.6 408.3h4v4h-4zM399.6 416.3h4v4h-4zM399.6 420.3h4v4h-4zM375.6 424.3h4v4h-4zM395.6 428.3h4v4h-4zM407.6 440.3h4v4h-4z"/>
<path fill="#5b5b5b" d="M379.6 404.3h4v4h-4zM383.6 404.3h4v4h-4zM367.6 412.3h4v4h-4zM383.6 428.3h4v4h-4zM391.6 428.3h4v4h-4zM415.6 436.3h4v4h-4zM411.6 444.3h4v4h-4zM415.6 444.3h4v4h-4z"/>
<path fill="#5c5c5c" d="M371.6 408.3h4v4h-4zM391.6 408.3h4v4h-4zM395.6 412.3h4v4h-4zM367.6 416.3h4v4h-4zM371.6 420.3h4v4h-4zM395.6 424.3h4v4h-4zM387.6 428.3h4v4h-4zM411.6 436.3h4v4h-4z"/>
<path fill="#5d5d5d" d="M395.6 416.3h4v4h-4zM395.6 420.3h4v4h-4zM379.6 424.3h4v4h-4z"/>
<path fill="#5e5e5e" d="M375.6 408.3h4v4h-4zM387.6 408.3h4v4h-4zM371.6 412.3h4v4h-4zM391.6 424.3h4v4h-4zM411.6 440.3h4v4h-4zM415.6 440.3h4v4h-4z"/>
<path fill="#5f5f5f" d="M379.6 408.3h4v4h-4zM383.6 408.3h4v4h-4zM391.6 412.3h4v4h-4zM371.6 416.3h4v4h-4zM375.6 420.3h4v4h-4zM383.6 424.3h4v4h-4z"/>
<path fill="#606060" d="M375.6 412.3h4v4h-4zM387.6 412.3h4v4h-4zM391.6 416.3h4v4h-4zM391.6 420.3h4v4h-4zM387.6 424.3h4v4h-4z"/>
<path fill="#616161" d="M379.6 412.3h4v4h-4zM383.6 412.3h4v4h-4zM375.6 416.3h4v4h-4zM379.6 420.3h4v4h-4z"/>
<path fill="#626262" d="M387.6 416.3h4v4h-4zM383.6 420.3h4v4h-4zM387.6 420.3h4v4h-4z"/>
<path fill="#636363" d="M379.6 416.3h4v4h-4zM383.6 416.3h4v4h-4z"/>
</g></g>
<path d="M315.60,340.30 L420.00,443.90 A305,305 0 0 1 315.60,462.00 Z" fill="none" stroke="#000" stroke-width="0.9" shape-rendering="geometricPrecision"/>
<g clip-path="url(#cdX)"><g filter="url(#fm)">
<path fill="#242424" d="M591.3 389.2h4v4h-4z"/>
<path fill="#292929" d="M587.3 385.2h4v4h-4zM587.3 389.2h4v4h-4z"/>
<path fill="#2b2b2b" d="M591.3 393.2h4v4h-4z"/>
<path fill="#2c2c2c" d="M595.3 393.2h4v4h-4z"/>
<path fill="#303030" d="M591.3 385.2h4v4h-4z"/>
<path fill="#323232" d="M595.3 389.2h4v4h-4z"/>
<path fill="#333333" d="M583.3 385.2h4v4h-4z"/>
<path fill="#373737" d="M583.3 381.2h4v4h-4zM595.3 397.2h4v4h-4z"/>
<path fill="#383838" d="M587.3 381.2h4v4h-4z"/>
<path fill="#3c3c3c" d="M587.3 393.2h4v4h-4zM599.3 393.2h4v4h-4zM599.3 397.2h4v4h-4z"/>
<path fill="#3e3e3e" d="M583.3 389.2h4v4h-4z"/>
<path fill="#424242" d="M579.3 381.2h4v4h-4zM591.3 397.2h4v4h-4z"/>
<path fill="#444444" d="M595.3 385.2h4v4h-4z"/>
<path fill="#464646" d="M583.3 377.2h4v4h-4zM591.3 381.2h4v4h-4z"/>
<path fill="#484848" d="M579.3 377.2h4v4h-4zM579.3 385.2h4v4h-4zM599.3 389.2h4v4h-4z"/>
<path fill="#494949" d="M599.3 401.2h4v4h-4z"/>
<path fill="#4b4b4b" d="M603.3 397.2h4v4h-4z"/>
<path fill="#4d4d4d" d="M587.3 377.2h4v4h-4z"/>
<path fill="#4e4e4e" d="M595.3 401.2h4v4h-4zM603.3 401.2h4v4h-4z"/>
<path fill="#515151" d="M603.3 393.2h4v4h-4z"/>
<path fill="#525252" d="M575.3 377.2h4v4h-4z"/>
<path fill="#535353" d="M579.3 373.2h4v4h-4z"/>
<path fill="#545454" d="M575.3 381.2h4v4h-4zM583.3 393.2h4v4h-4z"/>
<path fill="#565656" d="M575.3 373.2h4v4h-4zM583.3 373.2h4v4h-4zM595.3 381.2h4v4h-4zM587.3 397.2h4v4h-4z"/>
<path fill="#575757" d="M599.3 385.2h4v4h-4zM579.3 389.2h4v4h-4zM551.3 457.2h4v4h-4zM555.3 457.2h4v4h-4z"/>
<path fill="#585858" d="M591.3 377.2h4v4h-4zM607.3 401.2h4v4h-4zM603.3 405.2h4v4h-4z"/>
<path fill="#595959" d="M547.3 457.2h4v4h-4z"/>
<path fill="#5a5a5a" d="M603.3 389.2h4v4h-4zM607.3 397.2h4v4h-4zM559.3 457.2h4v4h-4zM551.3 461.2h4v4h-4zM555.3 461.2h4v4h-4z"/>
<path fill="#5b5b5b" d="M599.3 405.2h4v4h-4zM607.3 405.2h4v4h-4zM551.3 453.2h4v4h-4zM555.3 453.2h4v4h-4zM547.3 461.2h4v4h-4z"/>
<path fill="#5c5c5c" d="M587.3 373.2h4v4h-4zM547.3 453.2h4v4h-4zM543.3 457.2h4v4h-4zM559.3 461.2h4v4h-4z"/>
<path fill="#5d5d5d" d="M575.3 369.2h4v4h-4zM575.3 385.2h4v4h-4zM591.3 401.2h4v4h-4z"/>
<path fill="#5e5e5e" d="M579.3 369.2h4v4h-4zM571.3 373.2h4v4h-4zM571.3 377.2h4v4h-4zM627.3 421.2h4v4h-4zM627.3 425.2h4v4h-4zM559.3 453.2h4v4h-4zM543.3 461.2h4v4h-4z"/>
<path fill="#5f5f5f" d="M607.3 393.2h4v4h-4zM627.3 417.2h4v4h-4zM623.3 421.2h4v4h-4zM631.3 421.2h4v4h-4zM623.3 425.2h4v4h-4zM631.3 425.2h4v4h-4zM635.3 425.2h4v4h-4zM623.3 429.2h4v4h-4zM627.3 429.2h4v4h-4zM631.3 429.2h4v4h-4zM543.3 453.2h4v4h-4zM563.3 457.2h4v4h-4z"/>
<path fill="#606060" d="M571.3 369.2h4v4h-4zM611.3 405.2h4v4h-4zM623.3 417.2h4v4h-4zM631.3 417.2h4v4h-4zM635.3 417.2h4v4h-4zM619.3 421.2h4v4h-4zM635.3 421.2h4v4h-4zM619.3 425.2h4v4h-4zM639.3 425.2h4v4h-4zM635.3 429.2h4v4h-4zM627.3 433.2h4v4h-4zM631.3 433.2h4v4h-4zM539.3 457.2h4v4h-4zM551.3 465.2h4v4h-4z"/>
<path fill="#616161" d="M583.3 369.2h4v4h-4zM599.3 381.2h4v4h-4zM611.3 401.2h4v4h-4zM607.3 409.2h4v4h-4zM623.3 413.2h4v4h-4zM627.3 413.2h4v4h-4zM631.3 413.2h4v4h-4zM619.3 417.2h4v4h-4zM639.3 421.2h4v4h-4zM619.3 429.2h4v4h-4zM639.3 429.2h4v4h-4zM623.3 433.2h4v4h-4zM635.3 433.2h4v4h-4zM539.3 461.2h4v4h-4zM563.3 461.2h4v4h-4zM547.3 465.2h4v4h-4zM555.3 465.2h4v4h-4z"/>
<path fill="#626262" d="M595.3 377.2h4v4h-4zM611.3 409.2h4v4h-4zM615.3 413.2h4v4h-4zM619.3 413.2h4v4h-4zM615.3 417.2h4v4h-4zM615.3 421.2h4v4h-4zM643.3 425.2h4v4h-4zM643.3 429.2h4v4h-4zM639.3 433.2h4v4h-4zM627.3 437.2h4v4h-4zM631.3 437.2h4v4h-4zM635.3 437.2h4v4h-4zM539.3 453.2h4v4h-4zM543.3 465.2h4v4h-4zM559.3 465.2h4v4h-4z"/>
<path fill="#636363" d="M547.3 349.2h4v4h-4zM547.3 353.2h4v4h-4zM571.3 365.2h4v4h-4zM575.3 365.2h4v4h-4zM591.3 373.2h4v4h-4zM603.3 385.2h4v4h-4zM611.3 397.2h4v4h-4zM615.3 409.2h4v4h-4zM619.3 409.2h4v4h-4zM623.3 409.2h4v4h-4zM627.3 409.2h4v4h-4zM615.3 425.2h4v4h-4zM647.3 429.2h4v4h-4zM619.3 433.2h4v4h-4zM643.3 433.2h4v4h-4zM647.3 433.2h4v4h-4zM623.3 437.2h4v4h-4zM639.3 437.2h4v4h-4zM643.3 437.2h4v4h-4zM539.3 465.2h4v4h-4z"/>
<path fill="#646464" d="M543.3 345.2h4v4h-4zM547.3 345.2h4v4h-4zM551.3 345.2h4v4h-4zM543.3 349.2h4v4h-4zM551.3 349.2h4v4h-4zM555.3 349.2h4v4h-4zM543.3 353.2h4v4h-4zM551.3 353.2h4v4h-4zM555.3 353.2h4v4h-4zM547.3 357.2h4v4h-4zM579.3 365.2h4v4h-4zM567.3 369.2h4v4h-4zM587.3 369.2h4v4h-4zM571.3 381.2h4v4h-4zM615.3 405.2h4v4h-4zM603.3 409.2h4v4h-4zM611.3 413.2h4v4h-4zM615.3 429.2h4v4h-4zM651.3 433.2h4v4h-4zM647.3 437.2h4v4h-4zM627.3 441.2h4v4h-4zM631.3 441.2h4v4h-4zM635.3 441.2h4v4h-4zM639.3 441.2h4v4h-4zM643.3 441.2h4v4h-4zM547.3 449.2h4v4h-4zM551.3 449.2h4v4h-4zM563.3 453.2h4v4h-4z"/>
<path fill="#656565" d="M543.3 337.2h4v4h-4zM547.3 337.2h4v4h-4zM551.3 337.2h4v4h-4zM555.3 337.2h4v4h-4zM539.3 341.2h4v4h-4zM543.3 341.2h4v4h-4zM547.3 341.2h4v4h-4zM551.3 341.2h4v4h-4zM555.3 341.2h4v4h-4zM539.3 345.2h4v4h-4zM555.3 345.2h4v4h-4zM559.3 345.2h4v4h-4zM539.3 349.2h4v4h-4zM559.3 349.2h4v4h-4zM539.3 353.2h4v4h-4zM559.3 353.2h4v4h-4zM543.3 357.2h4v4h-4zM551.3 357.2h4v4h-4zM555.3 357.2h4v4h-4zM567.3 365.2h4v4h-4zM567.3 373.2h4v4h-4zM607.3 389.2h4v4h-4zM615.3 401.2h4v4h-4zM595.3 405.2h4v4h-4zM619.3 405.2h4v4h-4zM623.3 405.2h4v4h-4zM611.3 417.2h4v4h-4zM619.3 437.2h4v4h-4zM651.3 437.2h4v4h-4zM655.3 437.2h4v4h-4zM623.3 441.2h4v4h-4zM647.3 441.2h4v4h-4zM651.3 441.2h4v4h-4zM655.3 441.2h4v4h-4zM631.3 445.2h4v4h-4zM635.3 445.2h4v4h-4zM639.3 445.2h4v4h-4zM643.3 445.2h4v4h-4zM647.3 445.2h4v4h-4zM651.3 445.2h4v4h-4zM639.3 449.2h4v4h-4zM643.3 449.2h4v4h-4zM563.3 465.2h4v4h-4zM547.3 469.2h4v4h-4z"/>
<path fill="#666666" d="M539.3 333.2h4v4h-4zM543.3 333.2h4v4h-4zM547.3 333.2h4v4h-4zM551.3 333.2h4v4h-4zM539.3 337.2h4v4h-4zM559.3 341.2h4v4h-4zM563.3 345.2h4v4h-4zM563.3 349.2h4v4h-4zM567.3 349.2h4v4h-4zM563.3 353.2h4v4h-4zM567.3 353.2h4v4h-4zM539.3 357.2h4v4h-4zM559.3 357.2h4v4h-4zM563.3 357.2h4v4h-4zM567.3 357.2h4v4h-4zM571.3 357.2h4v4h-4zM567.3 361.2h4v4h-4zM571.3 361.2h4v4h-4zM575.3 361.2h4v4h-4zM579.3 361.2h4v4h-4zM583.3 365.2h4v4h-4zM611.3 393.2h4v4h-4zM619.3 401.2h4v4h-4zM611.3 421.2h4v4h-4zM615.3 433.2h4v4h-4zM627.3 445.2h4v4h-4zM655.3 445.2h4v4h-4zM543.3 449.2h4v4h-4zM555.3 449.2h4v4h-4zM631.3 449.2h4v4h-4zM635.3 449.2h4v4h-4zM647.3 449.2h4v4h-4zM651.3 449.2h4v4h-4zM655.3 449.2h4v4h-4zM635.3 453.2h4v4h-4zM639.3 453.2h4v4h-4zM643.3 453.2h4v4h-4zM647.3 453.2h4v4h-4zM567.3 457.2h4v4h-4zM635.3 457.2h4v4h-4zM567.3 461.2h4v4h-4zM539.3 469.2h4v4h-4zM543.3 469.2h4v4h-4zM551.3 469.2h4v4h-4zM555.3 469.2h4v4h-4z"/>
<path fill="#676767" d="M571.3 353.2h4v4h-4zM575.3 357.2h4v4h-4zM539.3 361.2h4v4h-4zM543.3 361.2h4v4h-4zM547.3 361.2h4v4h-4zM551.3 361.2h4v4h-4zM555.3 361.2h4v4h-4zM559.3 361.2h4v4h-4zM563.3 361.2h4v4h-4zM563.3 365.2h4v4h-4zM615.3 397.2h4v4h-4zM607.3 413.2h4v4h-4zM611.3 425.2h4v4h-4zM623.3 445.2h4v4h-4zM539.3 449.2h4v4h-4zM627.3 449.2h4v4h-4zM631.3 453.2h4v4h-4zM631.3 457.2h4v4h-4z"/>
<path fill="#686868" d="M611.3 429.2h4v4h-4zM619.3 441.2h4v4h-4zM627.3 453.2h4v4h-4zM559.3 469.2h4v4h-4z"/>
<path fill="#696969" d="M559.3 365.2h4v4h-4zM563.3 369.2h4v4h-4zM567.3 377.2h4v4h-4zM575.3 389.2h4v4h-4zM579.3 393.2h4v4h-4zM615.3 437.2h4v4h-4zM623.3 449.2h4v4h-4zM627.3 457.2h4v4h-4zM567.3 465.2h4v4h-4z"/>
<path fill="#6a6a6a" d="M539.3 365.2h4v4h-4zM555.3 365.2h4v4h-4zM583.3 397.2h4v4h-4zM607.3 417.2h4v4h-4zM619.3 445.2h4v4h-4zM559.3 449.2h4v4h-4zM623.3 453.2h4v4h-4zM563.3 469.2h4v4h-4z"/>
<path fill="#6b6b6b" d="M543.3 365.2h4v4h-4zM547.3 365.2h4v4h-4zM551.3 365.2h4v4h-4zM571.3 385.2h4v4h-4zM599.3 409.2h4v4h-4zM611.3 433.2h4v4h-4z"/>
<path fill="#6c6c6c" d="M559.3 369.2h4v4h-4zM563.3 373.2h4v4h-4zM607.3 421.2h4v4h-4zM615.3 441.2h4v4h-4zM567.3 453.2h4v4h-4zM623.3 457.2h4v4h-4zM571.3 461.2h4v4h-4zM567.3 469.2h4v4h-4z"/>
<path fill="#6d6d6d" d="M603.3 413.2h4v4h-4zM607.3 425.2h4v4h-4zM539.3 445.2h4v4h-4zM543.3 445.2h4v4h-4zM619.3 449.2h4v4h-4zM571.3 465.2h4v4h-4z"/>
<path fill="#6e6e6e" d="M539.3 369.2h4v4h-4zM567.3 381.2h4v4h-4zM587.3 401.2h4v4h-4zM547.3 445.2h4v4h-4zM571.3 457.2h4v4h-4zM571.3 469.2h4v4h-4z"/>
<path fill="#6f6f6f" d="M555.3 369.2h4v4h-4zM607.3 429.2h4v4h-4zM611.3 437.2h4v4h-4zM619.3 453.2h4v4h-4z"/>
<path fill="#707070" d="M543.3 369.2h4v4h-4zM551.3 369.2h4v4h-4zM559.3 373.2h4v4h-4zM563.3 377.2h4v4h-4zM551.3 445.2h4v4h-4zM615.3 445.2h4v4h-4zM575.3 469.2h4v4h-4z"/>
<path fill="#717171" d="M547.3 369.2h4v4h-4zM603.3 417.2h4v4h-4zM563.3 449.2h4v4h-4zM619.3 457.2h4v4h-4zM575.3 465.2h4v4h-4zM579.3 469.2h4v4h-4z"/>
<path fill="#727272" d="M539.3 441.2h4v4h-4zM575.3 461.2h4v4h-4z"/>
<path fill="#737373" d="M539.3 373.2h4v4h-4zM567.3 385.2h4v4h-4zM571.3 389.2h4v4h-4zM591.3 405.2h4v4h-4zM607.3 433.2h4v4h-4zM619.3 461.2h4v4h-4z"/>
<path fill="#747474" d="M555.3 373.2h4v4h-4zM603.3 421.2h4v4h-4zM543.3 441.2h4v4h-4zM611.3 441.2h4v4h-4zM555.3 445.2h4v4h-4zM615.3 449.2h4v4h-4zM579.3 465.2h4v4h-4z"/>
<path fill="#757575" d="M563.3 381.2h4v4h-4zM575.3 393.2h4v4h-4zM599.3 413.2h4v4h-4zM539.3 437.2h4v4h-4z"/>
<path fill="#767676" d="M559.3 377.2h4v4h-4zM595.3 409.2h4v4h-4zM571.3 453.2h4v4h-4z"/>
<path fill="#777777" d="M543.3 373.2h4v4h-4zM551.3 373.2h4v4h-4zM603.3 425.2h4v4h-4zM547.3 441.2h4v4h-4zM575.3 457.2h4v4h-4z"/>
<path fill="#787878" d="M547.3 373.2h4v4h-4zM579.3 397.2h4v4h-4zM539.3 433.2h4v4h-4zM615.3 453.2h4v4h-4zM579.3 461.2h4v4h-4zM583.3 465.2h4v4h-4z"/>
<path fill="#797979" d="M563.3 385.2h4v4h-4zM567.3 389.2h4v4h-4zM543.3 437.2h4v4h-4zM607.3 437.2h4v4h-4z"/>
<path fill="#7a7a7a" d="M539.3 377.2h4v4h-4zM539.3 429.2h4v4h-4zM603.3 429.2h4v4h-4zM559.3 445.2h4v4h-4zM611.3 445.2h4v4h-4zM567.3 449.2h4v4h-4z"/>
<path fill="#7b7b7b" d="M555.3 377.2h4v4h-4zM559.3 381.2h4v4h-4zM571.3 393.2h4v4h-4zM599.3 417.2h4v4h-4zM551.3 441.2h4v4h-4zM615.3 457.2h4v4h-4z"/>
<path fill="#7c7c7c" d="M583.3 401.2h4v4h-4zM539.3 425.2h4v4h-4zM543.3 433.2h4v4h-4zM615.3 461.2h4v4h-4z"/>
<path fill="#7d7d7d" d="M547.3 437.2h4v4h-4z"/>
<path fill="#7e7e7e" d="M543.3 377.2h4v4h-4zM563.3 389.2h4v4h-4zM567.3 393.2h4v4h-4zM587.3 465.2h4v4h-4z"/>
<path fill="#7f7f7f" d="M551.3 377.2h4v4h-4zM575.3 397.2h4v4h-4zM539.3 421.2h4v4h-4zM543.3 429.2h4v4h-4zM579.3 457.2h4v4h-4zM583.3 461.2h4v4h-4z"/>
<path fill="#808080" d="M547.3 377.2h4v4h-4zM539.3 381.2h4v4h-4zM559.3 385.2h4v4h-4zM587.3 405.2h4v4h-4zM595.3 413.2h4v4h-4zM599.3 421.2h4v4h-4zM603.3 433.2h4v4h-4zM611.3 449.2h4v4h-4zM575.3 453.2h4v4h-4z"/>
<path fill="#818181" d="M555.3 381.2h4v4h-4zM555.3 441.2h4v4h-4zM607.3 441.2h4v4h-4z"/>
<path fill="#828282" d="M563.3 393.2h4v4h-4zM591.3 409.2h4v4h-4zM539.3 417.2h4v4h-4zM543.3 425.2h4v4h-4zM547.3 433.2h4v4h-4z"/>
<path fill="#838383" d="M571.3 397.2h4v4h-4zM563.3 445.2h4v4h-4z"/>
<path fill="#848484" d="M559.3 389.2h4v4h-4zM543.3 421.2h4v4h-4zM599.3 425.2h4v4h-4zM551.3 437.2h4v4h-4z"/>
<path fill="#858585" d="M567.3 397.2h4v4h-4zM579.3 401.2h4v4h-4zM539.3 413.2h4v4h-4zM547.3 429.2h4v4h-4zM571.3 449.2h4v4h-4z"/>
<path fill="#868686" d="M543.3 381.2h4v4h-4zM539.3 385.2h4v4h-4zM611.3 453.2h4v4h-4zM591.3 465.2h4v4h-4z"/>
<path fill="#878787" d="M551.3 381.2h4v4h-4zM555.3 385.2h4v4h-4zM563.3 397.2h4v4h-4z"/>
<path fill="#888888" d="M559.3 393.2h4v4h-4zM543.3 417.2h4v4h-4zM595.3 417.2h4v4h-4zM547.3 425.2h4v4h-4zM587.3 461.2h4v4h-4z"/>
<path fill="#898989" d="M547.3 381.2h4v4h-4zM539.3 409.2h4v4h-4zM603.3 437.2h4v4h-4zM583.3 457.2h4v4h-4zM611.3 457.2h4v4h-4zM611.3 461.2h4v4h-4z"/>
<path fill="#8a8a8a" d="M551.3 433.2h4v4h-4zM607.3 445.2h4v4h-4z"/>
<path fill="#8b8b8b" d="M539.3 389.2h4v4h-4zM559.3 397.2h4v4h-4zM575.3 401.2h4v4h-4zM583.3 405.2h4v4h-4zM547.3 421.2h4v4h-4zM599.3 429.2h4v4h-4zM559.3 441.2h4v4h-4zM579.3 453.2h4v4h-4z"/>
<path fill="#8c8c8c" d="M555.3 389.2h4v4h-4zM539.3 405.2h4v4h-4zM543.3 413.2h4v4h-4z"/>
<path fill="#8d8d8d" d="M571.3 401.2h4v4h-4zM547.3 417.2h4v4h-4zM555.3 437.2h4v4h-4z"/>
<path fill="#8e8e8e" d="M543.3 385.2h4v4h-4zM551.3 385.2h4v4h-4zM539.3 393.2h4v4h-4zM539.3 401.2h4v4h-4zM563.3 401.2h4v4h-4zM567.3 401.2h4v4h-4zM591.3 413.2h4v4h-4zM551.3 429.2h4v4h-4zM595.3 465.2h4v4h-4z"/>
<path fill="#8f8f8f" d="M539.3 397.2h4v4h-4zM587.3 409.2h4v4h-4zM567.3 445.2h4v4h-4z"/>
<path fill="#909090" d="M547.3 385.2h4v4h-4zM555.3 393.2h4v4h-4zM559.3 401.2h4v4h-4zM543.3 409.2h4v4h-4zM547.3 413.2h4v4h-4zM595.3 421.2h4v4h-4z"/>
<path fill="#919191" d="M551.3 425.2h4v4h-4zM575.3 449.2h4v4h-4z"/>
<path fill="#929292" d="M555.3 397.2h4v4h-4zM607.3 449.2h4v4h-4z"/>
<path fill="#939393" d="M543.3 389.2h4v4h-4zM551.3 389.2h4v4h-4zM555.3 401.2h4v4h-4zM547.3 409.2h4v4h-4zM551.3 421.2h4v4h-4zM599.3 433.2h4v4h-4zM591.3 461.2h4v4h-4zM599.3 465.2h4v4h-4z"/>
<path fill="#949494" d="M543.3 405.2h4v4h-4zM579.3 405.2h4v4h-4zM551.3 417.2h4v4h-4zM603.3 441.2h4v4h-4zM603.3 465.2h4v4h-4z"/>
<path fill="#959595" d="M555.3 405.2h4v4h-4zM551.3 409.2h4v4h-4zM551.3 413.2h4v4h-4zM587.3 457.2h4v4h-4z"/>
<path fill="#969696" d="M547.3 389.2h4v4h-4zM551.3 405.2h4v4h-4zM559.3 405.2h4v4h-4zM555.3 433.2h4v4h-4zM607.3 461.2h4v4h-4z"/>
<path fill="#979797" d="M543.3 393.2h4v4h-4zM551.3 393.2h4v4h-4zM543.3 401.2h4v4h-4zM547.3 405.2h4v4h-4zM583.3 453.2h4v4h-4zM607.3 453.2h4v4h-4z"/>
<path fill="#989898" d="M543.3 397.2h4v4h-4zM551.3 397.2h4v4h-4zM551.3 401.2h4v4h-4zM563.3 405.2h4v4h-4zM555.3 409.2h4v4h-4zM595.3 425.2h4v4h-4zM563.3 441.2h4v4h-4z"/>
<path fill="#999999" d="M591.3 417.2h4v4h-4zM607.3 457.2h4v4h-4z"/>
<path fill="#9a9a9a" d="M547.3 393.2h4v4h-4zM547.3 401.2h4v4h-4zM575.3 405.2h4v4h-4z"/>
<path fill="#9b9b9b" d="M547.3 397.2h4v4h-4zM567.3 405.2h4v4h-4zM559.3 437.2h4v4h-4z"/>
<path fill="#9c9c9c" d="M571.3 405.2h4v4h-4zM583.3 409.2h4v4h-4zM555.3 413.2h4v4h-4zM595.3 461.2h4v4h-4z"/>
<path fill="#9d9d9d" d="M555.3 429.2h4v4h-4zM571.3 445.2h4v4h-4zM579.3 449.2h4v4h-4z"/>
<path fill="#9e9e9e" d="M559.3 409.2h4v4h-4zM587.3 413.2h4v4h-4zM603.3 461.2h4v4h-4z"/>
<path fill="#9f9f9f" d="M555.3 417.2h4v4h-4zM603.3 445.2h4v4h-4z"/>
<path fill="#a0a0a0" d="M555.3 425.2h4v4h-4zM599.3 437.2h4v4h-4z"/>
<path fill="#a1a1a1" d="M555.3 421.2h4v4h-4zM595.3 429.2h4v4h-4zM591.3 457.2h4v4h-4zM599.3 461.2h4v4h-4z"/>
<path fill="#a5a5a5" d="M591.3 421.2h4v4h-4zM587.3 453.2h4v4h-4z"/>
<path fill="#a6a6a6" d="M563.3 409.2h4v4h-4zM603.3 449.2h4v4h-4zM603.3 457.2h4v4h-4z"/>
<path fill="#a7a7a7" d="M579.3 409.2h4v4h-4zM559.3 413.2h4v4h-4z"/>
<path fill="#a8a8a8" d="M559.3 433.2h4v4h-4zM603.3 453.2h4v4h-4z"/>
<path fill="#a9a9a9" d="M567.3 441.2h4v4h-4z"/>
<path fill="#aaaaaa" d="M575.3 445.2h4v4h-4zM583.3 449.2h4v4h-4zM595.3 457.2h4v4h-4z"/>
<path fill="#acacac" d="M595.3 433.2h4v4h-4zM599.3 441.2h4v4h-4zM599.3 457.2h4v4h-4z"/>
<path fill="#adadad" d="M567.3 409.2h4v4h-4zM563.3 437.2h4v4h-4z"/>
<path fill="#afafaf" d="M575.3 409.2h4v4h-4zM583.3 413.2h4v4h-4zM587.3 417.2h4v4h-4z"/>
<path fill="#b0b0b0" d="M559.3 417.2h4v4h-4z"/>
<path fill="#b1b1b1" d="M571.3 409.2h4v4h-4zM591.3 425.2h4v4h-4zM591.3 453.2h4v4h-4z"/>
<path fill="#b2b2b2" d="M559.3 429.2h4v4h-4z"/>
<path fill="#b3b3b3" d="M599.3 453.2h4v4h-4z"/>
<path fill="#b4b4b4" d="M599.3 445.2h4v4h-4z"/>
<path fill="#b6b6b6" d="M563.3 413.2h4v4h-4zM559.3 421.2h4v4h-4zM579.3 445.2h4v4h-4zM599.3 449.2h4v4h-4zM595.3 453.2h4v4h-4z"/>
<path fill="#b7b7b7" d="M559.3 425.2h4v4h-4zM587.3 449.2h4v4h-4z"/>
<path fill="#b9b9b9" d="M595.3 437.2h4v4h-4zM571.3 441.2h4v4h-4z"/>
<path fill="#bdbdbd" d="M591.3 429.2h4v4h-4z"/>
<path fill="#bfbfbf" d="M579.3 413.2h4v4h-4zM591.3 449.2h4v4h-4zM595.3 449.2h4v4h-4z"/>
<path fill="#c0c0c0" d="M587.3 421.2h4v4h-4zM563.3 433.2h4v4h-4zM583.3 445.2h4v4h-4z"/>
<path fill="#c2c2c2" d="M595.3 441.2h4v4h-4z"/>
<path fill="#c3c3c3" d="M567.3 413.2h4v4h-4zM567.3 437.2h4v4h-4z"/>
<path fill="#c4c4c4" d="M595.3 445.2h4v4h-4z"/>
<path fill="#c5c5c5" d="M563.3 417.2h4v4h-4zM583.3 417.2h4v4h-4z"/>
<path fill="#c7c7c7" d="M591.3 433.2h4v4h-4zM575.3 441.2h4v4h-4z"/>
<path fill="#c9c9c9" d="M575.3 413.2h4v4h-4zM587.3 445.2h4v4h-4z"/>
<path fill="#cacaca" d="M571.3 413.2h4v4h-4z"/>
<path fill="#cbcbcb" d="M591.3 445.2h4v4h-4z"/>
<path fill="#cdcdcd" d="M563.3 429.2h4v4h-4z"/>
<path fill="#cecece" d="M591.3 437.2h4v4h-4z"/>
<path fill="#cfcfcf" d="M563.3 421.2h4v4h-4zM587.3 425.2h4v4h-4z"/>
<path fill="#d0d0d0" d="M579.3 441.2h4v4h-4z"/>
<path fill="#d1d1d1" d="M591.3 441.2h4v4h-4z"/>
<path fill="#d2d2d2" d="M563.3 425.2h4v4h-4z"/>
<path fill="#d5d5d5" d="M583.3 441.2h4v4h-4z"/>
<path fill="#d6d6d6" d="M587.3 441.2h4v4h-4z"/>
<path fill="#d7d7d7" d="M571.3 437.2h4v4h-4z"/>
<path fill="#d8d8d8" d="M567.3 417.2h4v4h-4z"/>
<path fill="#d9d9d9" d="M579.3 417.2h4v4h-4zM587.3 429.2h4v4h-4z"/>
<path fill="#dadada" d="M567.3 433.2h4v4h-4z"/>
<path fill="#dbdbdb" d="M583.3 421.2h4v4h-4z"/>
<path fill="#dcdcdc" d="M587.3 437.2h4v4h-4z"/>
<path fill="#dddddd" d="M587.3 433.2h4v4h-4z"/>
<path fill="#e4e4e4" d="M571.3 417.2h4v4h-4zM575.3 417.2h4v4h-4zM575.3 437.2h4v4h-4z"/>
<path fill="#e5e5e5" d="M583.3 437.2h4v4h-4z"/>
<path fill="#e8e8e8" d="M567.3 421.2h4v4h-4zM579.3 437.2h4v4h-4z"/>
<path fill="#e9e9e9" d="M567.3 429.2h4v4h-4z"/>
<path fill="#ebebeb" d="M583.3 425.2h4v4h-4z"/>
<path fill="#efefef" d="M567.3 425.2h4v4h-4zM583.3 433.2h4v4h-4z"/>
<path fill="#f0f0f0" d="M571.3 433.2h4v4h-4z"/>
<path fill="#f1f1f1" d="M579.3 421.2h4v4h-4z"/>
<path fill="#f2f2f2" d="M583.3 429.2h4v4h-4z"/>
<path fill="#f9f9f9" d="M571.3 421.2h4v4h-4z"/>
<path fill="#fbfbfb" d="M579.3 433.2h4v4h-4z"/>
<path fill="#fcfcfc" d="M575.3 421.2h4v4h-4zM575.3 433.2h4v4h-4z"/>
<path fill="#ffffff" d="M571.3 425.2h4v4h-4zM575.3 425.2h4v4h-4zM579.3 425.2h4v4h-4zM571.3 429.2h4v4h-4zM575.3 429.2h4v4h-4zM579.3 429.2h4v4h-4z"/>
</g></g>
<path d="M547.30,341.20 L652.20,445.20 A300,300 0 0 1 547.30,464.10 Z" fill="none" stroke="#000" stroke-width="0.9" shape-rendering="geometricPrecision"/>
<g clip-path="url(#cdY)"><g filter="url(#fm)">
<path fill="#0a0a0a" d="M796.4 441.3h4v4h-4zM796.4 445.3h4v4h-4z"/>
<path fill="#111111" d="M792.4 441.3h4v4h-4zM800.4 441.3h4v4h-4zM792.4 445.3h4v4h-4zM800.4 445.3h4v4h-4z"/>
<path fill="#1c1c1c" d="M796.4 437.3h4v4h-4zM796.4 449.3h4v4h-4z"/>
<path fill="#1f1f1f" d="M728.4 377.3h4v4h-4z"/>
<path fill="#212121" d="M724.4 373.3h4v4h-4z"/>
<path fill="#222222" d="M792.4 437.3h4v4h-4zM800.4 437.3h4v4h-4zM792.4 449.3h4v4h-4zM800.4 449.3h4v4h-4z"/>
<path fill="#232323" d="M728.4 373.3h4v4h-4zM804.4 441.3h4v4h-4zM804.4 445.3h4v4h-4z"/>
<path fill="#242424" d="M724.4 377.3h4v4h-4zM732.4 381.3h4v4h-4zM788.4 441.3h4v4h-4zM788.4 445.3h4v4h-4z"/>
<path fill="#252525" d="M732.4 377.3h4v4h-4zM728.4 381.3h4v4h-4z"/>
<path fill="#292929" d="M724.4 369.3h4v4h-4z"/>
<path fill="#2a2a2a" d="M720.4 369.3h4v4h-4zM720.4 373.3h4v4h-4z"/>
<path fill="#2c2c2c" d="M736.4 381.3h4v4h-4z"/>
<path fill="#2d2d2d" d="M732.4 385.3h4v4h-4z"/>
<path fill="#2e2e2e" d="M736.4 385.3h4v4h-4z"/>
<path fill="#2f2f2f" d="M732.4 373.3h4v4h-4z"/>
<path fill="#303030" d="M728.4 369.3h4v4h-4zM804.4 437.3h4v4h-4zM804.4 449.3h4v4h-4z"/>
<path fill="#313131" d="M724.4 381.3h4v4h-4z"/>
<path fill="#323232" d="M736.4 377.3h4v4h-4zM788.4 437.3h4v4h-4zM788.4 449.3h4v4h-4z"/>
<path fill="#333333" d="M720.4 365.3h4v4h-4z"/>
<path fill="#343434" d="M720.4 377.3h4v4h-4z"/>
<path fill="#353535" d="M728.4 385.3h4v4h-4z"/>
<path fill="#363636" d="M716.4 369.3h4v4h-4zM796.4 433.3h4v4h-4zM796.4 453.3h4v4h-4z"/>
<path fill="#373737" d="M724.4 365.3h4v4h-4zM740.4 385.3h4v4h-4z"/>
<path fill="#383838" d="M716.4 365.3h4v4h-4zM736.4 389.3h4v4h-4z"/>
<path fill="#393939" d="M740.4 381.3h4v4h-4zM800.4 433.3h4v4h-4z"/>
<path fill="#3a3a3a" d="M792.4 433.3h4v4h-4zM792.4 453.3h4v4h-4z"/>
<path fill="#3b3b3b" d="M740.4 389.3h4v4h-4z"/>
<path fill="#3c3c3c" d="M716.4 373.3h4v4h-4zM784.4 441.3h4v4h-4z"/>
<path fill="#3d3d3d" d="M732.4 369.3h4v4h-4zM736.4 373.3h4v4h-4zM732.4 389.3h4v4h-4zM784.4 445.3h4v4h-4z"/>
<path fill="#404040" d="M728.4 365.3h4v4h-4z"/>
<path fill="#414141" d="M716.4 361.3h4v4h-4zM720.4 361.3h4v4h-4zM740.4 377.3h4v4h-4z"/>
<path fill="#434343" d="M744.4 385.3h4v4h-4zM744.4 389.3h4v4h-4z"/>
<path fill="#444444" d="M740.4 393.3h4v4h-4z"/>
<path fill="#454545" d="M712.4 365.3h4v4h-4zM788.4 433.3h4v4h-4zM784.4 437.3h4v4h-4zM788.4 453.3h4v4h-4z"/>
<path fill="#464646" d="M720.4 381.3h4v4h-4zM724.4 385.3h4v4h-4zM736.4 393.3h4v4h-4zM784.4 449.3h4v4h-4z"/>
<path fill="#474747" d="M724.4 361.3h4v4h-4zM744.4 381.3h4v4h-4zM744.4 393.3h4v4h-4z"/>
<path fill="#484848" d="M712.4 361.3h4v4h-4z"/>
<path fill="#494949" d="M712.4 369.3h4v4h-4zM728.4 389.3h4v4h-4z"/>
<path fill="#4a4a4a" d="M736.4 369.3h4v4h-4z"/>
<path fill="#4b4b4b" d="M732.4 365.3h4v4h-4zM740.4 373.3h4v4h-4zM716.4 377.3h4v4h-4z"/>
<path fill="#4c4c4c" d="M748.4 389.3h4v4h-4zM796.4 429.3h4v4h-4z"/>
<path fill="#4d4d4d" d="M716.4 357.3h4v4h-4zM748.4 393.3h4v4h-4z"/>
<path fill="#4e4e4e" d="M744.4 377.3h4v4h-4zM748.4 385.3h4v4h-4zM732.4 393.3h4v4h-4zM744.4 397.3h4v4h-4z"/>
<path fill="#4f4f4f" d="M712.4 357.3h4v4h-4zM720.4 357.3h4v4h-4zM728.4 361.3h4v4h-4zM740.4 397.3h4v4h-4zM792.4 429.3h4v4h-4z"/>
<path fill="#525252" d="M748.4 397.3h4v4h-4zM784.4 433.3h4v4h-4z"/>
<path fill="#535353" d="M748.4 381.3h4v4h-4zM736.4 397.3h4v4h-4zM780.4 441.3h4v4h-4zM784.4 453.3h4v4h-4z"/>
<path fill="#545454" d="M724.4 357.3h4v4h-4zM708.4 361.3h4v4h-4zM712.4 373.3h4v4h-4zM752.4 393.3h4v4h-4zM780.4 445.3h4v4h-4z"/>
<path fill="#555555" d="M752.4 389.3h4v4h-4zM788.4 429.3h4v4h-4z"/>
<path fill="#565656" d="M708.4 357.3h4v4h-4zM708.4 365.3h4v4h-4zM752.4 397.3h4v4h-4z"/>
<path fill="#575757" d="M716.4 353.3h4v4h-4zM752.4 385.3h4v4h-4zM744.4 401.3h4v4h-4zM780.4 437.3h4v4h-4zM700.4 457.3h4v4h-4zM704.4 457.3h4v4h-4z"/>
<path fill="#585858" d="M712.4 353.3h4v4h-4zM748.4 401.3h4v4h-4z"/>
<path fill="#595959" d="M720.4 353.3h4v4h-4zM740.4 401.3h4v4h-4z"/>
<path fill="#5a5a5a" d="M724.4 389.3h4v4h-4zM756.4 393.3h4v4h-4zM752.4 401.3h4v4h-4z"/>
<path fill="#5b5b5b" d="M720.4 385.3h4v4h-4zM756.4 389.3h4v4h-4zM728.4 393.3h4v4h-4zM756.4 397.3h4v4h-4zM780.4 449.3h4v4h-4zM696.4 457.3h4v4h-4zM708.4 457.3h4v4h-4z"/>
<path fill="#5c5c5c" d="M708.4 353.3h4v4h-4zM732.4 397.3h4v4h-4zM792.4 425.3h4v4h-4zM700.4 461.3h4v4h-4zM704.4 461.3h4v4h-4z"/>
<path fill="#5d5d5d" d="M756.4 401.3h4v4h-4zM784.4 429.3h4v4h-4zM704.4 453.3h4v4h-4zM784.4 457.3h4v4h-4z"/>
<path fill="#5e5e5e" d="M712.4 349.3h4v4h-4zM716.4 349.3h4v4h-4zM708.4 369.3h4v4h-4zM760.4 393.3h4v4h-4zM760.4 397.3h4v4h-4zM736.4 401.3h4v4h-4zM748.4 405.3h4v4h-4zM780.4 433.3h4v4h-4zM700.4 453.3h4v4h-4zM708.4 461.3h4v4h-4z"/>
<path fill="#5f5f5f" d="M716.4 381.3h4v4h-4zM744.4 405.3h4v4h-4zM752.4 405.3h4v4h-4zM788.4 425.3h4v4h-4zM696.4 461.3h4v4h-4z"/>
<path fill="#606060" d="M760.4 401.3h4v4h-4z"/>
<path fill="#616161" d="M708.4 349.3h4v4h-4zM704.4 357.3h4v4h-4zM764.4 397.3h4v4h-4zM740.4 405.3h4v4h-4zM756.4 405.3h4v4h-4zM708.4 453.3h4v4h-4zM712.4 457.3h4v4h-4z"/>
<path fill="#626262" d="M712.4 345.3h4v4h-4zM704.4 361.3h4v4h-4zM764.4 401.3h4v4h-4zM768.4 401.3h4v4h-4zM696.4 453.3h4v4h-4zM780.4 453.3h4v4h-4zM692.4 457.3h4v4h-4zM712.4 461.3h4v4h-4z"/>
<path fill="#636363" d="M704.4 353.3h4v4h-4zM760.4 405.3h4v4h-4zM788.4 421.3h4v4h-4zM784.4 425.3h4v4h-4z"/>
<path fill="#646464" d="M712.4 377.3h4v4h-4zM764.4 405.3h4v4h-4zM768.4 405.3h4v4h-4zM772.4 405.3h4v4h-4zM780.4 429.3h4v4h-4zM692.4 461.3h4v4h-4zM700.4 465.3h4v4h-4zM704.4 465.3h4v4h-4zM708.4 465.3h4v4h-4z"/>
<path fill="#656565" d="M708.4 345.3h4v4h-4zM744.4 409.3h4v4h-4zM748.4 409.3h4v4h-4zM752.4 409.3h4v4h-4zM776.4 409.3h4v4h-4zM784.4 417.3h4v4h-4zM784.4 421.3h4v4h-4zM776.4 441.3h4v4h-4z"/>
<path fill="#666666" d="M688.4 333.3h4v4h-4zM708.4 341.3h4v4h-4zM704.4 349.3h4v4h-4zM732.4 401.3h4v4h-4zM736.4 405.3h4v4h-4zM756.4 409.3h4v4h-4zM760.4 409.3h4v4h-4zM768.4 409.3h4v4h-4zM772.4 409.3h4v4h-4zM780.4 413.3h4v4h-4zM776.4 437.3h4v4h-4zM712.4 453.3h4v4h-4zM780.4 457.3h4v4h-4zM696.4 465.3h4v4h-4zM712.4 465.3h4v4h-4z"/>
<path fill="#676767" d="M692.4 333.3h4v4h-4zM704.4 365.3h4v4h-4zM740.4 409.3h4v4h-4zM764.4 409.3h4v4h-4zM776.4 413.3h4v4h-4zM780.4 417.3h4v4h-4zM716.4 461.3h4v4h-4z"/>
<path fill="#686868" d="M696.4 333.3h4v4h-4zM700.4 333.3h4v4h-4zM688.4 337.3h4v4h-4zM704.4 337.3h4v4h-4zM772.4 413.3h4v4h-4zM780.4 421.3h4v4h-4zM780.4 425.3h4v4h-4zM776.4 433.3h4v4h-4zM776.4 445.3h4v4h-4zM716.4 457.3h4v4h-4z"/>
<path fill="#696969" d="M704.4 341.3h4v4h-4zM704.4 345.3h4v4h-4zM728.4 397.3h4v4h-4zM776.4 417.3h4v4h-4zM688.4 461.3h4v4h-4zM692.4 465.3h4v4h-4zM716.4 465.3h4v4h-4zM704.4 469.3h4v4h-4zM708.4 469.3h4v4h-4zM712.4 469.3h4v4h-4zM716.4 469.3h4v4h-4z"/>
<path fill="#6a6a6a" d="M692.4 337.3h4v4h-4zM700.4 337.3h4v4h-4zM688.4 341.3h4v4h-4zM764.4 413.3h4v4h-4zM768.4 413.3h4v4h-4zM692.4 453.3h4v4h-4zM688.4 457.3h4v4h-4zM700.4 469.3h4v4h-4zM720.4 469.3h4v4h-4z"/>
<path fill="#6b6b6b" d="M696.4 337.3h4v4h-4zM700.4 353.3h4v4h-4zM700.4 357.3h4v4h-4zM708.4 373.3h4v4h-4zM724.4 393.3h4v4h-4zM736.4 409.3h4v4h-4zM744.4 413.3h4v4h-4zM748.4 413.3h4v4h-4zM752.4 413.3h4v4h-4zM756.4 413.3h4v4h-4zM760.4 413.3h4v4h-4zM772.4 417.3h4v4h-4zM776.4 421.3h4v4h-4zM776.4 429.3h4v4h-4zM688.4 465.3h4v4h-4zM696.4 469.3h4v4h-4zM724.4 469.3h4v4h-4z"/>
<path fill="#6c6c6c" d="M700.4 341.3h4v4h-4zM688.4 345.3h4v4h-4zM700.4 349.3h4v4h-4zM740.4 413.3h4v4h-4zM776.4 425.3h4v4h-4zM720.4 465.3h4v4h-4zM692.4 469.3h4v4h-4zM728.4 469.3h4v4h-4z"/>
<path fill="#6d6d6d" d="M692.4 341.3h4v4h-4zM696.4 341.3h4v4h-4zM700.4 345.3h4v4h-4zM732.4 405.3h4v4h-4zM768.4 417.3h4v4h-4zM772.4 421.3h4v4h-4zM776.4 449.3h4v4h-4zM716.4 453.3h4v4h-4zM688.4 469.3h4v4h-4z"/>
<path fill="#6e6e6e" d="M688.4 349.3h4v4h-4zM700.4 361.3h4v4h-4zM720.4 389.3h4v4h-4zM736.4 413.3h4v4h-4zM764.4 417.3h4v4h-4zM720.4 461.3h4v4h-4z"/>
<path fill="#6f6f6f" d="M692.4 345.3h4v4h-4zM696.4 345.3h4v4h-4zM740.4 417.3h4v4h-4zM744.4 417.3h4v4h-4zM760.4 417.3h4v4h-4zM772.4 425.3h4v4h-4zM704.4 449.3h4v4h-4zM724.4 465.3h4v4h-4z"/>
<path fill="#707070" d="M692.4 349.3h4v4h-4zM696.4 349.3h4v4h-4zM696.4 353.3h4v4h-4zM732.4 409.3h4v4h-4zM736.4 417.3h4v4h-4zM748.4 417.3h4v4h-4zM752.4 417.3h4v4h-4zM756.4 417.3h4v4h-4zM768.4 421.3h4v4h-4zM772.4 429.3h4v4h-4zM772.4 433.3h4v4h-4zM772.4 437.3h4v4h-4zM708.4 449.3h4v4h-4z"/>
<path fill="#717171" d="M688.4 353.3h4v4h-4zM704.4 369.3h4v4h-4zM728.4 401.3h4v4h-4zM700.4 449.3h4v4h-4zM688.4 453.3h4v4h-4zM776.4 453.3h4v4h-4zM720.4 457.3h4v4h-4zM776.4 457.3h4v4h-4z"/>
<path fill="#727272" d="M692.4 353.3h4v4h-4zM696.4 357.3h4v4h-4zM716.4 385.3h4v4h-4zM732.4 413.3h4v4h-4zM736.4 421.3h4v4h-4zM740.4 421.3h4v4h-4zM764.4 421.3h4v4h-4zM768.4 425.3h4v4h-4z"/>
<path fill="#737373" d="M688.4 357.3h4v4h-4zM744.4 421.3h4v4h-4zM760.4 421.3h4v4h-4zM772.4 441.3h4v4h-4zM712.4 449.3h4v4h-4z"/>
<path fill="#747474" d="M732.4 417.3h4v4h-4zM732.4 421.3h4v4h-4zM748.4 421.3h4v4h-4zM752.4 421.3h4v4h-4zM756.4 421.3h4v4h-4zM736.4 425.3h4v4h-4zM740.4 425.3h4v4h-4zM768.4 429.3h4v4h-4zM728.4 465.3h4v4h-4z"/>
<path fill="#757575" d="M692.4 357.3h4v4h-4zM700.4 365.3h4v4h-4zM732.4 425.3h4v4h-4zM764.4 425.3h4v4h-4zM768.4 433.3h4v4h-4zM724.4 461.3h4v4h-4z"/>
<path fill="#767676" d="M696.4 361.3h4v4h-4zM712.4 381.3h4v4h-4zM728.4 405.3h4v4h-4zM744.4 425.3h4v4h-4zM760.4 425.3h4v4h-4zM736.4 429.3h4v4h-4zM696.4 449.3h4v4h-4zM720.4 453.3h4v4h-4z"/>
<path fill="#777777" d="M688.4 361.3h4v4h-4zM724.4 397.3h4v4h-4zM748.4 425.3h4v4h-4zM756.4 425.3h4v4h-4zM732.4 429.3h4v4h-4zM740.4 429.3h4v4h-4zM764.4 429.3h4v4h-4z"/>
<path fill="#787878" d="M752.4 425.3h4v4h-4zM768.4 437.3h4v4h-4zM716.4 449.3h4v4h-4z"/>
<path fill="#797979" d="M692.4 361.3h4v4h-4zM728.4 409.3h4v4h-4zM744.4 429.3h4v4h-4zM760.4 429.3h4v4h-4zM764.4 433.3h4v4h-4zM772.4 445.3h4v4h-4zM732.4 465.3h4v4h-4z"/>
<path fill="#7a7a7a" d="M708.4 377.3h4v4h-4zM728.4 413.3h4v4h-4zM728.4 417.3h4v4h-4zM728.4 421.3h4v4h-4zM728.4 425.3h4v4h-4zM728.4 429.3h4v4h-4zM748.4 429.3h4v4h-4zM756.4 429.3h4v4h-4zM732.4 433.3h4v4h-4zM736.4 433.3h4v4h-4z"/>
<path fill="#7b7b7b" d="M752.4 429.3h4v4h-4zM692.4 449.3h4v4h-4zM724.4 457.3h4v4h-4z"/>
<path fill="#7c7c7c" d="M696.4 365.3h4v4h-4zM728.4 433.3h4v4h-4zM740.4 433.3h4v4h-4zM772.4 457.3h4v4h-4z"/>
<path fill="#7d7d7d" d="M688.4 365.3h4v4h-4zM704.4 373.3h4v4h-4zM720.4 393.3h4v4h-4zM760.4 433.3h4v4h-4zM768.4 461.3h4v4h-4z"/>
<path fill="#7e7e7e" d="M700.4 369.3h4v4h-4zM724.4 401.3h4v4h-4zM744.4 433.3h4v4h-4zM764.4 437.3h4v4h-4zM768.4 441.3h4v4h-4zM720.4 449.3h4v4h-4zM772.4 449.3h4v4h-4zM728.4 461.3h4v4h-4z"/>
<path fill="#7f7f7f" d="M692.4 365.3h4v4h-4zM748.4 433.3h4v4h-4zM756.4 433.3h4v4h-4zM736.4 465.3h4v4h-4z"/>
<path fill="#808080" d="M752.4 433.3h4v4h-4zM728.4 437.3h4v4h-4zM732.4 437.3h4v4h-4zM688.4 449.3h4v4h-4zM772.4 453.3h4v4h-4z"/>
<path fill="#828282" d="M716.4 389.3h4v4h-4zM724.4 405.3h4v4h-4zM724.4 429.3h4v4h-4zM724.4 433.3h4v4h-4zM716.4 445.3h4v4h-4zM724.4 453.3h4v4h-4z"/>
<path fill="#838383" d="M688.4 369.3h4v4h-4zM724.4 425.3h4v4h-4zM724.4 437.3h4v4h-4zM736.4 437.3h4v4h-4zM760.4 437.3h4v4h-4zM712.4 445.3h4v4h-4zM740.4 465.3h4v4h-4z"/>
<path fill="#848484" d="M724.4 409.3h4v4h-4zM724.4 413.3h4v4h-4zM724.4 417.3h4v4h-4zM724.4 421.3h4v4h-4zM708.4 445.3h4v4h-4zM720.4 445.3h4v4h-4z"/>
<path fill="#858585" d="M696.4 369.3h4v4h-4zM724.4 441.3h4v4h-4zM752.4 465.3h4v4h-4z"/>
<path fill="#868686" d="M692.4 369.3h4v4h-4zM712.4 385.3h4v4h-4zM720.4 397.3h4v4h-4zM740.4 437.3h4v4h-4zM744.4 465.3h4v4h-4z"/>
<path fill="#878787" d="M756.4 437.3h4v4h-4zM720.4 441.3h4v4h-4zM728.4 441.3h4v4h-4zM764.4 441.3h4v4h-4zM704.4 445.3h4v4h-4zM768.4 445.3h4v4h-4zM724.4 449.3h4v4h-4zM764.4 461.3h4v4h-4zM748.4 465.3h4v4h-4z"/>
<path fill="#888888" d="M744.4 437.3h4v4h-4zM724.4 445.3h4v4h-4z"/>
<path fill="#898989" d="M700.4 373.3h4v4h-4zM708.4 381.3h4v4h-4zM720.4 437.3h4v4h-4zM752.4 437.3h4v4h-4zM728.4 457.3h4v4h-4zM768.4 457.3h4v4h-4zM732.4 461.3h4v4h-4z"/>
<path fill="#8a8a8a" d="M704.4 377.3h4v4h-4zM748.4 437.3h4v4h-4z"/>
<path fill="#8b8b8b" d="M688.4 373.3h4v4h-4zM720.4 433.3h4v4h-4zM716.4 441.3h4v4h-4zM732.4 441.3h4v4h-4zM700.4 445.3h4v4h-4z"/>
<path fill="#8c8c8c" d="M720.4 401.3h4v4h-4zM720.4 429.3h4v4h-4z"/>
<path fill="#8d8d8d" d="M716.4 393.3h4v4h-4z"/>
<path fill="#8e8e8e" d="M720.4 425.3h4v4h-4zM768.4 449.3h4v4h-4z"/>
<path fill="#8f8f8f" d="M692.4 373.3h4v4h-4zM696.4 373.3h4v4h-4zM720.4 405.3h4v4h-4zM760.4 441.3h4v4h-4zM696.4 445.3h4v4h-4zM728.4 445.3h4v4h-4zM768.4 453.3h4v4h-4z"/>
<path fill="#909090" d="M720.4 421.3h4v4h-4zM712.4 441.3h4v4h-4zM728.4 453.3h4v4h-4zM760.4 461.3h4v4h-4z"/>
<path fill="#919191" d="M720.4 409.3h4v4h-4zM720.4 417.3h4v4h-4zM716.4 437.3h4v4h-4zM736.4 441.3h4v4h-4z"/>
<path fill="#929292" d="M712.4 389.3h4v4h-4zM720.4 413.3h4v4h-4z"/>
<path fill="#939393" d="M688.4 445.3h4v4h-4zM692.4 445.3h4v4h-4zM764.4 445.3h4v4h-4zM728.4 449.3h4v4h-4zM736.4 461.3h4v4h-4z"/>
<path fill="#949494" d="M688.4 377.3h4v4h-4z"/>
<path fill="#959595" d="M700.4 377.3h4v4h-4zM716.4 397.3h4v4h-4zM716.4 433.3h4v4h-4z"/>
<path fill="#969696" d="M708.4 385.3h4v4h-4zM708.4 441.3h4v4h-4zM756.4 441.3h4v4h-4zM764.4 457.3h4v4h-4z"/>
<path fill="#979797" d="M704.4 381.3h4v4h-4zM740.4 441.3h4v4h-4z"/>
<path fill="#989898" d="M732.4 445.3h4v4h-4zM732.4 457.3h4v4h-4z"/>
<path fill="#999999" d="M692.4 377.3h4v4h-4zM696.4 377.3h4v4h-4zM716.4 429.3h4v4h-4zM756.4 461.3h4v4h-4z"/>
<path fill="#9a9a9a" d="M716.4 401.3h4v4h-4zM712.4 437.3h4v4h-4zM744.4 441.3h4v4h-4zM752.4 441.3h4v4h-4z"/>
<path fill="#9b9b9b" d="M740.4 461.3h4v4h-4z"/>
<path fill="#9c9c9c" d="M712.4 393.3h4v4h-4zM716.4 425.3h4v4h-4zM748.4 441.3h4v4h-4z"/>
<path fill="#9d9d9d" d="M716.4 405.3h4v4h-4zM704.4 441.3h4v4h-4zM764.4 449.3h4v4h-4z"/>
<path fill="#9e9e9e" d="M688.4 381.3h4v4h-4zM716.4 421.3h4v4h-4z"/>
<path fill="#9f9f9f" d="M716.4 409.3h4v4h-4zM716.4 417.3h4v4h-4zM760.4 445.3h4v4h-4zM764.4 453.3h4v4h-4zM752.4 461.3h4v4h-4z"/>
<path fill="#a0a0a0" d="M700.4 381.3h4v4h-4zM716.4 413.3h4v4h-4z"/>
<path fill="#a1a1a1" d="M708.4 389.3h4v4h-4zM712.4 433.3h4v4h-4zM732.4 449.3h4v4h-4zM732.4 453.3h4v4h-4zM744.4 461.3h4v4h-4z"/>
<path fill="#a2a2a2" d="M748.4 461.3h4v4h-4z"/>
<path fill="#a3a3a3" d="M704.4 385.3h4v4h-4zM712.4 397.3h4v4h-4zM700.4 441.3h4v4h-4zM736.4 445.3h4v4h-4z"/>
<path fill="#a4a4a4" d="M692.4 381.3h4v4h-4zM708.4 437.3h4v4h-4zM760.4 457.3h4v4h-4z"/>
<path fill="#a5a5a5" d="M696.4 381.3h4v4h-4zM688.4 441.3h4v4h-4z"/>
<path fill="#a6a6a6" d="M712.4 429.3h4v4h-4zM736.4 457.3h4v4h-4z"/>
<path fill="#a8a8a8" d="M712.4 401.3h4v4h-4zM696.4 441.3h4v4h-4z"/>
<path fill="#a9a9a9" d="M688.4 385.3h4v4h-4zM708.4 393.3h4v4h-4zM692.4 441.3h4v4h-4zM756.4 445.3h4v4h-4z"/>
<path fill="#aaaaaa" d="M712.4 425.3h4v4h-4z"/>
<path fill="#ababab" d="M712.4 405.3h4v4h-4z"/>
<path fill="#acacac" d="M700.4 385.3h4v4h-4zM712.4 421.3h4v4h-4zM740.4 445.3h4v4h-4zM760.4 449.3h4v4h-4z"/>
<path fill="#adadad" d="M704.4 389.3h4v4h-4zM712.4 409.3h4v4h-4zM708.4 433.3h4v4h-4zM704.4 437.3h4v4h-4z"/>
<path fill="#aeaeae" d="M712.4 413.3h4v4h-4zM712.4 417.3h4v4h-4z"/>
<path fill="#afafaf" d="M692.4 385.3h4v4h-4zM760.4 453.3h4v4h-4z"/>
<path fill="#b0b0b0" d="M696.4 385.3h4v4h-4zM708.4 397.3h4v4h-4zM752.4 445.3h4v4h-4zM736.4 449.3h4v4h-4zM756.4 457.3h4v4h-4z"/>
<path fill="#b1b1b1" d="M744.4 445.3h4v4h-4z"/>
<path fill="#b2b2b2" d="M736.4 453.3h4v4h-4z"/>
<path fill="#b3b3b3" d="M688.4 389.3h4v4h-4zM708.4 429.3h4v4h-4zM748.4 445.3h4v4h-4zM740.4 457.3h4v4h-4z"/>
<path fill="#b5b5b5" d="M688.4 437.3h4v4h-4z"/>
<path fill="#b6b6b6" d="M700.4 389.3h4v4h-4zM704.4 393.3h4v4h-4zM708.4 401.3h4v4h-4zM700.4 437.3h4v4h-4z"/>
<path fill="#b8b8b8" d="M708.4 425.3h4v4h-4z"/>
<path fill="#b9b9b9" d="M704.4 433.3h4v4h-4zM756.4 449.3h4v4h-4zM752.4 457.3h4v4h-4z"/>
<path fill="#bababa" d="M692.4 389.3h4v4h-4zM708.4 405.3h4v4h-4zM744.4 457.3h4v4h-4z"/>
<path fill="#bbbbbb" d="M696.4 389.3h4v4h-4zM708.4 421.3h4v4h-4zM692.4 437.3h4v4h-4zM696.4 437.3h4v4h-4z"/>
<path fill="#bcbcbc" d="M708.4 409.3h4v4h-4zM740.4 449.3h4v4h-4zM756.4 453.3h4v4h-4z"/>
<path fill="#bdbdbd" d="M688.4 393.3h4v4h-4zM708.4 417.3h4v4h-4zM748.4 457.3h4v4h-4z"/>
<path fill="#bebebe" d="M704.4 397.3h4v4h-4zM708.4 413.3h4v4h-4z"/>
<path fill="#c0c0c0" d="M700.4 393.3h4v4h-4zM740.4 453.3h4v4h-4z"/>
<path fill="#c1c1c1" d="M704.4 429.3h4v4h-4zM688.4 433.3h4v4h-4z"/>
<path fill="#c2c2c2" d="M752.4 449.3h4v4h-4z"/>
<path fill="#c3c3c3" d="M700.4 433.3h4v4h-4z"/>
<path fill="#c4c4c4" d="M704.4 401.3h4v4h-4zM744.4 449.3h4v4h-4z"/>
<path fill="#c5c5c5" d="M692.4 393.3h4v4h-4z"/>
<path fill="#c6c6c6" d="M696.4 393.3h4v4h-4zM688.4 397.3h4v4h-4zM748.4 449.3h4v4h-4zM752.4 453.3h4v4h-4z"/>
<path fill="#c7c7c7" d="M704.4 425.3h4v4h-4z"/>
<path fill="#c8c8c8" d="M744.4 453.3h4v4h-4z"/>
<path fill="#c9c9c9" d="M700.4 397.3h4v4h-4zM704.4 405.3h4v4h-4zM692.4 433.3h4v4h-4zM696.4 433.3h4v4h-4z"/>
<path fill="#cacaca" d="M688.4 429.3h4v4h-4z"/>
<path fill="#cbcbcb" d="M704.4 421.3h4v4h-4zM748.4 453.3h4v4h-4z"/>
<path fill="#cccccc" d="M704.4 409.3h4v4h-4z"/>
<path fill="#cdcdcd" d="M704.4 413.3h4v4h-4zM704.4 417.3h4v4h-4zM700.4 429.3h4v4h-4z"/>
<path fill="#cecece" d="M688.4 401.3h4v4h-4z"/>
<path fill="#cfcfcf" d="M692.4 397.3h4v4h-4z"/>
<path fill="#d0d0d0" d="M696.4 397.3h4v4h-4zM700.4 401.3h4v4h-4z"/>
<path fill="#d1d1d1" d="M688.4 425.3h4v4h-4z"/>
<path fill="#d3d3d3" d="M700.4 425.3h4v4h-4zM692.4 429.3h4v4h-4z"/>
<path fill="#d4d4d4" d="M688.4 405.3h4v4h-4zM696.4 429.3h4v4h-4z"/>
<path fill="#d6d6d6" d="M700.4 405.3h4v4h-4z"/>
<path fill="#d7d7d7" d="M692.4 401.3h4v4h-4zM688.4 421.3h4v4h-4z"/>
<path fill="#d8d8d8" d="M696.4 401.3h4v4h-4zM688.4 409.3h4v4h-4zM700.4 421.3h4v4h-4z"/>
<path fill="#d9d9d9" d="M688.4 417.3h4v4h-4z"/>
<path fill="#dadada" d="M700.4 409.3h4v4h-4zM688.4 413.3h4v4h-4z"/>
<path fill="#dbdbdb" d="M700.4 413.3h4v4h-4zM700.4 417.3h4v4h-4zM692.4 425.3h4v4h-4zM696.4 425.3h4v4h-4z"/>
<path fill="#dedede" d="M692.4 405.3h4v4h-4zM696.4 405.3h4v4h-4z"/>
<path fill="#e0e0e0" d="M692.4 421.3h4v4h-4z"/>
<path fill="#e1e1e1" d="M696.4 421.3h4v4h-4z"/>
<path fill="#e2e2e2" d="M692.4 409.3h4v4h-4zM696.4 409.3h4v4h-4z"/>
<path fill="#e4e4e4" d="M692.4 413.3h4v4h-4zM696.4 413.3h4v4h-4zM692.4 417.3h4v4h-4zM696.4 417.3h4v4h-4z"/>
</g></g>
<path d="M696.40,341.30 L801.30,445.30 A300,300 0 0 1 696.40,464.20 Z" fill="none" stroke="#000" stroke-width="0.9" shape-rendering="geometricPrecision"/>
<g clip-path="url(#cdZ)"><g filter="url(#fm)">
<path fill="#151515" d="M946.1 441.3h4v4h-4z"/>
<path fill="#1d1d1d" d="M946.1 445.3h4v4h-4z"/>
<path fill="#242424" d="M942.1 441.3h4v4h-4zM950.1 441.3h4v4h-4z"/>
<path fill="#2a2a2a" d="M946.1 437.3h4v4h-4zM942.1 445.3h4v4h-4z"/>
<path fill="#2b2b2b" d="M950.1 445.3h4v4h-4z"/>
<path fill="#353535" d="M942.1 437.3h4v4h-4z"/>
<path fill="#363636" d="M950.1 437.3h4v4h-4z"/>
<path fill="#3b3b3b" d="M946.1 449.3h4v4h-4z"/>
<path fill="#414141" d="M938.1 441.3h4v4h-4z"/>
<path fill="#424242" d="M874.1 457.3h4v4h-4zM878.1 457.3h4v4h-4z"/>
<path fill="#444444" d="M942.1 449.3h4v4h-4z"/>
<path fill="#454545" d="M954.1 441.3h4v4h-4zM950.1 449.3h4v4h-4z"/>
<path fill="#464646" d="M938.1 445.3h4v4h-4z"/>
<path fill="#494949" d="M938.1 437.3h4v4h-4zM954.1 445.3h4v4h-4zM874.1 453.3h4v4h-4zM878.1 453.3h4v4h-4z"/>
<path fill="#4b4b4b" d="M946.1 433.3h4v4h-4z"/>
<path fill="#4d4d4d" d="M882.1 457.3h4v4h-4z"/>
<path fill="#4e4e4e" d="M870.1 457.3h4v4h-4z"/>
<path fill="#505050" d="M942.1 433.3h4v4h-4zM954.1 437.3h4v4h-4z"/>
<path fill="#535353" d="M950.1 433.3h4v4h-4zM870.1 453.3h4v4h-4zM882.1 453.3h4v4h-4z"/>
<path fill="#545454" d="M874.1 461.3h4v4h-4zM878.1 461.3h4v4h-4z"/>
<path fill="#575757" d="M934.1 437.3h4v4h-4zM934.1 441.3h4v4h-4zM938.1 449.3h4v4h-4z"/>
<path fill="#585858" d="M938.1 433.3h4v4h-4zM954.1 449.3h4v4h-4z"/>
<path fill="#5b5b5b" d="M946.1 453.3h4v4h-4zM870.1 461.3h4v4h-4zM882.1 461.3h4v4h-4z"/>
<path fill="#5d5d5d" d="M934.1 433.3h4v4h-4zM930.1 437.3h4v4h-4zM934.1 445.3h4v4h-4zM886.1 457.3h4v4h-4z"/>
<path fill="#5e5e5e" d="M866.1 457.3h4v4h-4z"/>
<path fill="#5f5f5f" d="M930.1 433.3h4v4h-4zM942.1 453.3h4v4h-4z"/>
<path fill="#616161" d="M866.1 365.3h4v4h-4zM874.1 449.3h4v4h-4zM878.1 449.3h4v4h-4zM886.1 453.3h4v4h-4z"/>
<path fill="#626262" d="M866.1 361.3h4v4h-4zM930.1 441.3h4v4h-4zM866.1 453.3h4v4h-4z"/>
<path fill="#636363" d="M870.1 365.3h4v4h-4z"/>
<path fill="#646464" d="M870.1 361.3h4v4h-4z"/>
<path fill="#656565" d="M862.1 365.3h4v4h-4zM946.1 429.3h4v4h-4zM926.1 437.3h4v4h-4zM886.1 461.3h4v4h-4z"/>
<path fill="#666666" d="M866.1 369.3h4v4h-4zM942.1 429.3h4v4h-4zM926.1 433.3h4v4h-4zM882.1 449.3h4v4h-4zM866.1 461.3h4v4h-4z"/>
<path fill="#676767" d="M862.1 361.3h4v4h-4zM934.1 429.3h4v4h-4zM938.1 429.3h4v4h-4zM870.1 449.3h4v4h-4zM890.1 457.3h4v4h-4z"/>
<path fill="#686868" d="M870.1 369.3h4v4h-4zM930.1 429.3h4v4h-4zM934.1 449.3h4v4h-4zM938.1 453.3h4v4h-4z"/>
<path fill="#696969" d="M870.1 357.3h4v4h-4zM874.1 361.3h4v4h-4zM874.1 365.3h4v4h-4zM890.1 453.3h4v4h-4zM874.1 465.3h4v4h-4zM878.1 465.3h4v4h-4z"/>
<path fill="#6a6a6a" d="M866.1 357.3h4v4h-4zM862.1 369.3h4v4h-4zM926.1 441.3h4v4h-4zM930.1 445.3h4v4h-4z"/>
<path fill="#6c6c6c" d="M862.1 457.3h4v4h-4zM890.1 461.3h4v4h-4zM882.1 465.3h4v4h-4z"/>
<path fill="#6d6d6d" d="M874.1 357.3h4v4h-4zM874.1 369.3h4v4h-4zM886.1 449.3h4v4h-4zM870.1 465.3h4v4h-4z"/>
<path fill="#6e6e6e" d="M894.1 449.3h4v4h-4zM862.1 453.3h4v4h-4z"/>
<path fill="#6f6f6f" d="M878.1 361.3h4v4h-4zM858.1 365.3h4v4h-4zM878.1 365.3h4v4h-4zM894.1 445.3h4v4h-4zM866.1 449.3h4v4h-4zM894.1 453.3h4v4h-4zM886.1 465.3h4v4h-4z"/>
<path fill="#707070" d="M870.1 353.3h4v4h-4zM866.1 373.3h4v4h-4zM870.1 373.3h4v4h-4zM890.1 449.3h4v4h-4zM862.1 461.3h4v4h-4z"/>
<path fill="#717171" d="M862.1 357.3h4v4h-4zM934.1 425.3h4v4h-4zM938.1 425.3h4v4h-4zM926.1 429.3h4v4h-4zM898.1 437.3h4v4h-4zM926.1 445.3h4v4h-4zM930.1 449.3h4v4h-4zM934.1 453.3h4v4h-4zM894.1 457.3h4v4h-4zM866.1 465.3h4v4h-4z"/>
<path fill="#727272" d="M878.1 369.3h4v4h-4zM942.1 425.3h4v4h-4z"/>
<path fill="#737373" d="M866.1 353.3h4v4h-4zM858.1 361.3h4v4h-4zM874.1 373.3h4v4h-4zM890.1 465.3h4v4h-4z"/>
<path fill="#747474" d="M882.1 365.3h4v4h-4zM858.1 369.3h4v4h-4zM862.1 373.3h4v4h-4zM898.1 433.3h4v4h-4zM894.1 441.3h4v4h-4zM898.1 441.3h4v4h-4zM878.1 445.3h4v4h-4zM858.1 457.3h4v4h-4zM894.1 461.3h4v4h-4z"/>
<path fill="#757575" d="M930.1 425.3h4v4h-4zM902.1 429.3h4v4h-4zM874.1 445.3h4v4h-4zM882.1 445.3h4v4h-4zM862.1 449.3h4v4h-4zM926.1 449.3h4v4h-4zM930.1 453.3h4v4h-4zM934.1 457.3h4v4h-4zM858.1 461.3h4v4h-4zM862.1 465.3h4v4h-4zM870.1 469.3h4v4h-4zM874.1 469.3h4v4h-4zM878.1 469.3h4v4h-4z"/>
<path fill="#767676" d="M882.1 369.3h4v4h-4zM938.1 421.3h4v4h-4zM902.1 425.3h4v4h-4zM858.1 453.3h4v4h-4zM894.1 465.3h4v4h-4z"/>
<path fill="#777777" d="M878.1 373.3h4v4h-4zM922.1 437.3h4v4h-4zM870.1 445.3h4v4h-4zM886.1 445.3h4v4h-4zM890.1 445.3h4v4h-4zM926.1 453.3h4v4h-4zM930.1 457.3h4v4h-4zM858.1 465.3h4v4h-4zM862.1 469.3h4v4h-4zM866.1 469.3h4v4h-4z"/>
<path fill="#787878" d="M934.1 421.3h4v4h-4zM894.1 437.3h4v4h-4zM854.1 457.3h4v4h-4zM926.1 457.3h4v4h-4zM838.1 461.3h4v4h-4zM854.1 461.3h4v4h-4zM898.1 461.3h4v4h-4zM838.1 465.3h4v4h-4zM842.1 465.3h4v4h-4zM846.1 465.3h4v4h-4zM850.1 465.3h4v4h-4zM854.1 465.3h4v4h-4zM898.1 465.3h4v4h-4zM838.1 469.3h4v4h-4zM842.1 469.3h4v4h-4zM846.1 469.3h4v4h-4zM850.1 469.3h4v4h-4zM854.1 469.3h4v4h-4zM858.1 469.3h4v4h-4z"/>
<path fill="#797979" d="M886.1 369.3h4v4h-4zM882.1 373.3h4v4h-4zM914.1 397.3h4v4h-4zM914.1 401.3h4v4h-4zM918.1 401.3h4v4h-4zM910.1 405.3h4v4h-4zM914.1 405.3h4v4h-4zM910.1 409.3h4v4h-4zM906.1 417.3h4v4h-4zM902.1 421.3h4v4h-4zM906.1 421.3h4v4h-4zM898.1 429.3h4v4h-4zM922.1 441.3h4v4h-4zM838.1 449.3h4v4h-4zM858.1 449.3h4v4h-4zM838.1 453.3h4v4h-4zM842.1 453.3h4v4h-4zM854.1 453.3h4v4h-4zM838.1 457.3h4v4h-4zM842.1 457.3h4v4h-4zM846.1 457.3h4v4h-4zM850.1 457.3h4v4h-4zM922.1 457.3h4v4h-4zM842.1 461.3h4v4h-4zM846.1 461.3h4v4h-4zM850.1 461.3h4v4h-4zM918.1 461.3h4v4h-4zM902.1 465.3h4v4h-4z"/>
<path fill="#7a7a7a" d="M886.1 373.3h4v4h-4zM866.1 377.3h4v4h-4zM870.1 377.3h4v4h-4zM906.1 389.3h4v4h-4zM910.1 393.3h4v4h-4zM910.1 397.3h4v4h-4zM910.1 401.3h4v4h-4zM918.1 405.3h4v4h-4zM906.1 413.3h4v4h-4zM910.1 413.3h4v4h-4zM902.1 433.3h4v4h-4zM890.1 441.3h4v4h-4zM838.1 445.3h4v4h-4zM866.1 445.3h4v4h-4zM898.1 445.3h4v4h-4zM842.1 449.3h4v4h-4zM846.1 449.3h4v4h-4zM846.1 453.3h4v4h-4zM850.1 453.3h4v4h-4zM922.1 453.3h4v4h-4zM898.1 457.3h4v4h-4z"/>
<path fill="#7b7b7b" d="M866.1 349.3h4v4h-4zM890.1 373.3h4v4h-4zM874.1 377.3h4v4h-4zM902.1 385.3h4v4h-4zM906.1 393.3h4v4h-4zM906.1 397.3h4v4h-4zM906.1 401.3h4v4h-4zM906.1 405.3h4v4h-4zM922.1 405.3h4v4h-4zM906.1 409.3h4v4h-4zM914.1 409.3h4v4h-4zM902.1 417.3h4v4h-4zM894.1 433.3h4v4h-4zM922.1 433.3h4v4h-4zM838.1 441.3h4v4h-4zM842.1 445.3h4v4h-4zM846.1 445.3h4v4h-4zM922.1 445.3h4v4h-4zM850.1 449.3h4v4h-4zM854.1 449.3h4v4h-4zM922.1 449.3h4v4h-4zM914.1 461.3h4v4h-4z"/>
<path fill="#7c7c7c" d="M862.1 353.3h4v4h-4zM878.1 377.3h4v4h-4zM890.1 377.3h4v4h-4zM894.1 377.3h4v4h-4zM898.1 381.3h4v4h-4zM898.1 385.3h4v4h-4zM902.1 389.3h4v4h-4zM902.1 393.3h4v4h-4zM902.1 397.3h4v4h-4zM902.1 409.3h4v4h-4zM902.1 413.3h4v4h-4zM934.1 417.3h4v4h-4zM898.1 425.3h4v4h-4zM838.1 437.3h4v4h-4zM890.1 437.3h4v4h-4zM842.1 441.3h4v4h-4zM882.1 441.3h4v4h-4zM886.1 441.3h4v4h-4zM850.1 445.3h4v4h-4zM862.1 445.3h4v4h-4zM918.1 457.3h4v4h-4zM902.1 461.3h4v4h-4z"/>
<path fill="#7d7d7d" d="M854.1 365.3h4v4h-4zM858.1 373.3h4v4h-4zM882.1 377.3h4v4h-4zM886.1 377.3h4v4h-4zM894.1 381.3h4v4h-4zM898.1 389.3h4v4h-4zM902.1 401.3h4v4h-4zM902.1 405.3h4v4h-4zM898.1 421.3h4v4h-4zM894.1 429.3h4v4h-4zM838.1 433.3h4v4h-4zM842.1 437.3h4v4h-4zM846.1 441.3h4v4h-4zM878.1 441.3h4v4h-4zM854.1 445.3h4v4h-4zM858.1 445.3h4v4h-4z"/>
<path fill="#7e7e7e" d="M858.1 357.3h4v4h-4zM862.1 377.3h4v4h-4zM890.1 381.3h4v4h-4zM894.1 385.3h4v4h-4zM898.1 393.3h4v4h-4zM918.1 409.3h4v4h-4zM898.1 413.3h4v4h-4zM898.1 417.3h4v4h-4zM910.1 417.3h4v4h-4zM894.1 425.3h4v4h-4zM890.1 433.3h4v4h-4zM846.1 437.3h4v4h-4zM886.1 437.3h4v4h-4zM850.1 441.3h4v4h-4zM854.1 441.3h4v4h-4zM870.1 441.3h4v4h-4zM874.1 441.3h4v4h-4zM898.1 453.3h4v4h-4z"/>
<path fill="#7f7f7f" d="M898.1 397.3h4v4h-4zM898.1 401.3h4v4h-4zM898.1 405.3h4v4h-4zM898.1 409.3h4v4h-4zM894.1 421.3h4v4h-4zM906.1 425.3h4v4h-4zM838.1 429.3h4v4h-4zM890.1 429.3h4v4h-4zM842.1 433.3h4v4h-4zM886.1 433.3h4v4h-4zM850.1 437.3h4v4h-4zM882.1 437.3h4v4h-4zM858.1 441.3h4v4h-4zM862.1 441.3h4v4h-4zM866.1 441.3h4v4h-4zM898.1 449.3h4v4h-4zM906.1 461.3h4v4h-4zM910.1 461.3h4v4h-4z"/>
<path fill="#808080" d="M854.1 369.3h4v4h-4zM886.1 381.3h4v4h-4zM890.1 385.3h4v4h-4zM894.1 389.3h4v4h-4zM914.1 413.3h4v4h-4zM894.1 417.3h4v4h-4zM890.1 425.3h4v4h-4zM846.1 433.3h4v4h-4zM854.1 437.3h4v4h-4zM878.1 437.3h4v4h-4z"/>
<path fill="#818181" d="M882.1 381.3h4v4h-4zM894.1 393.3h4v4h-4zM894.1 413.3h4v4h-4zM842.1 429.3h4v4h-4zM886.1 429.3h4v4h-4zM882.1 433.3h4v4h-4zM858.1 437.3h4v4h-4zM874.1 437.3h4v4h-4z"/>
<path fill="#828282" d="M854.1 361.3h4v4h-4zM866.1 381.3h4v4h-4zM870.1 381.3h4v4h-4zM878.1 381.3h4v4h-4zM894.1 397.3h4v4h-4zM894.1 401.3h4v4h-4zM894.1 405.3h4v4h-4zM894.1 409.3h4v4h-4zM890.1 421.3h4v4h-4zM930.1 421.3h4v4h-4zM838.1 425.3h4v4h-4zM850.1 433.3h4v4h-4zM854.1 433.3h4v4h-4zM878.1 433.3h4v4h-4zM862.1 437.3h4v4h-4zM866.1 437.3h4v4h-4zM870.1 437.3h4v4h-4z"/>
<path fill="#838383" d="M874.1 381.3h4v4h-4zM886.1 385.3h4v4h-4zM890.1 389.3h4v4h-4zM922.1 409.3h4v4h-4zM890.1 417.3h4v4h-4zM886.1 425.3h4v4h-4zM846.1 429.3h4v4h-4zM882.1 429.3h4v4h-4zM858.1 433.3h4v4h-4z"/>
<path fill="#848484" d="M890.1 413.3h4v4h-4zM886.1 421.3h4v4h-4zM842.1 425.3h4v4h-4zM926.1 425.3h4v4h-4zM850.1 429.3h4v4h-4zM862.1 433.3h4v4h-4zM866.1 433.3h4v4h-4zM870.1 433.3h4v4h-4zM874.1 433.3h4v4h-4zM902.1 437.3h4v4h-4zM918.1 453.3h4v4h-4z"/>
<path fill="#858585" d="M858.1 377.3h4v4h-4zM862.1 381.3h4v4h-4zM890.1 393.3h4v4h-4zM890.1 409.3h4v4h-4zM926.1 409.3h4v4h-4zM838.1 421.3h4v4h-4zM882.1 425.3h4v4h-4zM854.1 429.3h4v4h-4zM858.1 429.3h4v4h-4zM878.1 429.3h4v4h-4z"/>
<path fill="#868686" d="M890.1 397.3h4v4h-4zM890.1 405.3h4v4h-4zM886.1 417.3h4v4h-4zM846.1 425.3h4v4h-4zM850.1 425.3h4v4h-4zM862.1 429.3h4v4h-4zM874.1 429.3h4v4h-4zM902.1 457.3h4v4h-4zM914.1 457.3h4v4h-4z"/>
<path fill="#878787" d="M862.1 349.3h4v4h-4zM854.1 373.3h4v4h-4zM882.1 385.3h4v4h-4zM886.1 389.3h4v4h-4zM890.1 401.3h4v4h-4zM886.1 413.3h4v4h-4zM930.1 413.3h4v4h-4zM882.1 421.3h4v4h-4zM910.1 421.3h4v4h-4zM854.1 425.3h4v4h-4zM858.1 425.3h4v4h-4zM878.1 425.3h4v4h-4zM866.1 429.3h4v4h-4zM870.1 429.3h4v4h-4zM922.1 429.3h4v4h-4z"/>
<path fill="#888888" d="M842.1 421.3h4v4h-4zM862.1 425.3h4v4h-4zM874.1 425.3h4v4h-4z"/>
<path fill="#898989" d="M866.1 385.3h4v4h-4zM878.1 385.3h4v4h-4zM886.1 409.3h4v4h-4zM838.1 417.3h4v4h-4zM882.1 417.3h4v4h-4zM930.1 417.3h4v4h-4zM846.1 421.3h4v4h-4zM850.1 421.3h4v4h-4zM854.1 421.3h4v4h-4zM858.1 421.3h4v4h-4zM862.1 421.3h4v4h-4zM878.1 421.3h4v4h-4zM866.1 425.3h4v4h-4zM870.1 425.3h4v4h-4z"/>
<path fill="#8a8a8a" d="M862.1 385.3h4v4h-4zM870.1 385.3h4v4h-4zM874.1 385.3h4v4h-4zM886.1 393.3h4v4h-4zM918.1 413.3h4v4h-4zM858.1 417.3h4v4h-4zM862.1 417.3h4v4h-4zM866.1 421.3h4v4h-4zM874.1 421.3h4v4h-4zM906.1 429.3h4v4h-4z"/>
<path fill="#8b8b8b" d="M850.1 365.3h4v4h-4zM858.1 381.3h4v4h-4zM886.1 405.3h4v4h-4zM858.1 413.3h4v4h-4zM862.1 413.3h4v4h-4zM882.1 413.3h4v4h-4zM854.1 417.3h4v4h-4zM866.1 417.3h4v4h-4zM878.1 417.3h4v4h-4zM914.1 417.3h4v4h-4zM870.1 421.3h4v4h-4z"/>
<path fill="#8c8c8c" d="M858.1 353.3h4v4h-4zM850.1 369.3h4v4h-4zM882.1 389.3h4v4h-4zM886.1 397.3h4v4h-4zM886.1 401.3h4v4h-4zM842.1 417.3h4v4h-4zM850.1 417.3h4v4h-4zM870.1 417.3h4v4h-4zM874.1 417.3h4v4h-4z"/>
<path fill="#8d8d8d" d="M862.1 345.3h4v4h-4zM862.1 389.3h4v4h-4zM858.1 409.3h4v4h-4zM862.1 409.3h4v4h-4zM882.1 409.3h4v4h-4zM838.1 413.3h4v4h-4zM854.1 413.3h4v4h-4zM866.1 413.3h4v4h-4zM878.1 413.3h4v4h-4zM846.1 417.3h4v4h-4z"/>
<path fill="#8e8e8e" d="M854.1 357.3h4v4h-4zM838.1 369.3h4v4h-4zM854.1 377.3h4v4h-4zM866.1 389.3h4v4h-4zM858.1 405.3h4v4h-4zM862.1 405.3h4v4h-4zM866.1 409.3h4v4h-4zM870.1 413.3h4v4h-4zM874.1 413.3h4v4h-4zM918.1 449.3h4v4h-4z"/>
<path fill="#8f8f8f" d="M838.1 365.3h4v4h-4zM858.1 385.3h4v4h-4zM862.1 393.3h4v4h-4zM862.1 401.3h4v4h-4zM882.1 405.3h4v4h-4zM854.1 409.3h4v4h-4zM850.1 413.3h4v4h-4z"/>
<path fill="#909090" d="M850.1 361.3h4v4h-4zM838.1 373.3h4v4h-4zM850.1 373.3h4v4h-4zM870.1 389.3h4v4h-4zM878.1 389.3h4v4h-4zM882.1 393.3h4v4h-4zM862.1 397.3h4v4h-4zM858.1 401.3h4v4h-4zM870.1 409.3h4v4h-4zM878.1 409.3h4v4h-4zM902.1 441.3h4v4h-4z"/>
<path fill="#919191" d="M858.1 389.3h4v4h-4zM858.1 393.3h4v4h-4zM858.1 397.3h4v4h-4zM854.1 405.3h4v4h-4zM866.1 405.3h4v4h-4zM838.1 409.3h4v4h-4zM874.1 409.3h4v4h-4zM842.1 413.3h4v4h-4zM846.1 413.3h4v4h-4z"/>
<path fill="#929292" d="M846.1 369.3h4v4h-4zM874.1 389.3h4v4h-4zM866.1 393.3h4v4h-4zM882.1 397.3h4v4h-4zM882.1 401.3h4v4h-4z"/>
<path fill="#939393" d="M846.1 365.3h4v4h-4zM842.1 369.3h4v4h-4zM838.1 377.3h4v4h-4zM854.1 381.3h4v4h-4zM866.1 397.3h4v4h-4zM866.1 401.3h4v4h-4zM870.1 405.3h4v4h-4zM878.1 405.3h4v4h-4zM850.1 409.3h4v4h-4zM926.1 413.3h4v4h-4zM918.1 445.3h4v4h-4z"/>
<path fill="#949494" d="M838.1 361.3h4v4h-4zM842.1 365.3h4v4h-4zM842.1 373.3h4v4h-4zM854.1 401.3h4v4h-4zM874.1 405.3h4v4h-4zM922.1 413.3h4v4h-4zM910.1 425.3h4v4h-4zM918.1 441.3h4v4h-4zM910.1 457.3h4v4h-4z"/>
<path fill="#959595" d="M846.1 373.3h4v4h-4zM870.1 393.3h4v4h-4zM878.1 393.3h4v4h-4zM838.1 405.3h4v4h-4zM842.1 409.3h4v4h-4zM906.1 433.3h4v4h-4zM918.1 437.3h4v4h-4zM906.1 457.3h4v4h-4z"/>
<path fill="#969696" d="M850.1 377.3h4v4h-4zM838.1 381.3h4v4h-4zM854.1 385.3h4v4h-4zM854.1 397.3h4v4h-4zM870.1 401.3h4v4h-4zM878.1 401.3h4v4h-4zM846.1 409.3h4v4h-4zM926.1 421.3h4v4h-4zM902.1 453.3h4v4h-4z"/>
<path fill="#979797" d="M854.1 393.3h4v4h-4zM874.1 393.3h4v4h-4zM870.1 397.3h4v4h-4zM878.1 397.3h4v4h-4zM874.1 401.3h4v4h-4zM850.1 405.3h4v4h-4z"/>
<path fill="#989898" d="M858.1 349.3h4v4h-4zM842.1 377.3h4v4h-4zM854.1 389.3h4v4h-4z"/>
<path fill="#999999" d="M842.1 361.3h4v4h-4zM846.1 361.3h4v4h-4zM846.1 377.3h4v4h-4zM838.1 385.3h4v4h-4zM874.1 397.3h4v4h-4zM838.1 401.3h4v4h-4zM914.1 421.3h4v4h-4zM922.1 425.3h4v4h-4z"/>
<path fill="#9a9a9a" d="M850.1 381.3h4v4h-4zM850.1 401.3h4v4h-4zM842.1 405.3h4v4h-4zM846.1 405.3h4v4h-4zM918.1 433.3h4v4h-4z"/>
<path fill="#9b9b9b" d="M838.1 389.3h4v4h-4zM838.1 397.3h4v4h-4zM918.1 417.3h4v4h-4zM902.1 445.3h4v4h-4z"/>
<path fill="#9c9c9c" d="M838.1 357.3h4v4h-4zM842.1 381.3h4v4h-4zM838.1 393.3h4v4h-4zM926.1 417.3h4v4h-4zM914.1 453.3h4v4h-4z"/>
<path fill="#9d9d9d" d="M850.1 357.3h4v4h-4zM846.1 381.3h4v4h-4zM850.1 385.3h4v4h-4zM850.1 397.3h4v4h-4z"/>
<path fill="#9e9e9e" d="M854.1 353.3h4v4h-4zM842.1 401.3h4v4h-4z"/>
<path fill="#9f9f9f" d="M842.1 385.3h4v4h-4zM850.1 389.3h4v4h-4zM850.1 393.3h4v4h-4zM846.1 401.3h4v4h-4zM918.1 429.3h4v4h-4zM906.1 437.3h4v4h-4zM902.1 449.3h4v4h-4z"/>
<path fill="#a0a0a0" d="M858.1 345.3h4v4h-4z"/>
<path fill="#a1a1a1" d="M846.1 385.3h4v4h-4zM842.1 397.3h4v4h-4zM910.1 429.3h4v4h-4z"/>
<path fill="#a2a2a2" d="M842.1 389.3h4v4h-4zM842.1 393.3h4v4h-4zM846.1 397.3h4v4h-4zM914.1 425.3h4v4h-4z"/>
<path fill="#a3a3a3" d="M858.1 341.3h4v4h-4zM846.1 389.3h4v4h-4zM846.1 393.3h4v4h-4z"/>
<path fill="#a4a4a4" d="M842.1 357.3h4v4h-4zM846.1 357.3h4v4h-4zM918.1 425.3h4v4h-4z"/>
<path fill="#a5a5a5" d="M922.1 417.3h4v4h-4z"/>
<path fill="#a6a6a6" d="M918.1 421.3h4v4h-4z"/>
<path fill="#a7a7a7" d="M922.1 421.3h4v4h-4z"/>
<path fill="#a8a8a8" d="M838.1 353.3h4v4h-4z"/>
<path fill="#a9a9a9" d="M914.1 429.3h4v4h-4z"/>
<path fill="#aaaaaa" d="M910.1 433.3h4v4h-4z"/>
<path fill="#ababab" d="M914.1 437.3h4v4h-4z"/>
<path fill="#acacac" d="M854.1 349.3h4v4h-4zM906.1 441.3h4v4h-4z"/>
<path fill="#adadad" d="M850.1 353.3h4v4h-4zM914.1 441.3h4v4h-4z"/>
<path fill="#aeaeae" d="M914.1 433.3h4v4h-4zM910.1 437.3h4v4h-4z"/>
<path fill="#afafaf" d="M914.1 449.3h4v4h-4z"/>
<path fill="#b2b2b2" d="M842.1 353.3h4v4h-4z"/>
<path fill="#b3b3b3" d="M838.1 333.3h4v4h-4zM914.1 445.3h4v4h-4z"/>
<path fill="#b4b4b4" d="M846.1 353.3h4v4h-4zM906.1 453.3h4v4h-4z"/>
<path fill="#b6b6b6" d="M854.1 337.3h4v4h-4zM838.1 349.3h4v4h-4zM910.1 441.3h4v4h-4zM910.1 453.3h4v4h-4z"/>
<path fill="#b7b7b7" d="M854.1 345.3h4v4h-4z"/>
<path fill="#bababa" d="M850.1 333.3h4v4h-4zM854.1 341.3h4v4h-4zM906.1 445.3h4v4h-4z"/>
<path fill="#bdbdbd" d="M850.1 349.3h4v4h-4z"/>
<path fill="#c0c0c0" d="M842.1 333.3h4v4h-4zM838.1 337.3h4v4h-4z"/>
<path fill="#c1c1c1" d="M838.1 345.3h4v4h-4zM910.1 445.3h4v4h-4zM906.1 449.3h4v4h-4z"/>
<path fill="#c2c2c2" d="M842.1 349.3h4v4h-4z"/>
<path fill="#c3c3c3" d="M846.1 333.3h4v4h-4z"/>
<path fill="#c5c5c5" d="M838.1 341.3h4v4h-4zM846.1 349.3h4v4h-4zM910.1 449.3h4v4h-4z"/>
<path fill="#c9c9c9" d="M850.1 337.3h4v4h-4z"/>
<path fill="#cacaca" d="M850.1 345.3h4v4h-4z"/>
<path fill="#cecece" d="M850.1 341.3h4v4h-4z"/>
<path fill="#cfcfcf" d="M842.1 337.3h4v4h-4z"/>
<path fill="#d0d0d0" d="M842.1 345.3h4v4h-4z"/>
<path fill="#d2d2d2" d="M846.1 337.3h4v4h-4z"/>
<path fill="#d3d3d3" d="M846.1 345.3h4v4h-4z"/>
<path fill="#d5d5d5" d="M842.1 341.3h4v4h-4z"/>
<path fill="#d8d8d8" d="M846.1 341.3h4v4h-4z"/>
</g></g>
<path d="M846.10,341.30 L951.00,445.30 A300,300 0 0 1 846.10,464.20 Z" fill="none" stroke="#000" stroke-width="0.9" shape-rendering="geometricPrecision"/>
<rect x="468.1" y="86.7" width="14.3" height="137.5" fill="url(#cb)" stroke="#222" stroke-width="1" shape-rendering="geometricPrecision"/>
<rect x="984.4" y="87.4" width="14.6" height="137.4" fill="url(#cb)" stroke="#222" stroke-width="1" shape-rendering="geometricPrecision"/>
<rect x="468.6" y="334.5" width="13.8" height="137.3" fill="url(#cb)" stroke="#222" stroke-width="1" shape-rendering="geometricPrecision"/>
<rect x="990.2" y="332.8" width="14.4" height="138.1" fill="url(#cb)" stroke="#222" stroke-width="1" shape-rendering="geometricPrecision"/>
<g shape-rendering="geometricPrecision">
<text transform="translate(83.45,69.90) scale(0.98,1)" text-anchor="middle" font-size="18.3">X0</text>
<text transform="translate(226.35,69.80) scale(0.98,1)" text-anchor="middle" font-size="18.3">Y0</text>
<text transform="translate(367.95,69.80) scale(0.98,1)" text-anchor="middle" font-size="18.3">Z0</text>
<text transform="translate(27.15,89.60) scale(0.955,1)" text-anchor="middle" font-size="17.3">001</text>
<text transform="translate(178.35,89.80) scale(0.955,1)" text-anchor="middle" font-size="17.3">001</text>
<text transform="translate(326.35,89.80) scale(0.955,1)" text-anchor="middle" font-size="17.3">001</text>
<text transform="translate(23.05,235.60) scale(0.955,1)" text-anchor="middle" font-size="17.3">101</text>
<text transform="translate(173.90,235.60) scale(0.955,1)" text-anchor="middle" font-size="17.3">101</text>
<text transform="translate(321.90,235.60) scale(0.955,1)" text-anchor="middle" font-size="17.3">101</text>
<text transform="translate(132.25,219.60) scale(0.955,1)" text-anchor="middle" font-size="17.3">111</text>
<text transform="translate(293.15,218.80) scale(0.955,1)" text-anchor="middle" font-size="17.3">111</text>
<text transform="translate(441.00,218.80) scale(0.955,1)" text-anchor="middle" font-size="17.3">111</text>
<text transform="translate(475.50,82.90) scale(1.02,1)" text-anchor="middle" font-size="16.8">2.82</text>
<text transform="translate(475.90,241.60) scale(1.02,1)" text-anchor="middle" font-size="16.8">0.14</text>
<text transform="translate(587.95,70.10) scale(0.98,1)" text-anchor="middle" font-size="18.3">X0</text>
<text transform="translate(730.50,70.10) scale(0.98,1)" text-anchor="middle" font-size="18.3">Y0</text>
<text transform="translate(873.25,70.10) scale(0.98,1)" text-anchor="middle" font-size="18.3">Z0</text>
<text transform="translate(543.75,90.20) scale(0.955,1)" text-anchor="middle" font-size="17.3">001</text>
<text transform="translate(694.05,90.20) scale(0.955,1)" text-anchor="middle" font-size="17.3">001</text>
<text transform="translate(842.35,90.20) scale(0.955,1)" text-anchor="middle" font-size="17.3">001</text>
<text transform="translate(539.45,236.50) scale(0.955,1)" text-anchor="middle" font-size="17.3">101</text>
<text transform="translate(689.65,236.50) scale(0.955,1)" text-anchor="middle" font-size="17.3">101</text>
<text transform="translate(838.15,236.50) scale(0.955,1)" text-anchor="middle" font-size="17.3">101</text>
<text transform="translate(661.25,219.70) scale(0.955,1)" text-anchor="middle" font-size="17.3">111</text>
<text transform="translate(808.75,219.70) scale(0.955,1)" text-anchor="middle" font-size="17.3">111</text>
<text transform="translate(956.75,219.70) scale(0.955,1)" text-anchor="middle" font-size="17.3">111</text>
<text transform="translate(992.25,83.00) scale(1.02,1)" text-anchor="middle" font-size="16.8">2.56</text>
<text transform="translate(992.25,242.10) scale(1.02,1)" text-anchor="middle" font-size="16.8">0.16</text>
<text transform="translate(72.60,315.00) scale(0.98,1)" text-anchor="middle" font-size="18.3">X0</text>
<text transform="translate(214.85,315.00) scale(0.98,1)" text-anchor="middle" font-size="18.3">Y0</text>
<text transform="translate(356.55,315.00) scale(0.98,1)" text-anchor="middle" font-size="18.3">Z0</text>
<text transform="translate(22.65,337.20) scale(0.955,1)" text-anchor="middle" font-size="17.3">001</text>
<text transform="translate(173.15,337.10) scale(0.955,1)" text-anchor="middle" font-size="17.3">001</text>
<text transform="translate(321.35,337.10) scale(0.955,1)" text-anchor="middle" font-size="17.3">001</text>
<text transform="translate(18.10,483.80) scale(0.955,1)" text-anchor="middle" font-size="17.3">101</text>
<text transform="translate(168.85,483.70) scale(0.955,1)" text-anchor="middle" font-size="17.3">101</text>
<text transform="translate(317.00,483.70) scale(0.955,1)" text-anchor="middle" font-size="17.3">101</text>
<text transform="translate(140.60,466.80) scale(0.955,1)" text-anchor="middle" font-size="17.3">111</text>
<text transform="translate(287.70,466.80) scale(0.955,1)" text-anchor="middle" font-size="17.3">111</text>
<text transform="translate(435.75,466.80) scale(0.955,1)" text-anchor="middle" font-size="17.3">111</text>
<text transform="translate(475.90,329.70) scale(1.02,1)" text-anchor="middle" font-size="16.8">3.42</text>
<text transform="translate(475.90,489.70) scale(1.02,1)" text-anchor="middle" font-size="16.8">0.19</text>
<text transform="translate(592.60,315.00) scale(0.98,1)" text-anchor="middle" font-size="18.3">X0</text>
<text transform="translate(734.85,315.00) scale(0.98,1)" text-anchor="middle" font-size="18.3">Y0</text>
<text transform="translate(876.55,315.00) scale(0.98,1)" text-anchor="middle" font-size="18.3">Z0</text>
<text transform="translate(547.85,335.90) scale(0.955,1)" text-anchor="middle" font-size="17.3">001</text>
<text transform="translate(697.85,335.90) scale(0.955,1)" text-anchor="middle" font-size="17.3">001</text>
<text transform="translate(846.35,335.90) scale(0.955,1)" text-anchor="middle" font-size="17.3">001</text>
<text transform="translate(545.90,482.00) scale(0.955,1)" text-anchor="middle" font-size="17.3">101</text>
<text transform="translate(693.65,482.10) scale(0.955,1)" text-anchor="middle" font-size="17.3">101</text>
<text transform="translate(841.90,482.10) scale(0.955,1)" text-anchor="middle" font-size="17.3">101</text>
<text transform="translate(665.15,464.60) scale(0.955,1)" text-anchor="middle" font-size="17.3">111</text>
<text transform="translate(812.75,464.70) scale(0.955,1)" text-anchor="middle" font-size="17.3">111</text>
<text transform="translate(960.75,464.70) scale(0.955,1)" text-anchor="middle" font-size="17.3">111</text>
<text transform="translate(997.30,328.60) scale(1.02,1)" text-anchor="middle" font-size="16.8">1.51</text>
<text transform="translate(997.30,487.70) scale(1.02,1)" text-anchor="middle" font-size="16.8">0.42</text>
<text transform="translate(-1.54,20.77) scale(0.8,0.95)" font-size="31.0" stroke="#000" stroke-width="0.5">(</text>
<text x="10.50" y="24.19" font-size="31.0">a</text>
<text transform="translate(30.98,20.77) scale(0.8,0.95)" font-size="31.0" stroke="#000" stroke-width="0.5">)</text>
<text transform="translate(517.36,20.37) scale(0.8,0.95)" font-size="31.0" stroke="#000" stroke-width="0.5">(</text>
<text x="528.75" y="24.19" font-size="31.0">b</text>
<text transform="translate(550.78,20.37) scale(0.8,0.95)" font-size="31.0" stroke="#000" stroke-width="0.5">)</text>
<text transform="translate(-0.64,289.57) scale(0.8,0.95)" font-size="31.0" stroke="#000" stroke-width="0.5">(</text>
<text x="10.39" y="292.99" font-size="31.0">c</text>
<text transform="translate(30.58,289.57) scale(0.8,0.95)" font-size="31.0" stroke="#000" stroke-width="0.5">)</text>
<text transform="translate(517.36,289.37) scale(0.8,0.95)" font-size="31.0" stroke="#000" stroke-width="0.5">(</text>
<text x="528.93" y="292.69" font-size="31.0">d</text>
<text transform="translate(550.98,289.37) scale(0.8,0.95)" font-size="31.0" stroke="#000" stroke-width="0.5">)</text>
</g>
</svg></body></html>
